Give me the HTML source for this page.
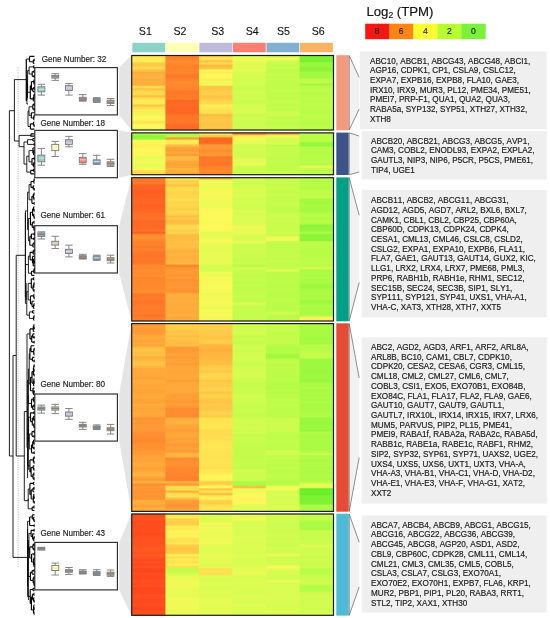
<!DOCTYPE html>
<html lang="en"><head><meta charset="utf-8"><title>Heatmap of gene clusters</title>
<style>html,body{margin:0;padding:0;background:#fff}body{width:550px;height:618px;overflow:hidden}svg{display:block}text{font-family:"Liberation Sans",sans-serif;fill:#1a1a1a;font-kerning:none}.g{font-size:8.15px;fill:#1c1c1c;stroke:#1c1c1c;stroke-width:.18px}.t{font-size:8.15px;fill:#1c1c1c;stroke:#1c1c1c;stroke-width:.15px}.s{font-size:10.6px;fill:#111;stroke:#111;stroke-width:.12px}.d line{stroke:#111;stroke-width:.7}.bx{stroke:#808080;stroke-width:.95}</style></head><body>
<svg width="550" height="618" viewBox="0 0 550 618">
<rect width="550" height="618" fill="#fff"/>
<defs>
<linearGradient id="g00" x1="0" y1="0" x2="0" y2="1"><stop offset="0.0100" stop-color="#ffdf50"/><stop offset="0.0213" stop-color="#ffdf50"/><stop offset="0.0413" stop-color="#ffed56"/><stop offset="0.0525" stop-color="#ffed56"/><stop offset="0.0725" stop-color="#ffef56"/><stop offset="0.0838" stop-color="#ffef56"/><stop offset="0.1037" stop-color="#ffcb48"/><stop offset="0.1150" stop-color="#ffcb48"/><stop offset="0.1350" stop-color="#ffc847"/><stop offset="0.1462" stop-color="#ffc847"/><stop offset="0.1663" stop-color="#ffdb4e"/><stop offset="0.1775" stop-color="#ffdb4e"/><stop offset="0.1975" stop-color="#ffc044"/><stop offset="0.2087" stop-color="#ffc044"/><stop offset="0.2288" stop-color="#ffab3b"/><stop offset="0.2400" stop-color="#ffab3b"/><stop offset="0.2600" stop-color="#ffb33e"/><stop offset="0.2712" stop-color="#ffb33e"/><stop offset="0.2913" stop-color="#ffb43f"/><stop offset="0.3025" stop-color="#ffb43f"/><stop offset="0.3225" stop-color="#ffab3b"/><stop offset="0.3337" stop-color="#ffab3b"/><stop offset="0.3538" stop-color="#ffaf3d"/><stop offset="0.3650" stop-color="#ffaf3d"/><stop offset="0.3850" stop-color="#ffab3b"/><stop offset="0.3962" stop-color="#ffab3b"/><stop offset="0.4163" stop-color="#ffdb4e"/><stop offset="0.4275" stop-color="#ffdb4e"/><stop offset="0.4475" stop-color="#ffc345"/><stop offset="0.4587" stop-color="#ffc345"/><stop offset="0.4788" stop-color="#ffd44c"/><stop offset="0.4900" stop-color="#ffd44c"/><stop offset="0.5100" stop-color="#ffdb4e"/><stop offset="0.5212" stop-color="#ffdb4e"/><stop offset="0.5413" stop-color="#ffbf43"/><stop offset="0.5525" stop-color="#ffbf43"/><stop offset="0.5725" stop-color="#ffe151"/><stop offset="0.5837" stop-color="#ffe151"/><stop offset="0.6038" stop-color="#ffec55"/><stop offset="0.6150" stop-color="#ffec55"/><stop offset="0.6350" stop-color="#ffec55"/><stop offset="0.6462" stop-color="#ffec55"/><stop offset="0.6663" stop-color="#ffc747"/><stop offset="0.6775" stop-color="#ffc747"/><stop offset="0.6975" stop-color="#ffe352"/><stop offset="0.7087" stop-color="#ffe352"/><stop offset="0.7288" stop-color="#ffeb55"/><stop offset="0.7400" stop-color="#ffeb55"/><stop offset="0.7600" stop-color="#ffed55"/><stop offset="0.7712" stop-color="#ffed55"/><stop offset="0.7913" stop-color="#e9fa55"/><stop offset="0.8025" stop-color="#e9fa55"/><stop offset="0.8225" stop-color="#fff85a"/><stop offset="0.8337" stop-color="#fff85a"/><stop offset="0.8538" stop-color="#fff659"/><stop offset="0.8650" stop-color="#fff659"/><stop offset="0.8850" stop-color="#ffe151"/><stop offset="0.8962" stop-color="#ffe151"/><stop offset="0.9163" stop-color="#fff559"/><stop offset="0.9275" stop-color="#fff559"/><stop offset="0.9475" stop-color="#fff85a"/><stop offset="0.9587" stop-color="#fff85a"/><stop offset="0.9788" stop-color="#e8fb55"/><stop offset="0.9900" stop-color="#e8fb55"/></linearGradient>
<linearGradient id="g01" x1="0" y1="0" x2="0" y2="1"><stop offset="0.0100" stop-color="#ff802b"/><stop offset="0.0213" stop-color="#ff802b"/><stop offset="0.0413" stop-color="#ff802b"/><stop offset="0.0525" stop-color="#ff802b"/><stop offset="0.0725" stop-color="#ff8b2e"/><stop offset="0.0838" stop-color="#ff8b2e"/><stop offset="0.1037" stop-color="#ff8b2e"/><stop offset="0.1150" stop-color="#ff8b2e"/><stop offset="0.1350" stop-color="#ff822b"/><stop offset="0.1462" stop-color="#ff822b"/><stop offset="0.1663" stop-color="#ff832b"/><stop offset="0.1775" stop-color="#ff832b"/><stop offset="0.1975" stop-color="#ff842b"/><stop offset="0.2087" stop-color="#ff842b"/><stop offset="0.2288" stop-color="#ff882d"/><stop offset="0.2400" stop-color="#ff882d"/><stop offset="0.2600" stop-color="#ff7929"/><stop offset="0.2712" stop-color="#ff7929"/><stop offset="0.2913" stop-color="#ff7929"/><stop offset="0.3025" stop-color="#ff7929"/><stop offset="0.3225" stop-color="#ff852c"/><stop offset="0.3337" stop-color="#ff852c"/><stop offset="0.3538" stop-color="#ff8a2e"/><stop offset="0.3650" stop-color="#ff8a2e"/><stop offset="0.3850" stop-color="#ff872c"/><stop offset="0.3962" stop-color="#ff872c"/><stop offset="0.4163" stop-color="#ff872d"/><stop offset="0.4275" stop-color="#ff872d"/><stop offset="0.4475" stop-color="#ff832b"/><stop offset="0.4587" stop-color="#ff832b"/><stop offset="0.4788" stop-color="#ff7828"/><stop offset="0.4900" stop-color="#ff7828"/><stop offset="0.5100" stop-color="#ff7829"/><stop offset="0.5212" stop-color="#ff7829"/><stop offset="0.5413" stop-color="#ff7d2a"/><stop offset="0.5525" stop-color="#ff7d2a"/><stop offset="0.5725" stop-color="#ff7e2a"/><stop offset="0.5837" stop-color="#ff7e2a"/><stop offset="0.6038" stop-color="#ff6724"/><stop offset="0.6150" stop-color="#ff6724"/><stop offset="0.6350" stop-color="#ff6a25"/><stop offset="0.6462" stop-color="#ff6a25"/><stop offset="0.6663" stop-color="#ff6a25"/><stop offset="0.6775" stop-color="#ff6a25"/><stop offset="0.6975" stop-color="#ff6524"/><stop offset="0.7087" stop-color="#ff6524"/><stop offset="0.7288" stop-color="#ff6724"/><stop offset="0.7400" stop-color="#ff6724"/><stop offset="0.7600" stop-color="#ff6624"/><stop offset="0.7712" stop-color="#ff6624"/><stop offset="0.7913" stop-color="#ff7327"/><stop offset="0.8025" stop-color="#ff7327"/><stop offset="0.8225" stop-color="#ff7828"/><stop offset="0.8337" stop-color="#ff7828"/><stop offset="0.8538" stop-color="#ff7728"/><stop offset="0.8650" stop-color="#ff7728"/><stop offset="0.8850" stop-color="#ff7b29"/><stop offset="0.8962" stop-color="#ff7b29"/><stop offset="0.9163" stop-color="#ff6d26"/><stop offset="0.9275" stop-color="#ff6d26"/><stop offset="0.9475" stop-color="#ff6925"/><stop offset="0.9587" stop-color="#ff6925"/><stop offset="0.9788" stop-color="#ff6c25"/><stop offset="0.9900" stop-color="#ff6c25"/></linearGradient>
<linearGradient id="g02" x1="0" y1="0" x2="0" y2="1"><stop offset="0.0100" stop-color="#ffcb48"/><stop offset="0.0213" stop-color="#ffcb48"/><stop offset="0.0413" stop-color="#ffeb55"/><stop offset="0.0525" stop-color="#ffeb55"/><stop offset="0.0725" stop-color="#ffc445"/><stop offset="0.0838" stop-color="#ffc445"/><stop offset="0.1037" stop-color="#ffd94d"/><stop offset="0.1150" stop-color="#ffd94d"/><stop offset="0.1350" stop-color="#ffbb41"/><stop offset="0.1462" stop-color="#ffbb41"/><stop offset="0.1663" stop-color="#ffc244"/><stop offset="0.1775" stop-color="#ffc244"/><stop offset="0.1975" stop-color="#fff85a"/><stop offset="0.2087" stop-color="#fff85a"/><stop offset="0.2288" stop-color="#ffee56"/><stop offset="0.2400" stop-color="#ffee56"/><stop offset="0.2600" stop-color="#fff559"/><stop offset="0.2712" stop-color="#fff559"/><stop offset="0.2913" stop-color="#fff659"/><stop offset="0.3025" stop-color="#fff659"/><stop offset="0.3225" stop-color="#ffeb55"/><stop offset="0.3337" stop-color="#ffeb55"/><stop offset="0.3538" stop-color="#edfa56"/><stop offset="0.3650" stop-color="#edfa56"/><stop offset="0.3850" stop-color="#f0fa57"/><stop offset="0.3962" stop-color="#f0fa57"/><stop offset="0.4163" stop-color="#ffc847"/><stop offset="0.4275" stop-color="#ffc847"/><stop offset="0.4475" stop-color="#ffc646"/><stop offset="0.4587" stop-color="#ffc646"/><stop offset="0.4788" stop-color="#ffcd49"/><stop offset="0.4900" stop-color="#ffcd49"/><stop offset="0.5100" stop-color="#ffd24b"/><stop offset="0.5212" stop-color="#ffd24b"/><stop offset="0.5413" stop-color="#ffc345"/><stop offset="0.5525" stop-color="#ffc345"/><stop offset="0.5725" stop-color="#ffc847"/><stop offset="0.5837" stop-color="#ffc847"/><stop offset="0.6038" stop-color="#ffd74d"/><stop offset="0.6150" stop-color="#ffd74d"/><stop offset="0.6350" stop-color="#ffd84d"/><stop offset="0.6462" stop-color="#ffd84d"/><stop offset="0.6663" stop-color="#fff258"/><stop offset="0.6775" stop-color="#fff258"/><stop offset="0.6975" stop-color="#ffe954"/><stop offset="0.7087" stop-color="#ffe954"/><stop offset="0.7288" stop-color="#ffdf50"/><stop offset="0.7400" stop-color="#ffdf50"/><stop offset="0.7600" stop-color="#ffe351"/><stop offset="0.7712" stop-color="#ffe351"/><stop offset="0.7913" stop-color="#ffbc42"/><stop offset="0.8025" stop-color="#ffbc42"/><stop offset="0.8225" stop-color="#ffc345"/><stop offset="0.8337" stop-color="#ffc345"/><stop offset="0.8538" stop-color="#ffc847"/><stop offset="0.8650" stop-color="#ffc847"/><stop offset="0.8850" stop-color="#ffc546"/><stop offset="0.8962" stop-color="#ffc546"/><stop offset="0.9163" stop-color="#ffc345"/><stop offset="0.9275" stop-color="#ffc345"/><stop offset="0.9475" stop-color="#ffc546"/><stop offset="0.9587" stop-color="#ffc546"/><stop offset="0.9788" stop-color="#ffc245"/><stop offset="0.9900" stop-color="#ffc245"/></linearGradient>
<linearGradient id="g03" x1="0" y1="0" x2="0" y2="1"><stop offset="0.0100" stop-color="#dafc51"/><stop offset="0.0213" stop-color="#dafc51"/><stop offset="0.0413" stop-color="#eefa56"/><stop offset="0.0525" stop-color="#eefa56"/><stop offset="0.0725" stop-color="#f0fa57"/><stop offset="0.0838" stop-color="#f0fa57"/><stop offset="0.1037" stop-color="#e0fc53"/><stop offset="0.1150" stop-color="#e0fc53"/><stop offset="0.1350" stop-color="#e0fc53"/><stop offset="0.1462" stop-color="#e0fc53"/><stop offset="0.1663" stop-color="#e2fb53"/><stop offset="0.1775" stop-color="#e2fb53"/><stop offset="0.1975" stop-color="#e6fb54"/><stop offset="0.2087" stop-color="#e6fb54"/><stop offset="0.2288" stop-color="#d7fc51"/><stop offset="0.2400" stop-color="#d7fc51"/><stop offset="0.2600" stop-color="#d7fc51"/><stop offset="0.2712" stop-color="#d7fc51"/><stop offset="0.2913" stop-color="#d3fc4f"/><stop offset="0.3025" stop-color="#d3fc4f"/><stop offset="0.3225" stop-color="#d5fc50"/><stop offset="0.3337" stop-color="#d5fc50"/><stop offset="0.3538" stop-color="#d3fc50"/><stop offset="0.3650" stop-color="#d3fc50"/><stop offset="0.3850" stop-color="#d2fc4f"/><stop offset="0.3962" stop-color="#d2fc4f"/><stop offset="0.4163" stop-color="#cafc4d"/><stop offset="0.4275" stop-color="#cafc4d"/><stop offset="0.4475" stop-color="#cbfc4d"/><stop offset="0.4587" stop-color="#cbfc4d"/><stop offset="0.4788" stop-color="#d1fc4f"/><stop offset="0.4900" stop-color="#d1fc4f"/><stop offset="0.5100" stop-color="#d0fc4f"/><stop offset="0.5212" stop-color="#d0fc4f"/><stop offset="0.5413" stop-color="#d0fc4f"/><stop offset="0.5525" stop-color="#d0fc4f"/><stop offset="0.5725" stop-color="#d0fc4f"/><stop offset="0.5837" stop-color="#d0fc4f"/><stop offset="0.6038" stop-color="#cbfc4d"/><stop offset="0.6150" stop-color="#cbfc4d"/><stop offset="0.6350" stop-color="#ccfc4e"/><stop offset="0.6462" stop-color="#ccfc4e"/><stop offset="0.6663" stop-color="#d6fc50"/><stop offset="0.6775" stop-color="#d6fc50"/><stop offset="0.6975" stop-color="#d7fc51"/><stop offset="0.7087" stop-color="#d7fc51"/><stop offset="0.7288" stop-color="#d8fc51"/><stop offset="0.7400" stop-color="#d8fc51"/><stop offset="0.7600" stop-color="#d8fc51"/><stop offset="0.7712" stop-color="#d8fc51"/><stop offset="0.7913" stop-color="#cafc4d"/><stop offset="0.8025" stop-color="#cafc4d"/><stop offset="0.8225" stop-color="#cefc4e"/><stop offset="0.8337" stop-color="#cefc4e"/><stop offset="0.8538" stop-color="#cffc4e"/><stop offset="0.8650" stop-color="#cffc4e"/><stop offset="0.8850" stop-color="#cefc4e"/><stop offset="0.8962" stop-color="#cefc4e"/><stop offset="0.9163" stop-color="#cbfc4d"/><stop offset="0.9275" stop-color="#cbfc4d"/><stop offset="0.9475" stop-color="#cdfc4e"/><stop offset="0.9587" stop-color="#cdfc4e"/><stop offset="0.9788" stop-color="#cafc4d"/><stop offset="0.9900" stop-color="#cafc4d"/></linearGradient>
<linearGradient id="g04" x1="0" y1="0" x2="0" y2="1"><stop offset="0.0100" stop-color="#c7fc4c"/><stop offset="0.0213" stop-color="#c7fc4c"/><stop offset="0.0413" stop-color="#fdf85a"/><stop offset="0.0525" stop-color="#fdf85a"/><stop offset="0.0725" stop-color="#d7fc51"/><stop offset="0.0838" stop-color="#d7fc51"/><stop offset="0.1037" stop-color="#c6fc4c"/><stop offset="0.1150" stop-color="#c6fc4c"/><stop offset="0.1350" stop-color="#c5fc4c"/><stop offset="0.1462" stop-color="#c5fc4c"/><stop offset="0.1663" stop-color="#c6fc4c"/><stop offset="0.1775" stop-color="#c6fc4c"/><stop offset="0.1975" stop-color="#bffc4a"/><stop offset="0.2087" stop-color="#bffc4a"/><stop offset="0.2288" stop-color="#c3fc4b"/><stop offset="0.2400" stop-color="#c3fc4b"/><stop offset="0.2600" stop-color="#c6fc4c"/><stop offset="0.2712" stop-color="#c6fc4c"/><stop offset="0.2913" stop-color="#c4fc4b"/><stop offset="0.3025" stop-color="#c4fc4b"/><stop offset="0.3225" stop-color="#c6fc4c"/><stop offset="0.3337" stop-color="#c6fc4c"/><stop offset="0.3538" stop-color="#c0fc4a"/><stop offset="0.3650" stop-color="#c0fc4a"/><stop offset="0.3850" stop-color="#c3fc4b"/><stop offset="0.3962" stop-color="#c3fc4b"/><stop offset="0.4163" stop-color="#c1fc4a"/><stop offset="0.4275" stop-color="#c1fc4a"/><stop offset="0.4475" stop-color="#c3fc4b"/><stop offset="0.4587" stop-color="#c3fc4b"/><stop offset="0.4788" stop-color="#c3fc4b"/><stop offset="0.4900" stop-color="#c3fc4b"/><stop offset="0.5100" stop-color="#bffc4a"/><stop offset="0.5212" stop-color="#bffc4a"/><stop offset="0.5413" stop-color="#c1fc4a"/><stop offset="0.5525" stop-color="#c1fc4a"/><stop offset="0.5725" stop-color="#c1fc4b"/><stop offset="0.5837" stop-color="#c1fc4b"/><stop offset="0.6038" stop-color="#c6fc4c"/><stop offset="0.6150" stop-color="#c6fc4c"/><stop offset="0.6350" stop-color="#c5fc4c"/><stop offset="0.6462" stop-color="#c5fc4c"/><stop offset="0.6663" stop-color="#c0fc4a"/><stop offset="0.6775" stop-color="#c0fc4a"/><stop offset="0.6975" stop-color="#c5fc4c"/><stop offset="0.7087" stop-color="#c5fc4c"/><stop offset="0.7288" stop-color="#c0fc4a"/><stop offset="0.7400" stop-color="#c0fc4a"/><stop offset="0.7600" stop-color="#d2fc4f"/><stop offset="0.7712" stop-color="#d2fc4f"/><stop offset="0.7913" stop-color="#cefc4e"/><stop offset="0.8025" stop-color="#cefc4e"/><stop offset="0.8225" stop-color="#bffc4a"/><stop offset="0.8337" stop-color="#bffc4a"/><stop offset="0.8538" stop-color="#c6fc4c"/><stop offset="0.8650" stop-color="#c6fc4c"/><stop offset="0.8850" stop-color="#c0fc4a"/><stop offset="0.8962" stop-color="#c0fc4a"/><stop offset="0.9163" stop-color="#c1fc4a"/><stop offset="0.9275" stop-color="#c1fc4a"/><stop offset="0.9475" stop-color="#c7fc4c"/><stop offset="0.9587" stop-color="#c7fc4c"/><stop offset="0.9788" stop-color="#c6fc4c"/><stop offset="0.9900" stop-color="#c6fc4c"/></linearGradient>
<linearGradient id="g05" x1="0" y1="0" x2="0" y2="1"><stop offset="0.0100" stop-color="#7af231"/><stop offset="0.0213" stop-color="#7af231"/><stop offset="0.0413" stop-color="#7af232"/><stop offset="0.0525" stop-color="#7af232"/><stop offset="0.0725" stop-color="#77f130"/><stop offset="0.0838" stop-color="#77f130"/><stop offset="0.1037" stop-color="#9af73d"/><stop offset="0.1150" stop-color="#9af73d"/><stop offset="0.1350" stop-color="#98f73d"/><stop offset="0.1462" stop-color="#98f73d"/><stop offset="0.1663" stop-color="#8df539"/><stop offset="0.1775" stop-color="#8df539"/><stop offset="0.1975" stop-color="#8cf538"/><stop offset="0.2087" stop-color="#8cf538"/><stop offset="0.2288" stop-color="#a6f942"/><stop offset="0.2400" stop-color="#a6f942"/><stop offset="0.2600" stop-color="#a3f941"/><stop offset="0.2712" stop-color="#a3f941"/><stop offset="0.2913" stop-color="#a6f942"/><stop offset="0.3025" stop-color="#a6f942"/><stop offset="0.3225" stop-color="#bdfc49"/><stop offset="0.3337" stop-color="#bdfc49"/><stop offset="0.3538" stop-color="#c2fc4b"/><stop offset="0.3650" stop-color="#c2fc4b"/><stop offset="0.3850" stop-color="#a2f940"/><stop offset="0.3962" stop-color="#a2f940"/><stop offset="0.4163" stop-color="#bbfc49"/><stop offset="0.4275" stop-color="#bbfc49"/><stop offset="0.4475" stop-color="#bcfc49"/><stop offset="0.4587" stop-color="#bcfc49"/><stop offset="0.4788" stop-color="#bdfc49"/><stop offset="0.4900" stop-color="#bdfc49"/><stop offset="0.5100" stop-color="#b9fc48"/><stop offset="0.5212" stop-color="#b9fc48"/><stop offset="0.5413" stop-color="#bcfc49"/><stop offset="0.5525" stop-color="#bcfc49"/><stop offset="0.5725" stop-color="#befc4a"/><stop offset="0.5837" stop-color="#befc4a"/><stop offset="0.6038" stop-color="#bafc48"/><stop offset="0.6150" stop-color="#bafc48"/><stop offset="0.6350" stop-color="#befc4a"/><stop offset="0.6462" stop-color="#befc4a"/><stop offset="0.6663" stop-color="#bdfc49"/><stop offset="0.6775" stop-color="#bdfc49"/><stop offset="0.6975" stop-color="#befc4a"/><stop offset="0.7087" stop-color="#befc4a"/><stop offset="0.7288" stop-color="#bafc49"/><stop offset="0.7400" stop-color="#bafc49"/><stop offset="0.7600" stop-color="#b8fc48"/><stop offset="0.7712" stop-color="#b8fc48"/><stop offset="0.7913" stop-color="#befc4a"/><stop offset="0.8025" stop-color="#befc4a"/><stop offset="0.8225" stop-color="#befc4a"/><stop offset="0.8337" stop-color="#befc4a"/><stop offset="0.8538" stop-color="#bbfc49"/><stop offset="0.8650" stop-color="#bbfc49"/><stop offset="0.8850" stop-color="#b8fc48"/><stop offset="0.8962" stop-color="#b8fc48"/><stop offset="0.9163" stop-color="#b9fc48"/><stop offset="0.9275" stop-color="#b9fc48"/><stop offset="0.9475" stop-color="#bdfc49"/><stop offset="0.9587" stop-color="#bdfc49"/><stop offset="0.9788" stop-color="#bafc49"/><stop offset="0.9900" stop-color="#bafc49"/></linearGradient>
<linearGradient id="g10" x1="0" y1="0" x2="0" y2="1"><stop offset="0.0178" stop-color="#b8fc48"/><stop offset="0.0378" stop-color="#b8fc48"/><stop offset="0.0733" stop-color="#8cf539"/><stop offset="0.0933" stop-color="#8cf539"/><stop offset="0.1289" stop-color="#90f63a"/><stop offset="0.1489" stop-color="#90f63a"/><stop offset="0.1844" stop-color="#fbf859"/><stop offset="0.2044" stop-color="#fbf859"/><stop offset="0.2400" stop-color="#fcf859"/><stop offset="0.2600" stop-color="#fcf859"/><stop offset="0.2956" stop-color="#ffee56"/><stop offset="0.3156" stop-color="#ffee56"/><stop offset="0.3511" stop-color="#fff358"/><stop offset="0.3711" stop-color="#fff358"/><stop offset="0.4067" stop-color="#fff85a"/><stop offset="0.4267" stop-color="#fff85a"/><stop offset="0.4622" stop-color="#fff659"/><stop offset="0.4822" stop-color="#fff659"/><stop offset="0.5178" stop-color="#fff458"/><stop offset="0.5378" stop-color="#fff458"/><stop offset="0.5733" stop-color="#e7fb54"/><stop offset="0.5933" stop-color="#e7fb54"/><stop offset="0.6289" stop-color="#e8fb55"/><stop offset="0.6489" stop-color="#e8fb55"/><stop offset="0.6844" stop-color="#f5f958"/><stop offset="0.7044" stop-color="#f5f958"/><stop offset="0.7400" stop-color="#e9fb55"/><stop offset="0.7600" stop-color="#e9fb55"/><stop offset="0.7956" stop-color="#e8fb55"/><stop offset="0.8156" stop-color="#e8fb55"/><stop offset="0.8511" stop-color="#f8f958"/><stop offset="0.8711" stop-color="#f8f958"/><stop offset="0.9067" stop-color="#ffda4e"/><stop offset="0.9267" stop-color="#ffda4e"/><stop offset="0.9622" stop-color="#ffda4e"/><stop offset="0.9822" stop-color="#ffda4e"/></linearGradient>
<linearGradient id="g11" x1="0" y1="0" x2="0" y2="1"><stop offset="0.0178" stop-color="#b0fb45"/><stop offset="0.0378" stop-color="#b0fb45"/><stop offset="0.0733" stop-color="#b1fb46"/><stop offset="0.0933" stop-color="#b1fb46"/><stop offset="0.1289" stop-color="#ff9a34"/><stop offset="0.1489" stop-color="#ff9a34"/><stop offset="0.1844" stop-color="#ffeb55"/><stop offset="0.2044" stop-color="#ffeb55"/><stop offset="0.2400" stop-color="#ffec55"/><stop offset="0.2600" stop-color="#ffec55"/><stop offset="0.2956" stop-color="#ffbe43"/><stop offset="0.3156" stop-color="#ffbe43"/><stop offset="0.3511" stop-color="#ffa438"/><stop offset="0.3711" stop-color="#ffa438"/><stop offset="0.4067" stop-color="#ff9d35"/><stop offset="0.4267" stop-color="#ff9d35"/><stop offset="0.4622" stop-color="#ffaa3a"/><stop offset="0.4822" stop-color="#ffaa3a"/><stop offset="0.5178" stop-color="#ff9d35"/><stop offset="0.5378" stop-color="#ff9d35"/><stop offset="0.5733" stop-color="#ffbb42"/><stop offset="0.5933" stop-color="#ffbb42"/><stop offset="0.6289" stop-color="#ffba41"/><stop offset="0.6489" stop-color="#ffba41"/><stop offset="0.6844" stop-color="#ffa539"/><stop offset="0.7044" stop-color="#ffa539"/><stop offset="0.7400" stop-color="#ffa237"/><stop offset="0.7600" stop-color="#ffa237"/><stop offset="0.7956" stop-color="#ffa539"/><stop offset="0.8156" stop-color="#ffa539"/><stop offset="0.8511" stop-color="#ffb740"/><stop offset="0.8711" stop-color="#ffb740"/><stop offset="0.9067" stop-color="#ffac3b"/><stop offset="0.9267" stop-color="#ffac3b"/><stop offset="0.9622" stop-color="#ffa338"/><stop offset="0.9822" stop-color="#ffa338"/></linearGradient>
<linearGradient id="g12" x1="0" y1="0" x2="0" y2="1"><stop offset="0.0178" stop-color="#ffe954"/><stop offset="0.0378" stop-color="#ffe954"/><stop offset="0.0733" stop-color="#ffc646"/><stop offset="0.0933" stop-color="#ffc646"/><stop offset="0.1289" stop-color="#ff6824"/><stop offset="0.1489" stop-color="#ff6824"/><stop offset="0.1844" stop-color="#ff6624"/><stop offset="0.2044" stop-color="#ff6624"/><stop offset="0.2400" stop-color="#ff6e26"/><stop offset="0.2600" stop-color="#ff6e26"/><stop offset="0.2956" stop-color="#ff9934"/><stop offset="0.3156" stop-color="#ff9934"/><stop offset="0.3511" stop-color="#ff9a34"/><stop offset="0.3711" stop-color="#ff9a34"/><stop offset="0.4067" stop-color="#ff8f30"/><stop offset="0.4267" stop-color="#ff8f30"/><stop offset="0.4622" stop-color="#ff9331"/><stop offset="0.4822" stop-color="#ff9331"/><stop offset="0.5178" stop-color="#ff9b34"/><stop offset="0.5378" stop-color="#ff9b34"/><stop offset="0.5733" stop-color="#ff7528"/><stop offset="0.5933" stop-color="#ff7528"/><stop offset="0.6289" stop-color="#ff7929"/><stop offset="0.6489" stop-color="#ff7929"/><stop offset="0.6844" stop-color="#ff7828"/><stop offset="0.7044" stop-color="#ff7828"/><stop offset="0.7400" stop-color="#ff7628"/><stop offset="0.7600" stop-color="#ff7628"/><stop offset="0.7956" stop-color="#ff822b"/><stop offset="0.8156" stop-color="#ff822b"/><stop offset="0.8511" stop-color="#ff852c"/><stop offset="0.8711" stop-color="#ff852c"/><stop offset="0.9067" stop-color="#ff8c2e"/><stop offset="0.9267" stop-color="#ff8c2e"/><stop offset="0.9622" stop-color="#ff892d"/><stop offset="0.9822" stop-color="#ff892d"/></linearGradient>
<linearGradient id="g13" x1="0" y1="0" x2="0" y2="1"><stop offset="0.0178" stop-color="#ff8b2e"/><stop offset="0.0378" stop-color="#ff8b2e"/><stop offset="0.0733" stop-color="#ffe954"/><stop offset="0.0933" stop-color="#ffe954"/><stop offset="0.1289" stop-color="#ebfa55"/><stop offset="0.1489" stop-color="#ebfa55"/><stop offset="0.1844" stop-color="#edfa56"/><stop offset="0.2044" stop-color="#edfa56"/><stop offset="0.2400" stop-color="#e8fb55"/><stop offset="0.2600" stop-color="#e8fb55"/><stop offset="0.2956" stop-color="#cffc4e"/><stop offset="0.3156" stop-color="#cffc4e"/><stop offset="0.3511" stop-color="#d3fc50"/><stop offset="0.3711" stop-color="#d3fc50"/><stop offset="0.4067" stop-color="#d2fc4f"/><stop offset="0.4267" stop-color="#d2fc4f"/><stop offset="0.4622" stop-color="#d0fc4f"/><stop offset="0.4822" stop-color="#d0fc4f"/><stop offset="0.5178" stop-color="#d3fc4f"/><stop offset="0.5378" stop-color="#d3fc4f"/><stop offset="0.5733" stop-color="#d0fc4f"/><stop offset="0.5933" stop-color="#d0fc4f"/><stop offset="0.6289" stop-color="#e5fb54"/><stop offset="0.6489" stop-color="#e5fb54"/><stop offset="0.6844" stop-color="#e0fc53"/><stop offset="0.7044" stop-color="#e0fc53"/><stop offset="0.7400" stop-color="#effa56"/><stop offset="0.7600" stop-color="#effa56"/><stop offset="0.7956" stop-color="#cdfc4e"/><stop offset="0.8156" stop-color="#cdfc4e"/><stop offset="0.8511" stop-color="#c9fc4d"/><stop offset="0.8711" stop-color="#c9fc4d"/><stop offset="0.9067" stop-color="#c8fc4c"/><stop offset="0.9267" stop-color="#c8fc4c"/><stop offset="0.9622" stop-color="#ccfc4e"/><stop offset="0.9822" stop-color="#ccfc4e"/></linearGradient>
<linearGradient id="g14" x1="0" y1="0" x2="0" y2="1"><stop offset="0.0178" stop-color="#ffa639"/><stop offset="0.0378" stop-color="#ffa639"/><stop offset="0.0733" stop-color="#edfa56"/><stop offset="0.0933" stop-color="#edfa56"/><stop offset="0.1289" stop-color="#d7fc51"/><stop offset="0.1489" stop-color="#d7fc51"/><stop offset="0.1844" stop-color="#d2fc4f"/><stop offset="0.2044" stop-color="#d2fc4f"/><stop offset="0.2400" stop-color="#d9fc51"/><stop offset="0.2600" stop-color="#d9fc51"/><stop offset="0.2956" stop-color="#bffc4a"/><stop offset="0.3156" stop-color="#bffc4a"/><stop offset="0.3511" stop-color="#c6fc4c"/><stop offset="0.3711" stop-color="#c6fc4c"/><stop offset="0.4067" stop-color="#c4fc4b"/><stop offset="0.4267" stop-color="#c4fc4b"/><stop offset="0.4622" stop-color="#c6fc4c"/><stop offset="0.4822" stop-color="#c6fc4c"/><stop offset="0.5178" stop-color="#c7fc4c"/><stop offset="0.5378" stop-color="#c7fc4c"/><stop offset="0.5733" stop-color="#c1fc4a"/><stop offset="0.5933" stop-color="#c1fc4a"/><stop offset="0.6289" stop-color="#c2fc4b"/><stop offset="0.6489" stop-color="#c2fc4b"/><stop offset="0.6844" stop-color="#c4fc4b"/><stop offset="0.7044" stop-color="#c4fc4b"/><stop offset="0.7400" stop-color="#c1fc4b"/><stop offset="0.7600" stop-color="#c1fc4b"/><stop offset="0.7956" stop-color="#c1fc4a"/><stop offset="0.8156" stop-color="#c1fc4a"/><stop offset="0.8511" stop-color="#c1fc4a"/><stop offset="0.8711" stop-color="#c1fc4a"/><stop offset="0.9067" stop-color="#c6fc4c"/><stop offset="0.9267" stop-color="#c6fc4c"/><stop offset="0.9622" stop-color="#c6fc4c"/><stop offset="0.9822" stop-color="#c6fc4c"/></linearGradient>
<linearGradient id="g15" x1="0" y1="0" x2="0" y2="1"><stop offset="0.0178" stop-color="#bbfc49"/><stop offset="0.0378" stop-color="#bbfc49"/><stop offset="0.0733" stop-color="#bbfc49"/><stop offset="0.0933" stop-color="#bbfc49"/><stop offset="0.1289" stop-color="#bbfc49"/><stop offset="0.1489" stop-color="#bbfc49"/><stop offset="0.1844" stop-color="#bbfc49"/><stop offset="0.2044" stop-color="#bbfc49"/><stop offset="0.2400" stop-color="#97f73d"/><stop offset="0.2600" stop-color="#97f73d"/><stop offset="0.2956" stop-color="#99f73d"/><stop offset="0.3156" stop-color="#99f73d"/><stop offset="0.3511" stop-color="#b6fc47"/><stop offset="0.3711" stop-color="#b6fc47"/><stop offset="0.4067" stop-color="#b9fc48"/><stop offset="0.4267" stop-color="#b9fc48"/><stop offset="0.4622" stop-color="#b4fb46"/><stop offset="0.4822" stop-color="#b4fb46"/><stop offset="0.5178" stop-color="#b6fc47"/><stop offset="0.5378" stop-color="#b6fc47"/><stop offset="0.5733" stop-color="#b7fc47"/><stop offset="0.5933" stop-color="#b7fc47"/><stop offset="0.6289" stop-color="#b5fc47"/><stop offset="0.6489" stop-color="#b5fc47"/><stop offset="0.6844" stop-color="#bafc49"/><stop offset="0.7044" stop-color="#bafc49"/><stop offset="0.7400" stop-color="#b6fc47"/><stop offset="0.7600" stop-color="#b6fc47"/><stop offset="0.7956" stop-color="#e9fb55"/><stop offset="0.8156" stop-color="#e9fb55"/><stop offset="0.8511" stop-color="#c3fc4b"/><stop offset="0.8711" stop-color="#c3fc4b"/><stop offset="0.9067" stop-color="#bdfc49"/><stop offset="0.9267" stop-color="#bdfc49"/><stop offset="0.9622" stop-color="#c2fc4b"/><stop offset="0.9822" stop-color="#c2fc4b"/></linearGradient>
<linearGradient id="g20" x1="0" y1="0" x2="0" y2="1"><stop offset="0.0052" stop-color="#ff7f2a"/><stop offset="0.0111" stop-color="#ff7f2a"/><stop offset="0.0216" stop-color="#ff7829"/><stop offset="0.0275" stop-color="#ff7829"/><stop offset="0.0380" stop-color="#ff7929"/><stop offset="0.0439" stop-color="#ff7929"/><stop offset="0.0544" stop-color="#ff6223"/><stop offset="0.0603" stop-color="#ff6223"/><stop offset="0.0708" stop-color="#ff6524"/><stop offset="0.0767" stop-color="#ff6524"/><stop offset="0.0872" stop-color="#ff5e22"/><stop offset="0.0931" stop-color="#ff5e22"/><stop offset="0.1036" stop-color="#ff5e22"/><stop offset="0.1095" stop-color="#ff5e22"/><stop offset="0.1200" stop-color="#ff6123"/><stop offset="0.1259" stop-color="#ff6123"/><stop offset="0.1364" stop-color="#ff6223"/><stop offset="0.1423" stop-color="#ff6223"/><stop offset="0.1528" stop-color="#ff6524"/><stop offset="0.1587" stop-color="#ff6524"/><stop offset="0.1692" stop-color="#ff6824"/><stop offset="0.1751" stop-color="#ff6824"/><stop offset="0.1856" stop-color="#ff6323"/><stop offset="0.1915" stop-color="#ff6323"/><stop offset="0.2020" stop-color="#ff6123"/><stop offset="0.2079" stop-color="#ff6123"/><stop offset="0.2184" stop-color="#ff6724"/><stop offset="0.2243" stop-color="#ff6724"/><stop offset="0.2348" stop-color="#ff6925"/><stop offset="0.2407" stop-color="#ff6925"/><stop offset="0.2511" stop-color="#ff7027"/><stop offset="0.2570" stop-color="#ff7027"/><stop offset="0.2675" stop-color="#ff7027"/><stop offset="0.2734" stop-color="#ff7027"/><stop offset="0.2839" stop-color="#ff7227"/><stop offset="0.2898" stop-color="#ff7227"/><stop offset="0.3003" stop-color="#ff6724"/><stop offset="0.3062" stop-color="#ff6724"/><stop offset="0.3167" stop-color="#ff6a25"/><stop offset="0.3226" stop-color="#ff6a25"/><stop offset="0.3331" stop-color="#ff6825"/><stop offset="0.3390" stop-color="#ff6825"/><stop offset="0.3495" stop-color="#ff6b25"/><stop offset="0.3554" stop-color="#ff6b25"/><stop offset="0.3659" stop-color="#ff7327"/><stop offset="0.3718" stop-color="#ff7327"/><stop offset="0.3823" stop-color="#ff6123"/><stop offset="0.3882" stop-color="#ff6123"/><stop offset="0.3987" stop-color="#ff8e2f"/><stop offset="0.4046" stop-color="#ff8e2f"/><stop offset="0.4151" stop-color="#ff9331"/><stop offset="0.4210" stop-color="#ff9331"/><stop offset="0.4315" stop-color="#ff892d"/><stop offset="0.4374" stop-color="#ff892d"/><stop offset="0.4479" stop-color="#ff822b"/><stop offset="0.4538" stop-color="#ff822b"/><stop offset="0.4643" stop-color="#ff852c"/><stop offset="0.4702" stop-color="#ff852c"/><stop offset="0.4807" stop-color="#ff7c2a"/><stop offset="0.4866" stop-color="#ff7c2a"/><stop offset="0.4970" stop-color="#ff852c"/><stop offset="0.5030" stop-color="#ff852c"/><stop offset="0.5134" stop-color="#ff7b29"/><stop offset="0.5193" stop-color="#ff7b29"/><stop offset="0.5298" stop-color="#ff7628"/><stop offset="0.5357" stop-color="#ff7628"/><stop offset="0.5462" stop-color="#ff7528"/><stop offset="0.5521" stop-color="#ff7528"/><stop offset="0.5626" stop-color="#ff7728"/><stop offset="0.5685" stop-color="#ff7728"/><stop offset="0.5790" stop-color="#ff7528"/><stop offset="0.5849" stop-color="#ff7528"/><stop offset="0.5954" stop-color="#ff7929"/><stop offset="0.6013" stop-color="#ff7929"/><stop offset="0.6118" stop-color="#ff8e2f"/><stop offset="0.6177" stop-color="#ff8e2f"/><stop offset="0.6282" stop-color="#ff872c"/><stop offset="0.6341" stop-color="#ff872c"/><stop offset="0.6446" stop-color="#ff8f2f"/><stop offset="0.6505" stop-color="#ff8f2f"/><stop offset="0.6610" stop-color="#ff882d"/><stop offset="0.6669" stop-color="#ff882d"/><stop offset="0.6774" stop-color="#ff8f30"/><stop offset="0.6833" stop-color="#ff8f30"/><stop offset="0.6938" stop-color="#ff862c"/><stop offset="0.6997" stop-color="#ff862c"/><stop offset="0.7102" stop-color="#ff872c"/><stop offset="0.7161" stop-color="#ff872c"/><stop offset="0.7266" stop-color="#ff882d"/><stop offset="0.7325" stop-color="#ff882d"/><stop offset="0.7430" stop-color="#ff882d"/><stop offset="0.7489" stop-color="#ff882d"/><stop offset="0.7593" stop-color="#ff8a2e"/><stop offset="0.7652" stop-color="#ff8a2e"/><stop offset="0.7757" stop-color="#ff892d"/><stop offset="0.7816" stop-color="#ff892d"/><stop offset="0.7921" stop-color="#ff9030"/><stop offset="0.7980" stop-color="#ff9030"/><stop offset="0.8085" stop-color="#ff7b29"/><stop offset="0.8144" stop-color="#ff7b29"/><stop offset="0.8249" stop-color="#ff7728"/><stop offset="0.8308" stop-color="#ff7728"/><stop offset="0.8413" stop-color="#ff7e2a"/><stop offset="0.8472" stop-color="#ff7e2a"/><stop offset="0.8577" stop-color="#ff7628"/><stop offset="0.8636" stop-color="#ff7628"/><stop offset="0.8741" stop-color="#ff7628"/><stop offset="0.8800" stop-color="#ff7628"/><stop offset="0.8905" stop-color="#ff7c29"/><stop offset="0.8964" stop-color="#ff7c29"/><stop offset="0.9069" stop-color="#ff7c2a"/><stop offset="0.9128" stop-color="#ff7c2a"/><stop offset="0.9233" stop-color="#ff7b29"/><stop offset="0.9292" stop-color="#ff7b29"/><stop offset="0.9397" stop-color="#ff7c2a"/><stop offset="0.9456" stop-color="#ff7c2a"/><stop offset="0.9561" stop-color="#ff7528"/><stop offset="0.9620" stop-color="#ff7528"/><stop offset="0.9725" stop-color="#ff7c2a"/><stop offset="0.9784" stop-color="#ff7c2a"/><stop offset="0.9889" stop-color="#ff812b"/><stop offset="0.9948" stop-color="#ff812b"/></linearGradient>
<linearGradient id="g21" x1="0" y1="0" x2="0" y2="1"><stop offset="0.0052" stop-color="#ffec55"/><stop offset="0.0111" stop-color="#ffec55"/><stop offset="0.0216" stop-color="#ffd04a"/><stop offset="0.0275" stop-color="#ffd04a"/><stop offset="0.0380" stop-color="#ffd14b"/><stop offset="0.0439" stop-color="#ffd14b"/><stop offset="0.0544" stop-color="#ffc445"/><stop offset="0.0603" stop-color="#ffc445"/><stop offset="0.0708" stop-color="#ffd84d"/><stop offset="0.0767" stop-color="#ffd84d"/><stop offset="0.0872" stop-color="#ffd94e"/><stop offset="0.0931" stop-color="#ffd94e"/><stop offset="0.1036" stop-color="#ffd24b"/><stop offset="0.1095" stop-color="#ffd24b"/><stop offset="0.1200" stop-color="#ffd64c"/><stop offset="0.1259" stop-color="#ffd64c"/><stop offset="0.1364" stop-color="#ffd54c"/><stop offset="0.1423" stop-color="#ffd54c"/><stop offset="0.1528" stop-color="#ffde4f"/><stop offset="0.1587" stop-color="#ffde4f"/><stop offset="0.1692" stop-color="#ffd44c"/><stop offset="0.1751" stop-color="#ffd44c"/><stop offset="0.1856" stop-color="#ffd64d"/><stop offset="0.1915" stop-color="#ffd64d"/><stop offset="0.2020" stop-color="#ffd34b"/><stop offset="0.2079" stop-color="#ffd34b"/><stop offset="0.2184" stop-color="#ffce49"/><stop offset="0.2243" stop-color="#ffce49"/><stop offset="0.2348" stop-color="#ffd84d"/><stop offset="0.2407" stop-color="#ffd84d"/><stop offset="0.2511" stop-color="#ffd44c"/><stop offset="0.2570" stop-color="#ffd44c"/><stop offset="0.2675" stop-color="#ffbf43"/><stop offset="0.2734" stop-color="#ffbf43"/><stop offset="0.2839" stop-color="#ffc847"/><stop offset="0.2898" stop-color="#ffc847"/><stop offset="0.3003" stop-color="#ffbd42"/><stop offset="0.3062" stop-color="#ffbd42"/><stop offset="0.3167" stop-color="#ffc144"/><stop offset="0.3226" stop-color="#ffc144"/><stop offset="0.3331" stop-color="#ffd64d"/><stop offset="0.3390" stop-color="#ffd64d"/><stop offset="0.3495" stop-color="#ffd84d"/><stop offset="0.3554" stop-color="#ffd84d"/><stop offset="0.3659" stop-color="#ffcf4a"/><stop offset="0.3718" stop-color="#ffcf4a"/><stop offset="0.3823" stop-color="#ffd34b"/><stop offset="0.3882" stop-color="#ffd34b"/><stop offset="0.3987" stop-color="#ffbc42"/><stop offset="0.4046" stop-color="#ffbc42"/><stop offset="0.4151" stop-color="#ffbe43"/><stop offset="0.4210" stop-color="#ffbe43"/><stop offset="0.4315" stop-color="#ffbc42"/><stop offset="0.4374" stop-color="#ffbc42"/><stop offset="0.4479" stop-color="#ffc144"/><stop offset="0.4538" stop-color="#ffc144"/><stop offset="0.4643" stop-color="#ffbf43"/><stop offset="0.4702" stop-color="#ffbf43"/><stop offset="0.4807" stop-color="#ffc144"/><stop offset="0.4866" stop-color="#ffc144"/><stop offset="0.4970" stop-color="#ffb740"/><stop offset="0.5030" stop-color="#ffb740"/><stop offset="0.5134" stop-color="#ffae3c"/><stop offset="0.5193" stop-color="#ffae3c"/><stop offset="0.5298" stop-color="#ffb640"/><stop offset="0.5357" stop-color="#ffb640"/><stop offset="0.5462" stop-color="#ffb13d"/><stop offset="0.5521" stop-color="#ffb13d"/><stop offset="0.5626" stop-color="#ffae3c"/><stop offset="0.5685" stop-color="#ffae3c"/><stop offset="0.5790" stop-color="#ffb23e"/><stop offset="0.5849" stop-color="#ffb23e"/><stop offset="0.5954" stop-color="#ffb840"/><stop offset="0.6013" stop-color="#ffb840"/><stop offset="0.6118" stop-color="#ff852c"/><stop offset="0.6177" stop-color="#ff852c"/><stop offset="0.6282" stop-color="#ff9432"/><stop offset="0.6341" stop-color="#ff9432"/><stop offset="0.6446" stop-color="#ff9a34"/><stop offset="0.6505" stop-color="#ff9a34"/><stop offset="0.6610" stop-color="#ff9c35"/><stop offset="0.6669" stop-color="#ff9c35"/><stop offset="0.6774" stop-color="#ff9632"/><stop offset="0.6833" stop-color="#ff9632"/><stop offset="0.6938" stop-color="#ff9c35"/><stop offset="0.6997" stop-color="#ff9c35"/><stop offset="0.7102" stop-color="#ff9131"/><stop offset="0.7161" stop-color="#ff9131"/><stop offset="0.7266" stop-color="#ff9633"/><stop offset="0.7325" stop-color="#ff9633"/><stop offset="0.7430" stop-color="#ff9633"/><stop offset="0.7489" stop-color="#ff9633"/><stop offset="0.7593" stop-color="#ff9733"/><stop offset="0.7652" stop-color="#ff9733"/><stop offset="0.7757" stop-color="#ff9432"/><stop offset="0.7816" stop-color="#ff9432"/><stop offset="0.7921" stop-color="#ff9131"/><stop offset="0.7980" stop-color="#ff9131"/><stop offset="0.8085" stop-color="#ffae3c"/><stop offset="0.8144" stop-color="#ffae3c"/><stop offset="0.8249" stop-color="#ffad3c"/><stop offset="0.8308" stop-color="#ffad3c"/><stop offset="0.8413" stop-color="#ffab3b"/><stop offset="0.8472" stop-color="#ffab3b"/><stop offset="0.8577" stop-color="#ffae3c"/><stop offset="0.8636" stop-color="#ffae3c"/><stop offset="0.8741" stop-color="#ffab3b"/><stop offset="0.8800" stop-color="#ffab3b"/><stop offset="0.8905" stop-color="#ffab3b"/><stop offset="0.8964" stop-color="#ffab3b"/><stop offset="0.9069" stop-color="#ffad3c"/><stop offset="0.9128" stop-color="#ffad3c"/><stop offset="0.9233" stop-color="#ffaa3b"/><stop offset="0.9292" stop-color="#ffaa3b"/><stop offset="0.9397" stop-color="#ffab3b"/><stop offset="0.9456" stop-color="#ffab3b"/><stop offset="0.9561" stop-color="#ffb13d"/><stop offset="0.9620" stop-color="#ffb13d"/><stop offset="0.9725" stop-color="#ffa639"/><stop offset="0.9784" stop-color="#ffa639"/><stop offset="0.9889" stop-color="#ffae3c"/><stop offset="0.9948" stop-color="#ffae3c"/></linearGradient>
<linearGradient id="g22" x1="0" y1="0" x2="0" y2="1"><stop offset="0.0052" stop-color="#ffbc42"/><stop offset="0.0111" stop-color="#ffbc42"/><stop offset="0.0216" stop-color="#effa56"/><stop offset="0.0275" stop-color="#effa56"/><stop offset="0.0380" stop-color="#effa56"/><stop offset="0.0439" stop-color="#effa56"/><stop offset="0.0544" stop-color="#e9fb55"/><stop offset="0.0603" stop-color="#e9fb55"/><stop offset="0.0708" stop-color="#ecfa56"/><stop offset="0.0767" stop-color="#ecfa56"/><stop offset="0.0872" stop-color="#f7f958"/><stop offset="0.0931" stop-color="#f7f958"/><stop offset="0.1036" stop-color="#f8f958"/><stop offset="0.1095" stop-color="#f8f958"/><stop offset="0.1200" stop-color="#f5f958"/><stop offset="0.1259" stop-color="#f5f958"/><stop offset="0.1364" stop-color="#effa56"/><stop offset="0.1423" stop-color="#effa56"/><stop offset="0.1528" stop-color="#f1fa57"/><stop offset="0.1587" stop-color="#f1fa57"/><stop offset="0.1692" stop-color="#effa56"/><stop offset="0.1751" stop-color="#effa56"/><stop offset="0.1856" stop-color="#f1fa57"/><stop offset="0.1915" stop-color="#f1fa57"/><stop offset="0.2020" stop-color="#edfa56"/><stop offset="0.2079" stop-color="#edfa56"/><stop offset="0.2184" stop-color="#f8f958"/><stop offset="0.2243" stop-color="#f8f958"/><stop offset="0.2348" stop-color="#fdf85a"/><stop offset="0.2407" stop-color="#fdf85a"/><stop offset="0.2511" stop-color="#fbf859"/><stop offset="0.2570" stop-color="#fbf859"/><stop offset="0.2675" stop-color="#fcf859"/><stop offset="0.2734" stop-color="#fcf859"/><stop offset="0.2839" stop-color="#fdf85a"/><stop offset="0.2898" stop-color="#fdf85a"/><stop offset="0.3003" stop-color="#faf959"/><stop offset="0.3062" stop-color="#faf959"/><stop offset="0.3167" stop-color="#f8f958"/><stop offset="0.3226" stop-color="#f8f958"/><stop offset="0.3331" stop-color="#fef85a"/><stop offset="0.3390" stop-color="#fef85a"/><stop offset="0.3495" stop-color="#fcf859"/><stop offset="0.3554" stop-color="#fcf859"/><stop offset="0.3659" stop-color="#fdf859"/><stop offset="0.3718" stop-color="#fdf859"/><stop offset="0.3823" stop-color="#e7fb55"/><stop offset="0.3882" stop-color="#e7fb55"/><stop offset="0.3987" stop-color="#eafa55"/><stop offset="0.4046" stop-color="#eafa55"/><stop offset="0.4151" stop-color="#e5fb54"/><stop offset="0.4210" stop-color="#e5fb54"/><stop offset="0.4315" stop-color="#f7f958"/><stop offset="0.4374" stop-color="#f7f958"/><stop offset="0.4479" stop-color="#f3f957"/><stop offset="0.4538" stop-color="#f3f957"/><stop offset="0.4643" stop-color="#e7fb55"/><stop offset="0.4702" stop-color="#e7fb55"/><stop offset="0.4807" stop-color="#e8fb55"/><stop offset="0.4866" stop-color="#e8fb55"/><stop offset="0.4970" stop-color="#e5fb54"/><stop offset="0.5030" stop-color="#e5fb54"/><stop offset="0.5134" stop-color="#e3fb54"/><stop offset="0.5193" stop-color="#e3fb54"/><stop offset="0.5298" stop-color="#e6fb54"/><stop offset="0.5357" stop-color="#e6fb54"/><stop offset="0.5462" stop-color="#e8fb55"/><stop offset="0.5521" stop-color="#e8fb55"/><stop offset="0.5626" stop-color="#e7fb55"/><stop offset="0.5685" stop-color="#e7fb55"/><stop offset="0.5790" stop-color="#e6fb54"/><stop offset="0.5849" stop-color="#e6fb54"/><stop offset="0.5954" stop-color="#e8fb55"/><stop offset="0.6013" stop-color="#e8fb55"/><stop offset="0.6118" stop-color="#d6fc50"/><stop offset="0.6177" stop-color="#d6fc50"/><stop offset="0.6282" stop-color="#d6fc50"/><stop offset="0.6341" stop-color="#d6fc50"/><stop offset="0.6446" stop-color="#d7fc51"/><stop offset="0.6505" stop-color="#d7fc51"/><stop offset="0.6610" stop-color="#f0fa57"/><stop offset="0.6669" stop-color="#f0fa57"/><stop offset="0.6774" stop-color="#ebfa55"/><stop offset="0.6833" stop-color="#ebfa55"/><stop offset="0.6938" stop-color="#f7f958"/><stop offset="0.6997" stop-color="#f7f958"/><stop offset="0.7102" stop-color="#f7f958"/><stop offset="0.7161" stop-color="#f7f958"/><stop offset="0.7266" stop-color="#f6f958"/><stop offset="0.7325" stop-color="#f6f958"/><stop offset="0.7430" stop-color="#f8f958"/><stop offset="0.7489" stop-color="#f8f958"/><stop offset="0.7593" stop-color="#faf959"/><stop offset="0.7652" stop-color="#faf959"/><stop offset="0.7757" stop-color="#fcf859"/><stop offset="0.7816" stop-color="#fcf859"/><stop offset="0.7921" stop-color="#f8f959"/><stop offset="0.7980" stop-color="#f8f959"/><stop offset="0.8085" stop-color="#ebfa55"/><stop offset="0.8144" stop-color="#ebfa55"/><stop offset="0.8249" stop-color="#f3f957"/><stop offset="0.8308" stop-color="#f3f957"/><stop offset="0.8413" stop-color="#f3f957"/><stop offset="0.8472" stop-color="#f3f957"/><stop offset="0.8577" stop-color="#f7f958"/><stop offset="0.8636" stop-color="#f7f958"/><stop offset="0.8741" stop-color="#f5f958"/><stop offset="0.8800" stop-color="#f5f958"/><stop offset="0.8905" stop-color="#f3f957"/><stop offset="0.8964" stop-color="#f3f957"/><stop offset="0.9069" stop-color="#e7fb55"/><stop offset="0.9128" stop-color="#e7fb55"/><stop offset="0.9233" stop-color="#f7f958"/><stop offset="0.9292" stop-color="#f7f958"/><stop offset="0.9397" stop-color="#f6f958"/><stop offset="0.9456" stop-color="#f6f958"/><stop offset="0.9561" stop-color="#f7f958"/><stop offset="0.9620" stop-color="#f7f958"/><stop offset="0.9725" stop-color="#f2f957"/><stop offset="0.9784" stop-color="#f2f957"/><stop offset="0.9889" stop-color="#f5f958"/><stop offset="0.9948" stop-color="#f5f958"/></linearGradient>
<linearGradient id="g23" x1="0" y1="0" x2="0" y2="1"><stop offset="0.0052" stop-color="#cffc4e"/><stop offset="0.0111" stop-color="#cffc4e"/><stop offset="0.0216" stop-color="#d0fc4f"/><stop offset="0.0275" stop-color="#d0fc4f"/><stop offset="0.0380" stop-color="#cbfc4d"/><stop offset="0.0439" stop-color="#cbfc4d"/><stop offset="0.0544" stop-color="#d2fc4f"/><stop offset="0.0603" stop-color="#d2fc4f"/><stop offset="0.0708" stop-color="#d6fc50"/><stop offset="0.0767" stop-color="#d6fc50"/><stop offset="0.0872" stop-color="#dafc51"/><stop offset="0.0931" stop-color="#dafc51"/><stop offset="0.1036" stop-color="#d5fc50"/><stop offset="0.1095" stop-color="#d5fc50"/><stop offset="0.1200" stop-color="#dafc52"/><stop offset="0.1259" stop-color="#dafc52"/><stop offset="0.1364" stop-color="#d6fc50"/><stop offset="0.1423" stop-color="#d6fc50"/><stop offset="0.1528" stop-color="#d3fc4f"/><stop offset="0.1587" stop-color="#d3fc4f"/><stop offset="0.1692" stop-color="#d3fc4f"/><stop offset="0.1751" stop-color="#d3fc4f"/><stop offset="0.1856" stop-color="#d3fc50"/><stop offset="0.1915" stop-color="#d3fc50"/><stop offset="0.2020" stop-color="#d1fc4f"/><stop offset="0.2079" stop-color="#d1fc4f"/><stop offset="0.2184" stop-color="#d4fc50"/><stop offset="0.2243" stop-color="#d4fc50"/><stop offset="0.2348" stop-color="#dcfc52"/><stop offset="0.2407" stop-color="#dcfc52"/><stop offset="0.2511" stop-color="#d5fc50"/><stop offset="0.2570" stop-color="#d5fc50"/><stop offset="0.2675" stop-color="#d9fc51"/><stop offset="0.2734" stop-color="#d9fc51"/><stop offset="0.2839" stop-color="#dcfc52"/><stop offset="0.2898" stop-color="#dcfc52"/><stop offset="0.3003" stop-color="#dafc52"/><stop offset="0.3062" stop-color="#dafc52"/><stop offset="0.3167" stop-color="#d8fc51"/><stop offset="0.3226" stop-color="#d8fc51"/><stop offset="0.3331" stop-color="#e8fb55"/><stop offset="0.3390" stop-color="#e8fb55"/><stop offset="0.3495" stop-color="#edfa56"/><stop offset="0.3554" stop-color="#edfa56"/><stop offset="0.3659" stop-color="#e7fb54"/><stop offset="0.3718" stop-color="#e7fb54"/><stop offset="0.3823" stop-color="#ecfa56"/><stop offset="0.3882" stop-color="#ecfa56"/><stop offset="0.3987" stop-color="#dbfc52"/><stop offset="0.4046" stop-color="#dbfc52"/><stop offset="0.4151" stop-color="#d6fc50"/><stop offset="0.4210" stop-color="#d6fc50"/><stop offset="0.4315" stop-color="#d7fc51"/><stop offset="0.4374" stop-color="#d7fc51"/><stop offset="0.4479" stop-color="#e9fb55"/><stop offset="0.4538" stop-color="#e9fb55"/><stop offset="0.4643" stop-color="#cafc4d"/><stop offset="0.4702" stop-color="#cafc4d"/><stop offset="0.4807" stop-color="#c9fc4d"/><stop offset="0.4866" stop-color="#c9fc4d"/><stop offset="0.4970" stop-color="#cdfc4e"/><stop offset="0.5030" stop-color="#cdfc4e"/><stop offset="0.5134" stop-color="#cdfc4e"/><stop offset="0.5193" stop-color="#cdfc4e"/><stop offset="0.5298" stop-color="#c9fc4d"/><stop offset="0.5357" stop-color="#c9fc4d"/><stop offset="0.5462" stop-color="#cdfc4e"/><stop offset="0.5521" stop-color="#cdfc4e"/><stop offset="0.5626" stop-color="#c7fc4c"/><stop offset="0.5685" stop-color="#c7fc4c"/><stop offset="0.5790" stop-color="#c7fc4c"/><stop offset="0.5849" stop-color="#c7fc4c"/><stop offset="0.5954" stop-color="#cbfc4d"/><stop offset="0.6013" stop-color="#cbfc4d"/><stop offset="0.6118" stop-color="#b7fc48"/><stop offset="0.6177" stop-color="#b7fc48"/><stop offset="0.6282" stop-color="#d7fc51"/><stop offset="0.6341" stop-color="#d7fc51"/><stop offset="0.6446" stop-color="#c7fc4c"/><stop offset="0.6505" stop-color="#c7fc4c"/><stop offset="0.6610" stop-color="#c6fc4c"/><stop offset="0.6669" stop-color="#c6fc4c"/><stop offset="0.6774" stop-color="#c1fc4a"/><stop offset="0.6833" stop-color="#c1fc4a"/><stop offset="0.6938" stop-color="#c5fc4c"/><stop offset="0.6997" stop-color="#c5fc4c"/><stop offset="0.7102" stop-color="#c6fc4c"/><stop offset="0.7161" stop-color="#c6fc4c"/><stop offset="0.7266" stop-color="#c0fc4a"/><stop offset="0.7325" stop-color="#c0fc4a"/><stop offset="0.7430" stop-color="#c3fc4b"/><stop offset="0.7489" stop-color="#c3fc4b"/><stop offset="0.7593" stop-color="#c0fc4a"/><stop offset="0.7652" stop-color="#c0fc4a"/><stop offset="0.7757" stop-color="#c0fc4a"/><stop offset="0.7816" stop-color="#c0fc4a"/><stop offset="0.7921" stop-color="#c3fc4b"/><stop offset="0.7980" stop-color="#c3fc4b"/><stop offset="0.8085" stop-color="#c4fc4b"/><stop offset="0.8144" stop-color="#c4fc4b"/><stop offset="0.8249" stop-color="#c7fc4c"/><stop offset="0.8308" stop-color="#c7fc4c"/><stop offset="0.8413" stop-color="#c0fc4a"/><stop offset="0.8472" stop-color="#c0fc4a"/><stop offset="0.8577" stop-color="#c3fc4b"/><stop offset="0.8636" stop-color="#c3fc4b"/><stop offset="0.8741" stop-color="#d9fc51"/><stop offset="0.8800" stop-color="#d9fc51"/><stop offset="0.8905" stop-color="#c8fc4d"/><stop offset="0.8964" stop-color="#c8fc4d"/><stop offset="0.9069" stop-color="#c7fc4c"/><stop offset="0.9128" stop-color="#c7fc4c"/><stop offset="0.9233" stop-color="#c4fc4b"/><stop offset="0.9292" stop-color="#c4fc4b"/><stop offset="0.9397" stop-color="#c7fc4c"/><stop offset="0.9456" stop-color="#c7fc4c"/><stop offset="0.9561" stop-color="#c5fc4b"/><stop offset="0.9620" stop-color="#c5fc4b"/><stop offset="0.9725" stop-color="#c8fc4c"/><stop offset="0.9784" stop-color="#c8fc4c"/><stop offset="0.9889" stop-color="#c8fc4c"/><stop offset="0.9948" stop-color="#c8fc4c"/></linearGradient>
<linearGradient id="g24" x1="0" y1="0" x2="0" y2="1"><stop offset="0.0052" stop-color="#c5fc4c"/><stop offset="0.0111" stop-color="#c5fc4c"/><stop offset="0.0216" stop-color="#cafc4d"/><stop offset="0.0275" stop-color="#cafc4d"/><stop offset="0.0380" stop-color="#c9fc4d"/><stop offset="0.0439" stop-color="#c9fc4d"/><stop offset="0.0544" stop-color="#c4fc4b"/><stop offset="0.0603" stop-color="#c4fc4b"/><stop offset="0.0708" stop-color="#c9fc4d"/><stop offset="0.0767" stop-color="#c9fc4d"/><stop offset="0.0872" stop-color="#c7fc4c"/><stop offset="0.0931" stop-color="#c7fc4c"/><stop offset="0.1036" stop-color="#c3fc4b"/><stop offset="0.1095" stop-color="#c3fc4b"/><stop offset="0.1200" stop-color="#cafc4d"/><stop offset="0.1259" stop-color="#cafc4d"/><stop offset="0.1364" stop-color="#c4fc4b"/><stop offset="0.1423" stop-color="#c4fc4b"/><stop offset="0.1528" stop-color="#c5fc4c"/><stop offset="0.1587" stop-color="#c5fc4c"/><stop offset="0.1692" stop-color="#c6fc4c"/><stop offset="0.1751" stop-color="#c6fc4c"/><stop offset="0.1856" stop-color="#c7fc4c"/><stop offset="0.1915" stop-color="#c7fc4c"/><stop offset="0.2020" stop-color="#c3fc4b"/><stop offset="0.2079" stop-color="#c3fc4b"/><stop offset="0.2184" stop-color="#c1fc4a"/><stop offset="0.2243" stop-color="#c1fc4a"/><stop offset="0.2348" stop-color="#c2fc4b"/><stop offset="0.2407" stop-color="#c2fc4b"/><stop offset="0.2511" stop-color="#cafc4d"/><stop offset="0.2570" stop-color="#cafc4d"/><stop offset="0.2675" stop-color="#ccfc4e"/><stop offset="0.2734" stop-color="#ccfc4e"/><stop offset="0.2839" stop-color="#cbfc4d"/><stop offset="0.2898" stop-color="#cbfc4d"/><stop offset="0.3003" stop-color="#cdfc4e"/><stop offset="0.3062" stop-color="#cdfc4e"/><stop offset="0.3167" stop-color="#c7fc4c"/><stop offset="0.3226" stop-color="#c7fc4c"/><stop offset="0.3331" stop-color="#c9fc4d"/><stop offset="0.3390" stop-color="#c9fc4d"/><stop offset="0.3495" stop-color="#cafc4d"/><stop offset="0.3554" stop-color="#cafc4d"/><stop offset="0.3659" stop-color="#c7fc4c"/><stop offset="0.3718" stop-color="#c7fc4c"/><stop offset="0.3823" stop-color="#cefc4e"/><stop offset="0.3882" stop-color="#cefc4e"/><stop offset="0.3987" stop-color="#cbfc4d"/><stop offset="0.4046" stop-color="#cbfc4d"/><stop offset="0.4151" stop-color="#eefa56"/><stop offset="0.4210" stop-color="#eefa56"/><stop offset="0.4315" stop-color="#f2fa57"/><stop offset="0.4374" stop-color="#f2fa57"/><stop offset="0.4479" stop-color="#c4fc4b"/><stop offset="0.4538" stop-color="#c4fc4b"/><stop offset="0.4643" stop-color="#c2fc4b"/><stop offset="0.4702" stop-color="#c2fc4b"/><stop offset="0.4807" stop-color="#c2fc4b"/><stop offset="0.4866" stop-color="#c2fc4b"/><stop offset="0.4970" stop-color="#c4fc4b"/><stop offset="0.5030" stop-color="#c4fc4b"/><stop offset="0.5134" stop-color="#c1fc4b"/><stop offset="0.5193" stop-color="#c1fc4b"/><stop offset="0.5298" stop-color="#c5fc4c"/><stop offset="0.5357" stop-color="#c5fc4c"/><stop offset="0.5462" stop-color="#c5fc4c"/><stop offset="0.5521" stop-color="#c5fc4c"/><stop offset="0.5626" stop-color="#c2fc4b"/><stop offset="0.5685" stop-color="#c2fc4b"/><stop offset="0.5790" stop-color="#c8fc4c"/><stop offset="0.5849" stop-color="#c8fc4c"/><stop offset="0.5954" stop-color="#c1fc4a"/><stop offset="0.6013" stop-color="#c1fc4a"/><stop offset="0.6118" stop-color="#c2fc4b"/><stop offset="0.6177" stop-color="#c2fc4b"/><stop offset="0.6282" stop-color="#c7fc4c"/><stop offset="0.6341" stop-color="#c7fc4c"/><stop offset="0.6446" stop-color="#e1fb53"/><stop offset="0.6505" stop-color="#e1fb53"/><stop offset="0.6610" stop-color="#bbfc49"/><stop offset="0.6669" stop-color="#bbfc49"/><stop offset="0.6774" stop-color="#bcfc49"/><stop offset="0.6833" stop-color="#bcfc49"/><stop offset="0.6938" stop-color="#bbfc49"/><stop offset="0.6997" stop-color="#bbfc49"/><stop offset="0.7102" stop-color="#bcfc49"/><stop offset="0.7161" stop-color="#bcfc49"/><stop offset="0.7266" stop-color="#bcfc49"/><stop offset="0.7325" stop-color="#bcfc49"/><stop offset="0.7430" stop-color="#bbfc49"/><stop offset="0.7489" stop-color="#bbfc49"/><stop offset="0.7593" stop-color="#b8fc48"/><stop offset="0.7652" stop-color="#b8fc48"/><stop offset="0.7757" stop-color="#befc4a"/><stop offset="0.7816" stop-color="#befc4a"/><stop offset="0.7921" stop-color="#bafc49"/><stop offset="0.7980" stop-color="#bafc49"/><stop offset="0.8085" stop-color="#b8fc48"/><stop offset="0.8144" stop-color="#b8fc48"/><stop offset="0.8249" stop-color="#bbfc49"/><stop offset="0.8308" stop-color="#bbfc49"/><stop offset="0.8413" stop-color="#befc4a"/><stop offset="0.8472" stop-color="#befc4a"/><stop offset="0.8577" stop-color="#bdfc49"/><stop offset="0.8636" stop-color="#bdfc49"/><stop offset="0.8741" stop-color="#bbfc49"/><stop offset="0.8800" stop-color="#bbfc49"/><stop offset="0.8905" stop-color="#bbfc49"/><stop offset="0.8964" stop-color="#bbfc49"/><stop offset="0.9069" stop-color="#b9fc48"/><stop offset="0.9128" stop-color="#b9fc48"/><stop offset="0.9233" stop-color="#bdfc49"/><stop offset="0.9292" stop-color="#bdfc49"/><stop offset="0.9397" stop-color="#d0fc4f"/><stop offset="0.9456" stop-color="#d0fc4f"/><stop offset="0.9561" stop-color="#bcfc49"/><stop offset="0.9620" stop-color="#bcfc49"/><stop offset="0.9725" stop-color="#bcfc49"/><stop offset="0.9784" stop-color="#bcfc49"/><stop offset="0.9889" stop-color="#bcfc49"/><stop offset="0.9948" stop-color="#bcfc49"/></linearGradient>
<linearGradient id="g25" x1="0" y1="0" x2="0" y2="1"><stop offset="0.0052" stop-color="#bafc49"/><stop offset="0.0111" stop-color="#bafc49"/><stop offset="0.0216" stop-color="#b5fc47"/><stop offset="0.0275" stop-color="#b5fc47"/><stop offset="0.0380" stop-color="#b5fc47"/><stop offset="0.0439" stop-color="#b5fc47"/><stop offset="0.0544" stop-color="#b9fc48"/><stop offset="0.0603" stop-color="#b9fc48"/><stop offset="0.0708" stop-color="#b4fb47"/><stop offset="0.0767" stop-color="#b4fb47"/><stop offset="0.0872" stop-color="#bafc49"/><stop offset="0.0931" stop-color="#bafc49"/><stop offset="0.1036" stop-color="#c5fc4c"/><stop offset="0.1095" stop-color="#c5fc4c"/><stop offset="0.1200" stop-color="#bffc4a"/><stop offset="0.1259" stop-color="#bffc4a"/><stop offset="0.1364" stop-color="#c4fc4b"/><stop offset="0.1423" stop-color="#c4fc4b"/><stop offset="0.1528" stop-color="#a4f941"/><stop offset="0.1587" stop-color="#a4f941"/><stop offset="0.1692" stop-color="#a5f941"/><stop offset="0.1751" stop-color="#a5f941"/><stop offset="0.1856" stop-color="#a8fa42"/><stop offset="0.1915" stop-color="#a8fa42"/><stop offset="0.2020" stop-color="#a8fa42"/><stop offset="0.2079" stop-color="#a8fa42"/><stop offset="0.2184" stop-color="#a3f941"/><stop offset="0.2243" stop-color="#a3f941"/><stop offset="0.2348" stop-color="#a7f942"/><stop offset="0.2407" stop-color="#a7f942"/><stop offset="0.2511" stop-color="#b7fc47"/><stop offset="0.2570" stop-color="#b7fc47"/><stop offset="0.2675" stop-color="#b8fc48"/><stop offset="0.2734" stop-color="#b8fc48"/><stop offset="0.2839" stop-color="#b0fb45"/><stop offset="0.2898" stop-color="#b0fb45"/><stop offset="0.3003" stop-color="#b8fc48"/><stop offset="0.3062" stop-color="#b8fc48"/><stop offset="0.3167" stop-color="#b2fb46"/><stop offset="0.3226" stop-color="#b2fb46"/><stop offset="0.3331" stop-color="#8df539"/><stop offset="0.3390" stop-color="#8df539"/><stop offset="0.3495" stop-color="#91f63a"/><stop offset="0.3554" stop-color="#91f63a"/><stop offset="0.3659" stop-color="#93f63b"/><stop offset="0.3718" stop-color="#93f63b"/><stop offset="0.3823" stop-color="#acfa44"/><stop offset="0.3882" stop-color="#acfa44"/><stop offset="0.3987" stop-color="#8bf538"/><stop offset="0.4046" stop-color="#8bf538"/><stop offset="0.4151" stop-color="#8ff63a"/><stop offset="0.4210" stop-color="#8ff63a"/><stop offset="0.4315" stop-color="#87f437"/><stop offset="0.4374" stop-color="#87f437"/><stop offset="0.4479" stop-color="#bffc4a"/><stop offset="0.4538" stop-color="#bffc4a"/><stop offset="0.4643" stop-color="#bafc49"/><stop offset="0.4702" stop-color="#bafc49"/><stop offset="0.4807" stop-color="#bcfc49"/><stop offset="0.4866" stop-color="#bcfc49"/><stop offset="0.4970" stop-color="#b9fc48"/><stop offset="0.5030" stop-color="#b9fc48"/><stop offset="0.5134" stop-color="#b8fc48"/><stop offset="0.5193" stop-color="#b8fc48"/><stop offset="0.5298" stop-color="#b8fc48"/><stop offset="0.5357" stop-color="#b8fc48"/><stop offset="0.5462" stop-color="#bcfc49"/><stop offset="0.5521" stop-color="#bcfc49"/><stop offset="0.5626" stop-color="#bcfc49"/><stop offset="0.5685" stop-color="#bcfc49"/><stop offset="0.5790" stop-color="#befc4a"/><stop offset="0.5849" stop-color="#befc4a"/><stop offset="0.5954" stop-color="#befc4a"/><stop offset="0.6013" stop-color="#befc4a"/><stop offset="0.6118" stop-color="#bbfc49"/><stop offset="0.6177" stop-color="#bbfc49"/><stop offset="0.6282" stop-color="#d4fc50"/><stop offset="0.6341" stop-color="#d4fc50"/><stop offset="0.6446" stop-color="#a9fa43"/><stop offset="0.6505" stop-color="#a9fa43"/><stop offset="0.6610" stop-color="#affb45"/><stop offset="0.6669" stop-color="#affb45"/><stop offset="0.6774" stop-color="#aafa43"/><stop offset="0.6833" stop-color="#aafa43"/><stop offset="0.6938" stop-color="#b0fb45"/><stop offset="0.6997" stop-color="#b0fb45"/><stop offset="0.7102" stop-color="#abfa43"/><stop offset="0.7161" stop-color="#abfa43"/><stop offset="0.7266" stop-color="#abfa44"/><stop offset="0.7325" stop-color="#abfa44"/><stop offset="0.7430" stop-color="#a0f840"/><stop offset="0.7489" stop-color="#a0f840"/><stop offset="0.7593" stop-color="#9cf83e"/><stop offset="0.7652" stop-color="#9cf83e"/><stop offset="0.7757" stop-color="#a8fa42"/><stop offset="0.7816" stop-color="#a8fa42"/><stop offset="0.7921" stop-color="#acfa44"/><stop offset="0.7980" stop-color="#acfa44"/><stop offset="0.8085" stop-color="#aefa44"/><stop offset="0.8144" stop-color="#aefa44"/><stop offset="0.8249" stop-color="#a8fa42"/><stop offset="0.8308" stop-color="#a8fa42"/><stop offset="0.8413" stop-color="#abfa44"/><stop offset="0.8472" stop-color="#abfa44"/><stop offset="0.8577" stop-color="#9ff83f"/><stop offset="0.8636" stop-color="#9ff83f"/><stop offset="0.8741" stop-color="#a2f940"/><stop offset="0.8800" stop-color="#a2f940"/><stop offset="0.8905" stop-color="#b0fb45"/><stop offset="0.8964" stop-color="#b0fb45"/><stop offset="0.9069" stop-color="#a8fa43"/><stop offset="0.9128" stop-color="#a8fa43"/><stop offset="0.9233" stop-color="#acfa44"/><stop offset="0.9292" stop-color="#acfa44"/><stop offset="0.9397" stop-color="#a9fa43"/><stop offset="0.9456" stop-color="#a9fa43"/><stop offset="0.9561" stop-color="#aefb45"/><stop offset="0.9620" stop-color="#aefb45"/><stop offset="0.9725" stop-color="#fff258"/><stop offset="0.9784" stop-color="#fff258"/><stop offset="0.9889" stop-color="#fff559"/><stop offset="0.9948" stop-color="#fff559"/></linearGradient>
<linearGradient id="g30" x1="0" y1="0" x2="0" y2="1"><stop offset="0.0040" stop-color="#ff9f36"/><stop offset="0.0085" stop-color="#ff9f36"/><stop offset="0.0165" stop-color="#ff9e36"/><stop offset="0.0210" stop-color="#ff9e36"/><stop offset="0.0290" stop-color="#ff9a34"/><stop offset="0.0335" stop-color="#ff9a34"/><stop offset="0.0415" stop-color="#ff9733"/><stop offset="0.0460" stop-color="#ff9733"/><stop offset="0.0540" stop-color="#ff9d35"/><stop offset="0.0585" stop-color="#ff9d35"/><stop offset="0.0665" stop-color="#ffab3b"/><stop offset="0.0710" stop-color="#ffab3b"/><stop offset="0.0790" stop-color="#ffaa3a"/><stop offset="0.0835" stop-color="#ffaa3a"/><stop offset="0.0915" stop-color="#ffa338"/><stop offset="0.0960" stop-color="#ffa338"/><stop offset="0.1040" stop-color="#ffab3b"/><stop offset="0.1085" stop-color="#ffab3b"/><stop offset="0.1165" stop-color="#ffa438"/><stop offset="0.1210" stop-color="#ffa438"/><stop offset="0.1290" stop-color="#ffbd42"/><stop offset="0.1335" stop-color="#ffbd42"/><stop offset="0.1415" stop-color="#ffc445"/><stop offset="0.1460" stop-color="#ffc445"/><stop offset="0.1540" stop-color="#ffbf43"/><stop offset="0.1585" stop-color="#ffbf43"/><stop offset="0.1665" stop-color="#ffc043"/><stop offset="0.1710" stop-color="#ffc043"/><stop offset="0.1790" stop-color="#ffb03d"/><stop offset="0.1835" stop-color="#ffb03d"/><stop offset="0.1915" stop-color="#ffb640"/><stop offset="0.1960" stop-color="#ffb640"/><stop offset="0.2040" stop-color="#ffc144"/><stop offset="0.2085" stop-color="#ffc144"/><stop offset="0.2165" stop-color="#ffc245"/><stop offset="0.2210" stop-color="#ffc245"/><stop offset="0.2290" stop-color="#ffb740"/><stop offset="0.2335" stop-color="#ffb740"/><stop offset="0.2415" stop-color="#ffa93a"/><stop offset="0.2460" stop-color="#ffa93a"/><stop offset="0.2540" stop-color="#ffab3b"/><stop offset="0.2585" stop-color="#ffab3b"/><stop offset="0.2665" stop-color="#ffa93a"/><stop offset="0.2710" stop-color="#ffa93a"/><stop offset="0.2790" stop-color="#ffa93a"/><stop offset="0.2835" stop-color="#ffa93a"/><stop offset="0.2915" stop-color="#ffa237"/><stop offset="0.2960" stop-color="#ffa237"/><stop offset="0.3040" stop-color="#ffab3b"/><stop offset="0.3085" stop-color="#ffab3b"/><stop offset="0.3165" stop-color="#ffab3b"/><stop offset="0.3210" stop-color="#ffab3b"/><stop offset="0.3290" stop-color="#ffa639"/><stop offset="0.3335" stop-color="#ffa639"/><stop offset="0.3415" stop-color="#ffa739"/><stop offset="0.3460" stop-color="#ffa739"/><stop offset="0.3540" stop-color="#ffa237"/><stop offset="0.3585" stop-color="#ffa237"/><stop offset="0.3665" stop-color="#ffa338"/><stop offset="0.3710" stop-color="#ffa338"/><stop offset="0.3790" stop-color="#ffa93a"/><stop offset="0.3835" stop-color="#ffa93a"/><stop offset="0.3915" stop-color="#ffab3b"/><stop offset="0.3960" stop-color="#ffab3b"/><stop offset="0.4040" stop-color="#ffa338"/><stop offset="0.4085" stop-color="#ffa338"/><stop offset="0.4165" stop-color="#ffa237"/><stop offset="0.4210" stop-color="#ffa237"/><stop offset="0.4290" stop-color="#ffad3c"/><stop offset="0.4335" stop-color="#ffad3c"/><stop offset="0.4415" stop-color="#ffa539"/><stop offset="0.4460" stop-color="#ffa539"/><stop offset="0.4540" stop-color="#ffa338"/><stop offset="0.4585" stop-color="#ffa338"/><stop offset="0.4665" stop-color="#ffa639"/><stop offset="0.4710" stop-color="#ffa639"/><stop offset="0.4790" stop-color="#ffab3b"/><stop offset="0.4835" stop-color="#ffab3b"/><stop offset="0.4915" stop-color="#ffa438"/><stop offset="0.4960" stop-color="#ffa438"/><stop offset="0.5040" stop-color="#ff9331"/><stop offset="0.5085" stop-color="#ff9331"/><stop offset="0.5165" stop-color="#ff9a34"/><stop offset="0.5210" stop-color="#ff9a34"/><stop offset="0.5290" stop-color="#ff9532"/><stop offset="0.5335" stop-color="#ff9532"/><stop offset="0.5415" stop-color="#ff9a34"/><stop offset="0.5460" stop-color="#ff9a34"/><stop offset="0.5540" stop-color="#ff9c35"/><stop offset="0.5585" stop-color="#ff9c35"/><stop offset="0.5665" stop-color="#ff9833"/><stop offset="0.5710" stop-color="#ff9833"/><stop offset="0.5790" stop-color="#ff9030"/><stop offset="0.5835" stop-color="#ff9030"/><stop offset="0.5915" stop-color="#ff8f30"/><stop offset="0.5960" stop-color="#ff8f30"/><stop offset="0.6040" stop-color="#ff8c2f"/><stop offset="0.6085" stop-color="#ff8c2f"/><stop offset="0.6165" stop-color="#ff8a2e"/><stop offset="0.6210" stop-color="#ff8a2e"/><stop offset="0.6290" stop-color="#ff892d"/><stop offset="0.6335" stop-color="#ff892d"/><stop offset="0.6415" stop-color="#ff9130"/><stop offset="0.6460" stop-color="#ff9130"/><stop offset="0.6540" stop-color="#ff9030"/><stop offset="0.6585" stop-color="#ff9030"/><stop offset="0.6665" stop-color="#ff9331"/><stop offset="0.6710" stop-color="#ff9331"/><stop offset="0.6790" stop-color="#ff9934"/><stop offset="0.6835" stop-color="#ff9934"/><stop offset="0.6915" stop-color="#ff9a34"/><stop offset="0.6960" stop-color="#ff9a34"/><stop offset="0.7040" stop-color="#ffa438"/><stop offset="0.7085" stop-color="#ffa438"/><stop offset="0.7165" stop-color="#ffa539"/><stop offset="0.7210" stop-color="#ffa539"/><stop offset="0.7290" stop-color="#ffa338"/><stop offset="0.7335" stop-color="#ffa338"/><stop offset="0.7415" stop-color="#ffaa3b"/><stop offset="0.7460" stop-color="#ffaa3b"/><stop offset="0.7540" stop-color="#ffa93a"/><stop offset="0.7585" stop-color="#ffa93a"/><stop offset="0.7665" stop-color="#ffa037"/><stop offset="0.7710" stop-color="#ffa037"/><stop offset="0.7790" stop-color="#ffa438"/><stop offset="0.7835" stop-color="#ffa438"/><stop offset="0.7915" stop-color="#ffaf3d"/><stop offset="0.7960" stop-color="#ffaf3d"/><stop offset="0.8040" stop-color="#ffb640"/><stop offset="0.8085" stop-color="#ffb640"/><stop offset="0.8165" stop-color="#ffa237"/><stop offset="0.8210" stop-color="#ffa237"/><stop offset="0.8290" stop-color="#ff9c35"/><stop offset="0.8335" stop-color="#ff9c35"/><stop offset="0.8415" stop-color="#ffb23e"/><stop offset="0.8460" stop-color="#ffb23e"/><stop offset="0.8540" stop-color="#ff9030"/><stop offset="0.8585" stop-color="#ff9030"/><stop offset="0.8665" stop-color="#ff9a34"/><stop offset="0.8710" stop-color="#ff9a34"/><stop offset="0.8790" stop-color="#ff9733"/><stop offset="0.8835" stop-color="#ff9733"/><stop offset="0.8915" stop-color="#ff9331"/><stop offset="0.8960" stop-color="#ff9331"/><stop offset="0.9040" stop-color="#ff9733"/><stop offset="0.9085" stop-color="#ff9733"/><stop offset="0.9165" stop-color="#ff9331"/><stop offset="0.9210" stop-color="#ff9331"/><stop offset="0.9290" stop-color="#ff9532"/><stop offset="0.9335" stop-color="#ff9532"/><stop offset="0.9415" stop-color="#ffae3c"/><stop offset="0.9460" stop-color="#ffae3c"/><stop offset="0.9540" stop-color="#ffae3c"/><stop offset="0.9585" stop-color="#ffae3c"/><stop offset="0.9665" stop-color="#ffa338"/><stop offset="0.9710" stop-color="#ffa338"/><stop offset="0.9790" stop-color="#ffae3c"/><stop offset="0.9835" stop-color="#ffae3c"/><stop offset="0.9915" stop-color="#ffad3c"/><stop offset="0.9960" stop-color="#ffad3c"/></linearGradient>
<linearGradient id="g31" x1="0" y1="0" x2="0" y2="1"><stop offset="0.0040" stop-color="#ffce49"/><stop offset="0.0085" stop-color="#ffce49"/><stop offset="0.0165" stop-color="#ffcc48"/><stop offset="0.0210" stop-color="#ffcc48"/><stop offset="0.0290" stop-color="#ffcb48"/><stop offset="0.0335" stop-color="#ffcb48"/><stop offset="0.0415" stop-color="#ffc345"/><stop offset="0.0460" stop-color="#ffc345"/><stop offset="0.0540" stop-color="#ffc847"/><stop offset="0.0585" stop-color="#ffc847"/><stop offset="0.0665" stop-color="#ffbc42"/><stop offset="0.0710" stop-color="#ffbc42"/><stop offset="0.0790" stop-color="#ffc445"/><stop offset="0.0835" stop-color="#ffc445"/><stop offset="0.0915" stop-color="#ffbf43"/><stop offset="0.0960" stop-color="#ffbf43"/><stop offset="0.1040" stop-color="#ffbb41"/><stop offset="0.1085" stop-color="#ffbb41"/><stop offset="0.1165" stop-color="#ffbf43"/><stop offset="0.1210" stop-color="#ffbf43"/><stop offset="0.1290" stop-color="#ff9934"/><stop offset="0.1335" stop-color="#ff9934"/><stop offset="0.1415" stop-color="#ff9a34"/><stop offset="0.1460" stop-color="#ff9a34"/><stop offset="0.1540" stop-color="#ffa037"/><stop offset="0.1585" stop-color="#ffa037"/><stop offset="0.1665" stop-color="#ffa438"/><stop offset="0.1710" stop-color="#ffa438"/><stop offset="0.1790" stop-color="#ff9b35"/><stop offset="0.1835" stop-color="#ff9b35"/><stop offset="0.1915" stop-color="#ffa338"/><stop offset="0.1960" stop-color="#ffa338"/><stop offset="0.2040" stop-color="#ffa438"/><stop offset="0.2085" stop-color="#ffa438"/><stop offset="0.2165" stop-color="#ff9c35"/><stop offset="0.2210" stop-color="#ff9c35"/><stop offset="0.2290" stop-color="#ffa83a"/><stop offset="0.2335" stop-color="#ffa83a"/><stop offset="0.2415" stop-color="#ffa83a"/><stop offset="0.2460" stop-color="#ffa83a"/><stop offset="0.2540" stop-color="#ffa639"/><stop offset="0.2585" stop-color="#ffa639"/><stop offset="0.2665" stop-color="#ffa73a"/><stop offset="0.2710" stop-color="#ffa73a"/><stop offset="0.2790" stop-color="#ffa93a"/><stop offset="0.2835" stop-color="#ffa93a"/><stop offset="0.2915" stop-color="#ffa83a"/><stop offset="0.2960" stop-color="#ffa83a"/><stop offset="0.3040" stop-color="#ff9e36"/><stop offset="0.3085" stop-color="#ff9e36"/><stop offset="0.3165" stop-color="#ffa83a"/><stop offset="0.3210" stop-color="#ffa83a"/><stop offset="0.3290" stop-color="#ffa83a"/><stop offset="0.3335" stop-color="#ffa83a"/><stop offset="0.3415" stop-color="#ffa93a"/><stop offset="0.3460" stop-color="#ffa93a"/><stop offset="0.3540" stop-color="#ffa93a"/><stop offset="0.3585" stop-color="#ffa93a"/><stop offset="0.3665" stop-color="#ffa93a"/><stop offset="0.3710" stop-color="#ffa93a"/><stop offset="0.3790" stop-color="#ff9d36"/><stop offset="0.3835" stop-color="#ff9d36"/><stop offset="0.3915" stop-color="#ffa036"/><stop offset="0.3960" stop-color="#ffa036"/><stop offset="0.4040" stop-color="#ff9e36"/><stop offset="0.4085" stop-color="#ff9e36"/><stop offset="0.4165" stop-color="#ff9733"/><stop offset="0.4210" stop-color="#ff9733"/><stop offset="0.4290" stop-color="#ffa036"/><stop offset="0.4335" stop-color="#ffa036"/><stop offset="0.4415" stop-color="#ff9833"/><stop offset="0.4460" stop-color="#ff9833"/><stop offset="0.4540" stop-color="#ff8b2e"/><stop offset="0.4585" stop-color="#ff8b2e"/><stop offset="0.4665" stop-color="#ff8d2f"/><stop offset="0.4710" stop-color="#ff8d2f"/><stop offset="0.4790" stop-color="#ff8d2f"/><stop offset="0.4835" stop-color="#ff8d2f"/><stop offset="0.4915" stop-color="#ff8b2e"/><stop offset="0.4960" stop-color="#ff8b2e"/><stop offset="0.5040" stop-color="#ffad3c"/><stop offset="0.5085" stop-color="#ffad3c"/><stop offset="0.5165" stop-color="#ffb23e"/><stop offset="0.5210" stop-color="#ffb23e"/><stop offset="0.5290" stop-color="#ffb13d"/><stop offset="0.5335" stop-color="#ffb13d"/><stop offset="0.5415" stop-color="#ffa739"/><stop offset="0.5460" stop-color="#ffa739"/><stop offset="0.5540" stop-color="#ffa539"/><stop offset="0.5585" stop-color="#ffa539"/><stop offset="0.5665" stop-color="#ff9e36"/><stop offset="0.5710" stop-color="#ff9e36"/><stop offset="0.5790" stop-color="#ffa538"/><stop offset="0.5835" stop-color="#ffa538"/><stop offset="0.5915" stop-color="#ffa93a"/><stop offset="0.5960" stop-color="#ffa93a"/><stop offset="0.6040" stop-color="#ffa438"/><stop offset="0.6085" stop-color="#ffa438"/><stop offset="0.6165" stop-color="#ffa037"/><stop offset="0.6210" stop-color="#ffa037"/><stop offset="0.6290" stop-color="#ffa438"/><stop offset="0.6335" stop-color="#ffa438"/><stop offset="0.6415" stop-color="#ff9934"/><stop offset="0.6460" stop-color="#ff9934"/><stop offset="0.6540" stop-color="#ffa037"/><stop offset="0.6585" stop-color="#ffa037"/><stop offset="0.6665" stop-color="#ffa137"/><stop offset="0.6710" stop-color="#ffa137"/><stop offset="0.6790" stop-color="#ff9a34"/><stop offset="0.6835" stop-color="#ff9a34"/><stop offset="0.6915" stop-color="#ffb740"/><stop offset="0.6960" stop-color="#ffb740"/><stop offset="0.7040" stop-color="#ffb43f"/><stop offset="0.7085" stop-color="#ffb43f"/><stop offset="0.7165" stop-color="#ff8d2f"/><stop offset="0.7210" stop-color="#ff8d2f"/><stop offset="0.7290" stop-color="#ff8f30"/><stop offset="0.7335" stop-color="#ff8f30"/><stop offset="0.7415" stop-color="#ff9130"/><stop offset="0.7460" stop-color="#ff9130"/><stop offset="0.7540" stop-color="#ff9131"/><stop offset="0.7585" stop-color="#ff9131"/><stop offset="0.7665" stop-color="#ff862c"/><stop offset="0.7710" stop-color="#ff862c"/><stop offset="0.7790" stop-color="#ff892d"/><stop offset="0.7835" stop-color="#ff892d"/><stop offset="0.7915" stop-color="#ff862c"/><stop offset="0.7960" stop-color="#ff862c"/><stop offset="0.8040" stop-color="#ff862c"/><stop offset="0.8085" stop-color="#ff862c"/><stop offset="0.8165" stop-color="#ff802b"/><stop offset="0.8210" stop-color="#ff802b"/><stop offset="0.8290" stop-color="#ff822b"/><stop offset="0.8335" stop-color="#ff822b"/><stop offset="0.8415" stop-color="#ffb03d"/><stop offset="0.8460" stop-color="#ffb03d"/><stop offset="0.8540" stop-color="#ff9b35"/><stop offset="0.8585" stop-color="#ff9b35"/><stop offset="0.8665" stop-color="#ffda4e"/><stop offset="0.8710" stop-color="#ffda4e"/><stop offset="0.8790" stop-color="#ffde4f"/><stop offset="0.8835" stop-color="#ffde4f"/><stop offset="0.8915" stop-color="#ffb33e"/><stop offset="0.8960" stop-color="#ffb33e"/><stop offset="0.9040" stop-color="#ffdd4f"/><stop offset="0.9085" stop-color="#ffdd4f"/><stop offset="0.9165" stop-color="#ffe452"/><stop offset="0.9210" stop-color="#ffe452"/><stop offset="0.9290" stop-color="#ffbd43"/><stop offset="0.9335" stop-color="#ffbd43"/><stop offset="0.9415" stop-color="#ff9b35"/><stop offset="0.9460" stop-color="#ff9b35"/><stop offset="0.9540" stop-color="#ff9a34"/><stop offset="0.9585" stop-color="#ff9a34"/><stop offset="0.9665" stop-color="#ff9833"/><stop offset="0.9710" stop-color="#ff9833"/><stop offset="0.9790" stop-color="#ff9a34"/><stop offset="0.9835" stop-color="#ff9a34"/><stop offset="0.9915" stop-color="#ffb03d"/><stop offset="0.9960" stop-color="#ffb03d"/></linearGradient>
<linearGradient id="g32" x1="0" y1="0" x2="0" y2="1"><stop offset="0.0040" stop-color="#ffd04a"/><stop offset="0.0085" stop-color="#ffd04a"/><stop offset="0.0165" stop-color="#ffcf4a"/><stop offset="0.0210" stop-color="#ffcf4a"/><stop offset="0.0290" stop-color="#ffcd49"/><stop offset="0.0335" stop-color="#ffcd49"/><stop offset="0.0415" stop-color="#ffce49"/><stop offset="0.0460" stop-color="#ffce49"/><stop offset="0.0540" stop-color="#ffc947"/><stop offset="0.0585" stop-color="#ffc947"/><stop offset="0.0665" stop-color="#ffc646"/><stop offset="0.0710" stop-color="#ffc646"/><stop offset="0.0790" stop-color="#ffc646"/><stop offset="0.0835" stop-color="#ffc646"/><stop offset="0.0915" stop-color="#ffcf4a"/><stop offset="0.0960" stop-color="#ffcf4a"/><stop offset="0.1040" stop-color="#ffc947"/><stop offset="0.1085" stop-color="#ffc947"/><stop offset="0.1165" stop-color="#ffb33e"/><stop offset="0.1210" stop-color="#ffb33e"/><stop offset="0.1290" stop-color="#ffb43f"/><stop offset="0.1335" stop-color="#ffb43f"/><stop offset="0.1415" stop-color="#ffae3c"/><stop offset="0.1460" stop-color="#ffae3c"/><stop offset="0.1540" stop-color="#ffb43f"/><stop offset="0.1585" stop-color="#ffb43f"/><stop offset="0.1665" stop-color="#ffb53f"/><stop offset="0.1710" stop-color="#ffb53f"/><stop offset="0.1790" stop-color="#ffb740"/><stop offset="0.1835" stop-color="#ffb740"/><stop offset="0.1915" stop-color="#ffba41"/><stop offset="0.1960" stop-color="#ffba41"/><stop offset="0.2040" stop-color="#ffbf43"/><stop offset="0.2085" stop-color="#ffbf43"/><stop offset="0.2165" stop-color="#ffbf43"/><stop offset="0.2210" stop-color="#ffbf43"/><stop offset="0.2290" stop-color="#ffcb48"/><stop offset="0.2335" stop-color="#ffcb48"/><stop offset="0.2415" stop-color="#ffd14a"/><stop offset="0.2460" stop-color="#ffd14a"/><stop offset="0.2540" stop-color="#ffca47"/><stop offset="0.2585" stop-color="#ffca47"/><stop offset="0.2665" stop-color="#ffd44c"/><stop offset="0.2710" stop-color="#ffd44c"/><stop offset="0.2790" stop-color="#ffd84d"/><stop offset="0.2835" stop-color="#ffd84d"/><stop offset="0.2915" stop-color="#ffd24b"/><stop offset="0.2960" stop-color="#ffd24b"/><stop offset="0.3040" stop-color="#ffc746"/><stop offset="0.3085" stop-color="#ffc746"/><stop offset="0.3165" stop-color="#ffcc48"/><stop offset="0.3210" stop-color="#ffcc48"/><stop offset="0.3290" stop-color="#ffca48"/><stop offset="0.3335" stop-color="#ffca48"/><stop offset="0.3415" stop-color="#ffd24b"/><stop offset="0.3460" stop-color="#ffd24b"/><stop offset="0.3540" stop-color="#ffd34b"/><stop offset="0.3585" stop-color="#ffd34b"/><stop offset="0.3665" stop-color="#ffc646"/><stop offset="0.3710" stop-color="#ffc646"/><stop offset="0.3790" stop-color="#ffd04a"/><stop offset="0.3835" stop-color="#ffd04a"/><stop offset="0.3915" stop-color="#ffd14a"/><stop offset="0.3960" stop-color="#ffd14a"/><stop offset="0.4040" stop-color="#ffc847"/><stop offset="0.4085" stop-color="#ffc847"/><stop offset="0.4165" stop-color="#ffc244"/><stop offset="0.4210" stop-color="#ffc244"/><stop offset="0.4290" stop-color="#ffca48"/><stop offset="0.4335" stop-color="#ffca48"/><stop offset="0.4415" stop-color="#ffc747"/><stop offset="0.4460" stop-color="#ffc747"/><stop offset="0.4540" stop-color="#ffc847"/><stop offset="0.4585" stop-color="#ffc847"/><stop offset="0.4665" stop-color="#ffce49"/><stop offset="0.4710" stop-color="#ffce49"/><stop offset="0.4790" stop-color="#ffd24b"/><stop offset="0.4835" stop-color="#ffd24b"/><stop offset="0.4915" stop-color="#ffcb48"/><stop offset="0.4960" stop-color="#ffcb48"/><stop offset="0.5040" stop-color="#ffe351"/><stop offset="0.5085" stop-color="#ffe351"/><stop offset="0.5165" stop-color="#ffe151"/><stop offset="0.5210" stop-color="#ffe151"/><stop offset="0.5290" stop-color="#ffe452"/><stop offset="0.5335" stop-color="#ffe452"/><stop offset="0.5415" stop-color="#ffe552"/><stop offset="0.5460" stop-color="#ffe552"/><stop offset="0.5540" stop-color="#ffe653"/><stop offset="0.5585" stop-color="#ffe653"/><stop offset="0.5665" stop-color="#ffdb4e"/><stop offset="0.5710" stop-color="#ffdb4e"/><stop offset="0.5790" stop-color="#ffdd4f"/><stop offset="0.5835" stop-color="#ffdd4f"/><stop offset="0.5915" stop-color="#ffd94e"/><stop offset="0.5960" stop-color="#ffd94e"/><stop offset="0.6040" stop-color="#ffdf50"/><stop offset="0.6085" stop-color="#ffdf50"/><stop offset="0.6165" stop-color="#ffdf50"/><stop offset="0.6210" stop-color="#ffdf50"/><stop offset="0.6290" stop-color="#ffe552"/><stop offset="0.6335" stop-color="#ffe552"/><stop offset="0.6415" stop-color="#ffe251"/><stop offset="0.6460" stop-color="#ffe251"/><stop offset="0.6540" stop-color="#ffe653"/><stop offset="0.6585" stop-color="#ffe653"/><stop offset="0.6665" stop-color="#ffe352"/><stop offset="0.6710" stop-color="#ffe352"/><stop offset="0.6790" stop-color="#ffe452"/><stop offset="0.6835" stop-color="#ffe452"/><stop offset="0.6915" stop-color="#ffe452"/><stop offset="0.6960" stop-color="#ffe452"/><stop offset="0.7040" stop-color="#ffe151"/><stop offset="0.7085" stop-color="#ffe151"/><stop offset="0.7165" stop-color="#ffe452"/><stop offset="0.7210" stop-color="#ffe452"/><stop offset="0.7290" stop-color="#ffe352"/><stop offset="0.7335" stop-color="#ffe352"/><stop offset="0.7415" stop-color="#ffe552"/><stop offset="0.7460" stop-color="#ffe552"/><stop offset="0.7540" stop-color="#ffe251"/><stop offset="0.7585" stop-color="#ffe251"/><stop offset="0.7665" stop-color="#ffdf50"/><stop offset="0.7710" stop-color="#ffdf50"/><stop offset="0.7790" stop-color="#ffe653"/><stop offset="0.7835" stop-color="#ffe653"/><stop offset="0.7915" stop-color="#ffe954"/><stop offset="0.7960" stop-color="#ffe954"/><stop offset="0.8040" stop-color="#fff559"/><stop offset="0.8085" stop-color="#fff559"/><stop offset="0.8165" stop-color="#fff759"/><stop offset="0.8210" stop-color="#fff759"/><stop offset="0.8290" stop-color="#fff157"/><stop offset="0.8335" stop-color="#fff157"/><stop offset="0.8415" stop-color="#ffcd49"/><stop offset="0.8460" stop-color="#ffcd49"/><stop offset="0.8540" stop-color="#ffd54c"/><stop offset="0.8585" stop-color="#ffd54c"/><stop offset="0.8665" stop-color="#fff85a"/><stop offset="0.8710" stop-color="#fff85a"/><stop offset="0.8790" stop-color="#ffc445"/><stop offset="0.8835" stop-color="#ffc445"/><stop offset="0.8915" stop-color="#ffe753"/><stop offset="0.8960" stop-color="#ffe753"/><stop offset="0.9040" stop-color="#ffbe43"/><stop offset="0.9085" stop-color="#ffbe43"/><stop offset="0.9165" stop-color="#ffed56"/><stop offset="0.9210" stop-color="#ffed56"/><stop offset="0.9290" stop-color="#ffef57"/><stop offset="0.9335" stop-color="#ffef57"/><stop offset="0.9415" stop-color="#ffd24b"/><stop offset="0.9460" stop-color="#ffd24b"/><stop offset="0.9540" stop-color="#ffce49"/><stop offset="0.9585" stop-color="#ffce49"/><stop offset="0.9665" stop-color="#ffdf50"/><stop offset="0.9710" stop-color="#ffdf50"/><stop offset="0.9790" stop-color="#ffe653"/><stop offset="0.9835" stop-color="#ffe653"/><stop offset="0.9915" stop-color="#ffe553"/><stop offset="0.9960" stop-color="#ffe553"/></linearGradient>
<linearGradient id="g33" x1="0" y1="0" x2="0" y2="1"><stop offset="0.0040" stop-color="#d0fc4f"/><stop offset="0.0085" stop-color="#d0fc4f"/><stop offset="0.0165" stop-color="#d0fc4f"/><stop offset="0.0210" stop-color="#d0fc4f"/><stop offset="0.0290" stop-color="#d2fc4f"/><stop offset="0.0335" stop-color="#d2fc4f"/><stop offset="0.0415" stop-color="#d3fc4f"/><stop offset="0.0460" stop-color="#d3fc4f"/><stop offset="0.0540" stop-color="#d2fc4f"/><stop offset="0.0585" stop-color="#d2fc4f"/><stop offset="0.0665" stop-color="#c5fc4c"/><stop offset="0.0710" stop-color="#c5fc4c"/><stop offset="0.0790" stop-color="#cafc4d"/><stop offset="0.0835" stop-color="#cafc4d"/><stop offset="0.0915" stop-color="#c6fc4c"/><stop offset="0.0960" stop-color="#c6fc4c"/><stop offset="0.1040" stop-color="#c5fc4c"/><stop offset="0.1085" stop-color="#c5fc4c"/><stop offset="0.1165" stop-color="#d2fc4f"/><stop offset="0.1210" stop-color="#d2fc4f"/><stop offset="0.1290" stop-color="#d1fc4f"/><stop offset="0.1335" stop-color="#d1fc4f"/><stop offset="0.1415" stop-color="#cefc4e"/><stop offset="0.1460" stop-color="#cefc4e"/><stop offset="0.1540" stop-color="#cffc4f"/><stop offset="0.1585" stop-color="#cffc4f"/><stop offset="0.1665" stop-color="#d2fc4f"/><stop offset="0.1710" stop-color="#d2fc4f"/><stop offset="0.1790" stop-color="#d3fc50"/><stop offset="0.1835" stop-color="#d3fc50"/><stop offset="0.1915" stop-color="#d3fc50"/><stop offset="0.1960" stop-color="#d3fc50"/><stop offset="0.2040" stop-color="#cefc4e"/><stop offset="0.2085" stop-color="#cefc4e"/><stop offset="0.2165" stop-color="#cefc4e"/><stop offset="0.2210" stop-color="#cefc4e"/><stop offset="0.2290" stop-color="#cffc4e"/><stop offset="0.2335" stop-color="#cffc4e"/><stop offset="0.2415" stop-color="#d2fc4f"/><stop offset="0.2460" stop-color="#d2fc4f"/><stop offset="0.2540" stop-color="#d4fc50"/><stop offset="0.2585" stop-color="#d4fc50"/><stop offset="0.2665" stop-color="#d4fc50"/><stop offset="0.2710" stop-color="#d4fc50"/><stop offset="0.2790" stop-color="#d5fc50"/><stop offset="0.2835" stop-color="#d5fc50"/><stop offset="0.2915" stop-color="#d2fc4f"/><stop offset="0.2960" stop-color="#d2fc4f"/><stop offset="0.3040" stop-color="#c9fc4d"/><stop offset="0.3085" stop-color="#c9fc4d"/><stop offset="0.3165" stop-color="#c7fc4c"/><stop offset="0.3210" stop-color="#c7fc4c"/><stop offset="0.3290" stop-color="#c7fc4c"/><stop offset="0.3335" stop-color="#c7fc4c"/><stop offset="0.3415" stop-color="#c6fc4c"/><stop offset="0.3460" stop-color="#c6fc4c"/><stop offset="0.3540" stop-color="#c8fc4d"/><stop offset="0.3585" stop-color="#c8fc4d"/><stop offset="0.3665" stop-color="#c9fc4d"/><stop offset="0.3710" stop-color="#c9fc4d"/><stop offset="0.3790" stop-color="#d0fc4f"/><stop offset="0.3835" stop-color="#d0fc4f"/><stop offset="0.3915" stop-color="#cffc4e"/><stop offset="0.3960" stop-color="#cffc4e"/><stop offset="0.4040" stop-color="#cffc4e"/><stop offset="0.4085" stop-color="#cffc4e"/><stop offset="0.4165" stop-color="#cdfc4e"/><stop offset="0.4210" stop-color="#cdfc4e"/><stop offset="0.4290" stop-color="#c9fc4d"/><stop offset="0.4335" stop-color="#c9fc4d"/><stop offset="0.4415" stop-color="#c7fc4c"/><stop offset="0.4460" stop-color="#c7fc4c"/><stop offset="0.4540" stop-color="#c8fc4d"/><stop offset="0.4585" stop-color="#c8fc4d"/><stop offset="0.4665" stop-color="#c9fc4d"/><stop offset="0.4710" stop-color="#c9fc4d"/><stop offset="0.4790" stop-color="#c5fc4c"/><stop offset="0.4835" stop-color="#c5fc4c"/><stop offset="0.4915" stop-color="#c3fc4b"/><stop offset="0.4960" stop-color="#c3fc4b"/><stop offset="0.5040" stop-color="#cefc4e"/><stop offset="0.5085" stop-color="#cefc4e"/><stop offset="0.5165" stop-color="#d3fc4f"/><stop offset="0.5210" stop-color="#d3fc4f"/><stop offset="0.5290" stop-color="#d2fc4f"/><stop offset="0.5335" stop-color="#d2fc4f"/><stop offset="0.5415" stop-color="#cffc4e"/><stop offset="0.5460" stop-color="#cffc4e"/><stop offset="0.5540" stop-color="#d2fc4f"/><stop offset="0.5585" stop-color="#d2fc4f"/><stop offset="0.5665" stop-color="#cefc4e"/><stop offset="0.5710" stop-color="#cefc4e"/><stop offset="0.5790" stop-color="#d2fc4f"/><stop offset="0.5835" stop-color="#d2fc4f"/><stop offset="0.5915" stop-color="#c3fc4b"/><stop offset="0.5960" stop-color="#c3fc4b"/><stop offset="0.6040" stop-color="#c8fc4d"/><stop offset="0.6085" stop-color="#c8fc4d"/><stop offset="0.6165" stop-color="#cafc4d"/><stop offset="0.6210" stop-color="#cafc4d"/><stop offset="0.6290" stop-color="#c6fc4c"/><stop offset="0.6335" stop-color="#c6fc4c"/><stop offset="0.6415" stop-color="#c6fc4c"/><stop offset="0.6460" stop-color="#c6fc4c"/><stop offset="0.6540" stop-color="#c3fc4b"/><stop offset="0.6585" stop-color="#c3fc4b"/><stop offset="0.6665" stop-color="#c5fc4c"/><stop offset="0.6710" stop-color="#c5fc4c"/><stop offset="0.6790" stop-color="#c4fc4b"/><stop offset="0.6835" stop-color="#c4fc4b"/><stop offset="0.6915" stop-color="#c5fc4c"/><stop offset="0.6960" stop-color="#c5fc4c"/><stop offset="0.7040" stop-color="#c3fc4b"/><stop offset="0.7085" stop-color="#c3fc4b"/><stop offset="0.7165" stop-color="#c5fc4c"/><stop offset="0.7210" stop-color="#c5fc4c"/><stop offset="0.7290" stop-color="#c3fc4b"/><stop offset="0.7335" stop-color="#c3fc4b"/><stop offset="0.7415" stop-color="#c7fc4c"/><stop offset="0.7460" stop-color="#c7fc4c"/><stop offset="0.7540" stop-color="#c6fc4c"/><stop offset="0.7585" stop-color="#c6fc4c"/><stop offset="0.7665" stop-color="#c4fc4b"/><stop offset="0.7710" stop-color="#c4fc4b"/><stop offset="0.7790" stop-color="#d3fc4f"/><stop offset="0.7835" stop-color="#d3fc4f"/><stop offset="0.7915" stop-color="#cefc4e"/><stop offset="0.7960" stop-color="#cefc4e"/><stop offset="0.8040" stop-color="#cafc4d"/><stop offset="0.8085" stop-color="#cafc4d"/><stop offset="0.8165" stop-color="#cdfc4e"/><stop offset="0.8210" stop-color="#cdfc4e"/><stop offset="0.8290" stop-color="#ccfc4e"/><stop offset="0.8335" stop-color="#ccfc4e"/><stop offset="0.8415" stop-color="#acfa44"/><stop offset="0.8460" stop-color="#acfa44"/><stop offset="0.8540" stop-color="#a9fa43"/><stop offset="0.8585" stop-color="#a9fa43"/><stop offset="0.8665" stop-color="#ffbd42"/><stop offset="0.8710" stop-color="#ffbd42"/><stop offset="0.8790" stop-color="#eafa55"/><stop offset="0.8835" stop-color="#eafa55"/><stop offset="0.8915" stop-color="#effa56"/><stop offset="0.8960" stop-color="#effa56"/><stop offset="0.9040" stop-color="#fef85a"/><stop offset="0.9085" stop-color="#fef85a"/><stop offset="0.9165" stop-color="#fef85a"/><stop offset="0.9210" stop-color="#fef85a"/><stop offset="0.9290" stop-color="#fff459"/><stop offset="0.9335" stop-color="#fff459"/><stop offset="0.9415" stop-color="#fff559"/><stop offset="0.9460" stop-color="#fff559"/><stop offset="0.9540" stop-color="#fef85a"/><stop offset="0.9585" stop-color="#fef85a"/><stop offset="0.9665" stop-color="#defc53"/><stop offset="0.9710" stop-color="#defc53"/><stop offset="0.9790" stop-color="#defc52"/><stop offset="0.9835" stop-color="#defc52"/><stop offset="0.9915" stop-color="#e3fb54"/><stop offset="0.9960" stop-color="#e3fb54"/></linearGradient>
<linearGradient id="g34" x1="0" y1="0" x2="0" y2="1"><stop offset="0.0040" stop-color="#c3fc4b"/><stop offset="0.0085" stop-color="#c3fc4b"/><stop offset="0.0165" stop-color="#c5fc4c"/><stop offset="0.0210" stop-color="#c5fc4c"/><stop offset="0.0290" stop-color="#c5fc4c"/><stop offset="0.0335" stop-color="#c5fc4c"/><stop offset="0.0415" stop-color="#c6fc4c"/><stop offset="0.0460" stop-color="#c6fc4c"/><stop offset="0.0540" stop-color="#c1fc4b"/><stop offset="0.0585" stop-color="#c1fc4b"/><stop offset="0.0665" stop-color="#c6fc4c"/><stop offset="0.0710" stop-color="#c6fc4c"/><stop offset="0.0790" stop-color="#c3fc4b"/><stop offset="0.0835" stop-color="#c3fc4b"/><stop offset="0.0915" stop-color="#c5fc4c"/><stop offset="0.0960" stop-color="#c5fc4c"/><stop offset="0.1040" stop-color="#c5fc4c"/><stop offset="0.1085" stop-color="#c5fc4c"/><stop offset="0.1165" stop-color="#b8fc48"/><stop offset="0.1210" stop-color="#b8fc48"/><stop offset="0.1290" stop-color="#b2fb46"/><stop offset="0.1335" stop-color="#b2fb46"/><stop offset="0.1415" stop-color="#b3fb46"/><stop offset="0.1460" stop-color="#b3fb46"/><stop offset="0.1540" stop-color="#b6fc47"/><stop offset="0.1585" stop-color="#b6fc47"/><stop offset="0.1665" stop-color="#a1f940"/><stop offset="0.1710" stop-color="#a1f940"/><stop offset="0.1790" stop-color="#a2f940"/><stop offset="0.1835" stop-color="#a2f940"/><stop offset="0.1915" stop-color="#bcfc49"/><stop offset="0.1960" stop-color="#bcfc49"/><stop offset="0.2040" stop-color="#c1fc4b"/><stop offset="0.2085" stop-color="#c1fc4b"/><stop offset="0.2165" stop-color="#bafc48"/><stop offset="0.2210" stop-color="#bafc48"/><stop offset="0.2290" stop-color="#bffc4a"/><stop offset="0.2335" stop-color="#bffc4a"/><stop offset="0.2415" stop-color="#bcfc49"/><stop offset="0.2460" stop-color="#bcfc49"/><stop offset="0.2540" stop-color="#bafc48"/><stop offset="0.2585" stop-color="#bafc48"/><stop offset="0.2665" stop-color="#bffc4a"/><stop offset="0.2710" stop-color="#bffc4a"/><stop offset="0.2790" stop-color="#bafc49"/><stop offset="0.2835" stop-color="#bafc49"/><stop offset="0.2915" stop-color="#bbfc49"/><stop offset="0.2960" stop-color="#bbfc49"/><stop offset="0.3040" stop-color="#bcfc49"/><stop offset="0.3085" stop-color="#bcfc49"/><stop offset="0.3165" stop-color="#b5fc47"/><stop offset="0.3210" stop-color="#b5fc47"/><stop offset="0.3290" stop-color="#b5fc47"/><stop offset="0.3335" stop-color="#b5fc47"/><stop offset="0.3415" stop-color="#b4fb47"/><stop offset="0.3460" stop-color="#b4fb47"/><stop offset="0.3540" stop-color="#bbfc49"/><stop offset="0.3585" stop-color="#bbfc49"/><stop offset="0.3665" stop-color="#b4fb47"/><stop offset="0.3710" stop-color="#b4fb47"/><stop offset="0.3790" stop-color="#bbfc49"/><stop offset="0.3835" stop-color="#bbfc49"/><stop offset="0.3915" stop-color="#bafc49"/><stop offset="0.3960" stop-color="#bafc49"/><stop offset="0.4040" stop-color="#c1fc4a"/><stop offset="0.4085" stop-color="#c1fc4a"/><stop offset="0.4165" stop-color="#befc4a"/><stop offset="0.4210" stop-color="#befc4a"/><stop offset="0.4290" stop-color="#c0fc4a"/><stop offset="0.4335" stop-color="#c0fc4a"/><stop offset="0.4415" stop-color="#c1fc4b"/><stop offset="0.4460" stop-color="#c1fc4b"/><stop offset="0.4540" stop-color="#bdfc49"/><stop offset="0.4585" stop-color="#bdfc49"/><stop offset="0.4665" stop-color="#bdfc49"/><stop offset="0.4710" stop-color="#bdfc49"/><stop offset="0.4790" stop-color="#bdfc49"/><stop offset="0.4835" stop-color="#bdfc49"/><stop offset="0.4915" stop-color="#bcfc49"/><stop offset="0.4960" stop-color="#bcfc49"/><stop offset="0.5040" stop-color="#cbfc4d"/><stop offset="0.5085" stop-color="#cbfc4d"/><stop offset="0.5165" stop-color="#cefc4e"/><stop offset="0.5210" stop-color="#cefc4e"/><stop offset="0.5290" stop-color="#cafc4d"/><stop offset="0.5335" stop-color="#cafc4d"/><stop offset="0.5415" stop-color="#ccfc4e"/><stop offset="0.5460" stop-color="#ccfc4e"/><stop offset="0.5540" stop-color="#cdfc4e"/><stop offset="0.5585" stop-color="#cdfc4e"/><stop offset="0.5665" stop-color="#cdfc4e"/><stop offset="0.5710" stop-color="#cdfc4e"/><stop offset="0.5790" stop-color="#c2fc4b"/><stop offset="0.5835" stop-color="#c2fc4b"/><stop offset="0.5915" stop-color="#c1fc4b"/><stop offset="0.5960" stop-color="#c1fc4b"/><stop offset="0.6040" stop-color="#befc4a"/><stop offset="0.6085" stop-color="#befc4a"/><stop offset="0.6165" stop-color="#c0fc4a"/><stop offset="0.6210" stop-color="#c0fc4a"/><stop offset="0.6290" stop-color="#c4fc4b"/><stop offset="0.6335" stop-color="#c4fc4b"/><stop offset="0.6415" stop-color="#c1fc4a"/><stop offset="0.6460" stop-color="#c1fc4a"/><stop offset="0.6540" stop-color="#c2fc4b"/><stop offset="0.6585" stop-color="#c2fc4b"/><stop offset="0.6665" stop-color="#bffc4a"/><stop offset="0.6710" stop-color="#bffc4a"/><stop offset="0.6790" stop-color="#d2fc4f"/><stop offset="0.6835" stop-color="#d2fc4f"/><stop offset="0.6915" stop-color="#cffc4e"/><stop offset="0.6960" stop-color="#cffc4e"/><stop offset="0.7040" stop-color="#c1fc4b"/><stop offset="0.7085" stop-color="#c1fc4b"/><stop offset="0.7165" stop-color="#c2fc4b"/><stop offset="0.7210" stop-color="#c2fc4b"/><stop offset="0.7290" stop-color="#bbfc49"/><stop offset="0.7335" stop-color="#bbfc49"/><stop offset="0.7415" stop-color="#c1fc4a"/><stop offset="0.7460" stop-color="#c1fc4a"/><stop offset="0.7540" stop-color="#bcfc49"/><stop offset="0.7585" stop-color="#bcfc49"/><stop offset="0.7665" stop-color="#c3fc4b"/><stop offset="0.7710" stop-color="#c3fc4b"/><stop offset="0.7790" stop-color="#bdfc49"/><stop offset="0.7835" stop-color="#bdfc49"/><stop offset="0.7915" stop-color="#bcfc49"/><stop offset="0.7960" stop-color="#bcfc49"/><stop offset="0.8040" stop-color="#c2fc4b"/><stop offset="0.8085" stop-color="#c2fc4b"/><stop offset="0.8165" stop-color="#c0fc4a"/><stop offset="0.8210" stop-color="#c0fc4a"/><stop offset="0.8290" stop-color="#bbfc49"/><stop offset="0.8335" stop-color="#bbfc49"/><stop offset="0.8415" stop-color="#b4fb46"/><stop offset="0.8460" stop-color="#b4fb46"/><stop offset="0.8540" stop-color="#b7fc48"/><stop offset="0.8585" stop-color="#b7fc48"/><stop offset="0.8665" stop-color="#eefa56"/><stop offset="0.8710" stop-color="#eefa56"/><stop offset="0.8790" stop-color="#f3f957"/><stop offset="0.8835" stop-color="#f3f957"/><stop offset="0.8915" stop-color="#d7fc51"/><stop offset="0.8960" stop-color="#d7fc51"/><stop offset="0.9040" stop-color="#d8fc51"/><stop offset="0.9085" stop-color="#d8fc51"/><stop offset="0.9165" stop-color="#d8fc51"/><stop offset="0.9210" stop-color="#d8fc51"/><stop offset="0.9290" stop-color="#d5fc50"/><stop offset="0.9335" stop-color="#d5fc50"/><stop offset="0.9415" stop-color="#d8fc51"/><stop offset="0.9460" stop-color="#d8fc51"/><stop offset="0.9540" stop-color="#d9fc51"/><stop offset="0.9585" stop-color="#d9fc51"/><stop offset="0.9665" stop-color="#d9fc51"/><stop offset="0.9710" stop-color="#d9fc51"/><stop offset="0.9790" stop-color="#d9fc51"/><stop offset="0.9835" stop-color="#d9fc51"/><stop offset="0.9915" stop-color="#d6fc50"/><stop offset="0.9960" stop-color="#d6fc50"/></linearGradient>
<linearGradient id="g35" x1="0" y1="0" x2="0" y2="1"><stop offset="0.0040" stop-color="#a4f941"/><stop offset="0.0085" stop-color="#a4f941"/><stop offset="0.0165" stop-color="#aafa43"/><stop offset="0.0210" stop-color="#aafa43"/><stop offset="0.0290" stop-color="#aafa43"/><stop offset="0.0335" stop-color="#aafa43"/><stop offset="0.0415" stop-color="#aafa43"/><stop offset="0.0460" stop-color="#aafa43"/><stop offset="0.0540" stop-color="#a9fa43"/><stop offset="0.0585" stop-color="#a9fa43"/><stop offset="0.0665" stop-color="#a9fa43"/><stop offset="0.0710" stop-color="#a9fa43"/><stop offset="0.0790" stop-color="#a2f940"/><stop offset="0.0835" stop-color="#a2f940"/><stop offset="0.0915" stop-color="#a7f942"/><stop offset="0.0960" stop-color="#a7f942"/><stop offset="0.1040" stop-color="#a4f941"/><stop offset="0.1085" stop-color="#a4f941"/><stop offset="0.1165" stop-color="#bafc49"/><stop offset="0.1210" stop-color="#bafc49"/><stop offset="0.1290" stop-color="#b7fc48"/><stop offset="0.1335" stop-color="#b7fc48"/><stop offset="0.1415" stop-color="#b8fc48"/><stop offset="0.1460" stop-color="#b8fc48"/><stop offset="0.1540" stop-color="#c3fc4b"/><stop offset="0.1585" stop-color="#c3fc4b"/><stop offset="0.1665" stop-color="#c3fc4b"/><stop offset="0.1710" stop-color="#c3fc4b"/><stop offset="0.1790" stop-color="#c5fc4c"/><stop offset="0.1835" stop-color="#c5fc4c"/><stop offset="0.1915" stop-color="#a0f840"/><stop offset="0.1960" stop-color="#a0f840"/><stop offset="0.2040" stop-color="#9bf83e"/><stop offset="0.2085" stop-color="#9bf83e"/><stop offset="0.2165" stop-color="#9ff83f"/><stop offset="0.2210" stop-color="#9ff83f"/><stop offset="0.2290" stop-color="#9ff83f"/><stop offset="0.2335" stop-color="#9ff83f"/><stop offset="0.2415" stop-color="#9bf83e"/><stop offset="0.2460" stop-color="#9bf83e"/><stop offset="0.2540" stop-color="#99f73d"/><stop offset="0.2585" stop-color="#99f73d"/><stop offset="0.2665" stop-color="#9cf83e"/><stop offset="0.2710" stop-color="#9cf83e"/><stop offset="0.2790" stop-color="#9ef83f"/><stop offset="0.2835" stop-color="#9ef83f"/><stop offset="0.2915" stop-color="#9cf83e"/><stop offset="0.2960" stop-color="#9cf83e"/><stop offset="0.3040" stop-color="#99f73d"/><stop offset="0.3085" stop-color="#99f73d"/><stop offset="0.3165" stop-color="#adfa44"/><stop offset="0.3210" stop-color="#adfa44"/><stop offset="0.3290" stop-color="#aafa43"/><stop offset="0.3335" stop-color="#aafa43"/><stop offset="0.3415" stop-color="#affb45"/><stop offset="0.3460" stop-color="#affb45"/><stop offset="0.3540" stop-color="#a8fa42"/><stop offset="0.3585" stop-color="#a8fa42"/><stop offset="0.3665" stop-color="#acfa44"/><stop offset="0.3710" stop-color="#acfa44"/><stop offset="0.3790" stop-color="#aafa43"/><stop offset="0.3835" stop-color="#aafa43"/><stop offset="0.3915" stop-color="#affb45"/><stop offset="0.3960" stop-color="#affb45"/><stop offset="0.4040" stop-color="#a8fa42"/><stop offset="0.4085" stop-color="#a8fa42"/><stop offset="0.4165" stop-color="#affb45"/><stop offset="0.4210" stop-color="#affb45"/><stop offset="0.4290" stop-color="#aafa43"/><stop offset="0.4335" stop-color="#aafa43"/><stop offset="0.4415" stop-color="#aafa43"/><stop offset="0.4460" stop-color="#aafa43"/><stop offset="0.4540" stop-color="#a9fa43"/><stop offset="0.4585" stop-color="#a9fa43"/><stop offset="0.4665" stop-color="#abfa44"/><stop offset="0.4710" stop-color="#abfa44"/><stop offset="0.4790" stop-color="#affb45"/><stop offset="0.4835" stop-color="#affb45"/><stop offset="0.4915" stop-color="#b0fb45"/><stop offset="0.4960" stop-color="#b0fb45"/><stop offset="0.5040" stop-color="#9ef83f"/><stop offset="0.5085" stop-color="#9ef83f"/><stop offset="0.5165" stop-color="#9bf83e"/><stop offset="0.5210" stop-color="#9bf83e"/><stop offset="0.5290" stop-color="#98f73d"/><stop offset="0.5335" stop-color="#98f73d"/><stop offset="0.5415" stop-color="#9af83e"/><stop offset="0.5460" stop-color="#9af83e"/><stop offset="0.5540" stop-color="#9bf83e"/><stop offset="0.5585" stop-color="#9bf83e"/><stop offset="0.5665" stop-color="#98f73d"/><stop offset="0.5710" stop-color="#98f73d"/><stop offset="0.5790" stop-color="#b2fb46"/><stop offset="0.5835" stop-color="#b2fb46"/><stop offset="0.5915" stop-color="#aafa43"/><stop offset="0.5960" stop-color="#aafa43"/><stop offset="0.6040" stop-color="#acfa44"/><stop offset="0.6085" stop-color="#acfa44"/><stop offset="0.6165" stop-color="#abfa44"/><stop offset="0.6210" stop-color="#abfa44"/><stop offset="0.6290" stop-color="#abfa43"/><stop offset="0.6335" stop-color="#abfa43"/><stop offset="0.6415" stop-color="#aafa43"/><stop offset="0.6460" stop-color="#aafa43"/><stop offset="0.6540" stop-color="#acfa44"/><stop offset="0.6585" stop-color="#acfa44"/><stop offset="0.6665" stop-color="#adfa44"/><stop offset="0.6710" stop-color="#adfa44"/><stop offset="0.6790" stop-color="#b2fb46"/><stop offset="0.6835" stop-color="#b2fb46"/><stop offset="0.6915" stop-color="#cafc4d"/><stop offset="0.6960" stop-color="#cafc4d"/><stop offset="0.7040" stop-color="#b1fb46"/><stop offset="0.7085" stop-color="#b1fb46"/><stop offset="0.7165" stop-color="#affb45"/><stop offset="0.7210" stop-color="#affb45"/><stop offset="0.7290" stop-color="#adfa44"/><stop offset="0.7335" stop-color="#adfa44"/><stop offset="0.7415" stop-color="#b1fb45"/><stop offset="0.7460" stop-color="#b1fb45"/><stop offset="0.7540" stop-color="#b2fb46"/><stop offset="0.7585" stop-color="#b2fb46"/><stop offset="0.7665" stop-color="#acfa44"/><stop offset="0.7710" stop-color="#acfa44"/><stop offset="0.7790" stop-color="#b1fb46"/><stop offset="0.7835" stop-color="#b1fb46"/><stop offset="0.7915" stop-color="#adfa44"/><stop offset="0.7960" stop-color="#adfa44"/><stop offset="0.8040" stop-color="#b2fb46"/><stop offset="0.8085" stop-color="#b2fb46"/><stop offset="0.8165" stop-color="#affb45"/><stop offset="0.8210" stop-color="#affb45"/><stop offset="0.8290" stop-color="#adfa44"/><stop offset="0.8335" stop-color="#adfa44"/><stop offset="0.8415" stop-color="#bcfc49"/><stop offset="0.8460" stop-color="#bcfc49"/><stop offset="0.8540" stop-color="#e9fb55"/><stop offset="0.8585" stop-color="#e9fb55"/><stop offset="0.8665" stop-color="#e7fb54"/><stop offset="0.8710" stop-color="#e7fb54"/><stop offset="0.8790" stop-color="#66ee2a"/><stop offset="0.8835" stop-color="#66ee2a"/><stop offset="0.8915" stop-color="#6ef02d"/><stop offset="0.8960" stop-color="#6ef02d"/><stop offset="0.9040" stop-color="#68ee2b"/><stop offset="0.9085" stop-color="#68ee2b"/><stop offset="0.9165" stop-color="#7df233"/><stop offset="0.9210" stop-color="#7df233"/><stop offset="0.9290" stop-color="#7bf232"/><stop offset="0.9335" stop-color="#7bf232"/><stop offset="0.9415" stop-color="#7df233"/><stop offset="0.9460" stop-color="#7df233"/><stop offset="0.9540" stop-color="#80f334"/><stop offset="0.9585" stop-color="#80f334"/><stop offset="0.9665" stop-color="#b0fb45"/><stop offset="0.9710" stop-color="#b0fb45"/><stop offset="0.9790" stop-color="#aafa43"/><stop offset="0.9835" stop-color="#aafa43"/><stop offset="0.9915" stop-color="#acfa44"/><stop offset="0.9960" stop-color="#acfa44"/></linearGradient>
<linearGradient id="g40" x1="0" y1="0" x2="0" y2="1"><stop offset="0.0074" stop-color="#ff4f1e"/><stop offset="0.0158" stop-color="#ff4f1e"/><stop offset="0.0307" stop-color="#ff511f"/><stop offset="0.0391" stop-color="#ff511f"/><stop offset="0.0540" stop-color="#ff521f"/><stop offset="0.0623" stop-color="#ff521f"/><stop offset="0.0772" stop-color="#fe491d"/><stop offset="0.0856" stop-color="#fe491d"/><stop offset="0.1005" stop-color="#ff4d1e"/><stop offset="0.1088" stop-color="#ff4d1e"/><stop offset="0.1237" stop-color="#ff4c1e"/><stop offset="0.1321" stop-color="#ff4c1e"/><stop offset="0.1470" stop-color="#ff4d1e"/><stop offset="0.1553" stop-color="#ff4d1e"/><stop offset="0.1702" stop-color="#ff4f1e"/><stop offset="0.1786" stop-color="#ff4f1e"/><stop offset="0.1935" stop-color="#fe4b1d"/><stop offset="0.2019" stop-color="#fe4b1d"/><stop offset="0.2167" stop-color="#ff4d1e"/><stop offset="0.2251" stop-color="#ff4d1e"/><stop offset="0.2400" stop-color="#ff511f"/><stop offset="0.2484" stop-color="#ff511f"/><stop offset="0.2633" stop-color="#ff531f"/><stop offset="0.2716" stop-color="#ff531f"/><stop offset="0.2865" stop-color="#ff511f"/><stop offset="0.2949" stop-color="#ff511f"/><stop offset="0.3098" stop-color="#ff5520"/><stop offset="0.3181" stop-color="#ff5520"/><stop offset="0.3330" stop-color="#ff5921"/><stop offset="0.3414" stop-color="#ff5921"/><stop offset="0.3563" stop-color="#ff5921"/><stop offset="0.3647" stop-color="#ff5921"/><stop offset="0.3795" stop-color="#ff521f"/><stop offset="0.3879" stop-color="#ff521f"/><stop offset="0.4028" stop-color="#ff5921"/><stop offset="0.4112" stop-color="#ff5921"/><stop offset="0.4260" stop-color="#ff531f"/><stop offset="0.4344" stop-color="#ff531f"/><stop offset="0.4493" stop-color="#fe4a1d"/><stop offset="0.4577" stop-color="#fe4a1d"/><stop offset="0.4726" stop-color="#ff511f"/><stop offset="0.4809" stop-color="#ff511f"/><stop offset="0.4958" stop-color="#fe481d"/><stop offset="0.5042" stop-color="#fe481d"/><stop offset="0.5191" stop-color="#ff511f"/><stop offset="0.5274" stop-color="#ff511f"/><stop offset="0.5423" stop-color="#fe471d"/><stop offset="0.5507" stop-color="#fe471d"/><stop offset="0.5656" stop-color="#fe471d"/><stop offset="0.5740" stop-color="#fe471d"/><stop offset="0.5888" stop-color="#ff4f1e"/><stop offset="0.5972" stop-color="#ff4f1e"/><stop offset="0.6121" stop-color="#fe491d"/><stop offset="0.6205" stop-color="#fe491d"/><stop offset="0.6353" stop-color="#fe491d"/><stop offset="0.6437" stop-color="#fe491d"/><stop offset="0.6586" stop-color="#ff501e"/><stop offset="0.6670" stop-color="#ff501e"/><stop offset="0.6819" stop-color="#fe491d"/><stop offset="0.6902" stop-color="#fe491d"/><stop offset="0.7051" stop-color="#ff501e"/><stop offset="0.7135" stop-color="#ff501e"/><stop offset="0.7284" stop-color="#fd461d"/><stop offset="0.7367" stop-color="#fd461d"/><stop offset="0.7516" stop-color="#fe491d"/><stop offset="0.7600" stop-color="#fe491d"/><stop offset="0.7749" stop-color="#fd461c"/><stop offset="0.7833" stop-color="#fd461c"/><stop offset="0.7981" stop-color="#ff511f"/><stop offset="0.8065" stop-color="#ff511f"/><stop offset="0.8214" stop-color="#ff4d1e"/><stop offset="0.8298" stop-color="#ff4d1e"/><stop offset="0.8447" stop-color="#fe4a1d"/><stop offset="0.8530" stop-color="#fe4a1d"/><stop offset="0.8679" stop-color="#fe4a1d"/><stop offset="0.8763" stop-color="#fe4a1d"/><stop offset="0.8912" stop-color="#ff4f1e"/><stop offset="0.8995" stop-color="#ff4f1e"/><stop offset="0.9144" stop-color="#fe471d"/><stop offset="0.9228" stop-color="#fe471d"/><stop offset="0.9377" stop-color="#fe471d"/><stop offset="0.9460" stop-color="#fe471d"/><stop offset="0.9609" stop-color="#ff4e1e"/><stop offset="0.9693" stop-color="#ff4e1e"/><stop offset="0.9842" stop-color="#ff501e"/><stop offset="0.9926" stop-color="#ff501e"/></linearGradient>
<linearGradient id="g41" x1="0" y1="0" x2="0" y2="1"><stop offset="0.0074" stop-color="#ffe452"/><stop offset="0.0158" stop-color="#ffe452"/><stop offset="0.0307" stop-color="#ffec55"/><stop offset="0.0391" stop-color="#ffec55"/><stop offset="0.0540" stop-color="#ffd14a"/><stop offset="0.0623" stop-color="#ffd14a"/><stop offset="0.0772" stop-color="#ffd24b"/><stop offset="0.0856" stop-color="#ffd24b"/><stop offset="0.1005" stop-color="#ffcb48"/><stop offset="0.1088" stop-color="#ffcb48"/><stop offset="0.1237" stop-color="#ffed55"/><stop offset="0.1321" stop-color="#ffed55"/><stop offset="0.1470" stop-color="#ffea54"/><stop offset="0.1553" stop-color="#ffea54"/><stop offset="0.1702" stop-color="#fff459"/><stop offset="0.1786" stop-color="#fff459"/><stop offset="0.1935" stop-color="#fff057"/><stop offset="0.2019" stop-color="#fff057"/><stop offset="0.2167" stop-color="#fff559"/><stop offset="0.2251" stop-color="#fff559"/><stop offset="0.2400" stop-color="#ffe452"/><stop offset="0.2484" stop-color="#ffe452"/><stop offset="0.2633" stop-color="#ffe050"/><stop offset="0.2716" stop-color="#ffe050"/><stop offset="0.2865" stop-color="#ffe653"/><stop offset="0.2949" stop-color="#ffe653"/><stop offset="0.3098" stop-color="#ffcc48"/><stop offset="0.3181" stop-color="#ffcc48"/><stop offset="0.3330" stop-color="#ffc646"/><stop offset="0.3414" stop-color="#ffc646"/><stop offset="0.3563" stop-color="#ffc747"/><stop offset="0.3647" stop-color="#ffc747"/><stop offset="0.3795" stop-color="#ffcc48"/><stop offset="0.3879" stop-color="#ffcc48"/><stop offset="0.4028" stop-color="#ffee56"/><stop offset="0.4112" stop-color="#ffee56"/><stop offset="0.4260" stop-color="#ffdf50"/><stop offset="0.4344" stop-color="#ffdf50"/><stop offset="0.4493" stop-color="#ffea54"/><stop offset="0.4577" stop-color="#ffea54"/><stop offset="0.4726" stop-color="#ffdf50"/><stop offset="0.4809" stop-color="#ffdf50"/><stop offset="0.4958" stop-color="#fff258"/><stop offset="0.5042" stop-color="#fff258"/><stop offset="0.5191" stop-color="#ffdc4f"/><stop offset="0.5274" stop-color="#ffdc4f"/><stop offset="0.5423" stop-color="#c0fc4a"/><stop offset="0.5507" stop-color="#c0fc4a"/><stop offset="0.5656" stop-color="#c6fc4c"/><stop offset="0.5740" stop-color="#c6fc4c"/><stop offset="0.5888" stop-color="#d4fc50"/><stop offset="0.5972" stop-color="#d4fc50"/><stop offset="0.6121" stop-color="#eafa55"/><stop offset="0.6205" stop-color="#eafa55"/><stop offset="0.6353" stop-color="#eafa55"/><stop offset="0.6437" stop-color="#eafa55"/><stop offset="0.6586" stop-color="#f0fa57"/><stop offset="0.6670" stop-color="#f0fa57"/><stop offset="0.6819" stop-color="#eefa56"/><stop offset="0.6902" stop-color="#eefa56"/><stop offset="0.7051" stop-color="#f0fa57"/><stop offset="0.7135" stop-color="#f0fa57"/><stop offset="0.7284" stop-color="#e8fb55"/><stop offset="0.7367" stop-color="#e8fb55"/><stop offset="0.7516" stop-color="#e7fb54"/><stop offset="0.7600" stop-color="#e7fb54"/><stop offset="0.7749" stop-color="#eafa55"/><stop offset="0.7833" stop-color="#eafa55"/><stop offset="0.7981" stop-color="#e6fb54"/><stop offset="0.8065" stop-color="#e6fb54"/><stop offset="0.8214" stop-color="#eefa56"/><stop offset="0.8298" stop-color="#eefa56"/><stop offset="0.8447" stop-color="#f0fa57"/><stop offset="0.8530" stop-color="#f0fa57"/><stop offset="0.8679" stop-color="#eefa56"/><stop offset="0.8763" stop-color="#eefa56"/><stop offset="0.8912" stop-color="#f0fa57"/><stop offset="0.8995" stop-color="#f0fa57"/><stop offset="0.9144" stop-color="#eefa56"/><stop offset="0.9228" stop-color="#eefa56"/><stop offset="0.9377" stop-color="#effa56"/><stop offset="0.9460" stop-color="#effa56"/><stop offset="0.9609" stop-color="#eafa55"/><stop offset="0.9693" stop-color="#eafa55"/><stop offset="0.9842" stop-color="#ebfa56"/><stop offset="0.9926" stop-color="#ebfa56"/></linearGradient>
<linearGradient id="g42" x1="0" y1="0" x2="0" y2="1"><stop offset="0.0074" stop-color="#d8fc51"/><stop offset="0.0158" stop-color="#d8fc51"/><stop offset="0.0307" stop-color="#defc52"/><stop offset="0.0391" stop-color="#defc52"/><stop offset="0.0540" stop-color="#d9fc51"/><stop offset="0.0623" stop-color="#d9fc51"/><stop offset="0.0772" stop-color="#edfa56"/><stop offset="0.0856" stop-color="#edfa56"/><stop offset="0.1005" stop-color="#effa56"/><stop offset="0.1088" stop-color="#effa56"/><stop offset="0.1237" stop-color="#f0fa57"/><stop offset="0.1321" stop-color="#f0fa57"/><stop offset="0.1470" stop-color="#edfa56"/><stop offset="0.1553" stop-color="#edfa56"/><stop offset="0.1702" stop-color="#edfa56"/><stop offset="0.1786" stop-color="#edfa56"/><stop offset="0.1935" stop-color="#eafa55"/><stop offset="0.2019" stop-color="#eafa55"/><stop offset="0.2167" stop-color="#edfa56"/><stop offset="0.2251" stop-color="#edfa56"/><stop offset="0.2400" stop-color="#edfa56"/><stop offset="0.2484" stop-color="#edfa56"/><stop offset="0.2633" stop-color="#f0fa57"/><stop offset="0.2716" stop-color="#f0fa57"/><stop offset="0.2865" stop-color="#eefa56"/><stop offset="0.2949" stop-color="#eefa56"/><stop offset="0.3098" stop-color="#e1fb53"/><stop offset="0.3181" stop-color="#e1fb53"/><stop offset="0.3330" stop-color="#dffc53"/><stop offset="0.3414" stop-color="#dffc53"/><stop offset="0.3563" stop-color="#ddfc52"/><stop offset="0.3647" stop-color="#ddfc52"/><stop offset="0.3795" stop-color="#e2fb53"/><stop offset="0.3879" stop-color="#e2fb53"/><stop offset="0.4028" stop-color="#e9fb55"/><stop offset="0.4112" stop-color="#e9fb55"/><stop offset="0.4260" stop-color="#e6fb54"/><stop offset="0.4344" stop-color="#e6fb54"/><stop offset="0.4493" stop-color="#e3fb54"/><stop offset="0.4577" stop-color="#e3fb54"/><stop offset="0.4726" stop-color="#e7fb54"/><stop offset="0.4809" stop-color="#e7fb54"/><stop offset="0.4958" stop-color="#dffc53"/><stop offset="0.5042" stop-color="#dffc53"/><stop offset="0.5191" stop-color="#e2fb53"/><stop offset="0.5274" stop-color="#e2fb53"/><stop offset="0.5423" stop-color="#ffdf50"/><stop offset="0.5507" stop-color="#ffdf50"/><stop offset="0.5656" stop-color="#ffe050"/><stop offset="0.5740" stop-color="#ffe050"/><stop offset="0.5888" stop-color="#ffdf50"/><stop offset="0.5972" stop-color="#ffdf50"/><stop offset="0.6121" stop-color="#dffc53"/><stop offset="0.6205" stop-color="#dffc53"/><stop offset="0.6353" stop-color="#dcfc52"/><stop offset="0.6437" stop-color="#dcfc52"/><stop offset="0.6586" stop-color="#dcfc52"/><stop offset="0.6670" stop-color="#dcfc52"/><stop offset="0.6819" stop-color="#e3fb54"/><stop offset="0.6902" stop-color="#e3fb54"/><stop offset="0.7051" stop-color="#dbfc52"/><stop offset="0.7135" stop-color="#dbfc52"/><stop offset="0.7284" stop-color="#d7fc51"/><stop offset="0.7367" stop-color="#d7fc51"/><stop offset="0.7516" stop-color="#e2fb53"/><stop offset="0.7600" stop-color="#e2fb53"/><stop offset="0.7749" stop-color="#e0fc53"/><stop offset="0.7833" stop-color="#e0fc53"/><stop offset="0.7981" stop-color="#dcfc52"/><stop offset="0.8065" stop-color="#dcfc52"/><stop offset="0.8214" stop-color="#e2fb53"/><stop offset="0.8298" stop-color="#e2fb53"/><stop offset="0.8447" stop-color="#e4fb54"/><stop offset="0.8530" stop-color="#e4fb54"/><stop offset="0.8679" stop-color="#e6fb54"/><stop offset="0.8763" stop-color="#e6fb54"/><stop offset="0.8912" stop-color="#e4fb54"/><stop offset="0.8995" stop-color="#e4fb54"/><stop offset="0.9144" stop-color="#e0fc53"/><stop offset="0.9228" stop-color="#e0fc53"/><stop offset="0.9377" stop-color="#e4fb54"/><stop offset="0.9460" stop-color="#e4fb54"/><stop offset="0.9609" stop-color="#e5fb54"/><stop offset="0.9693" stop-color="#e5fb54"/><stop offset="0.9842" stop-color="#e6fb54"/><stop offset="0.9926" stop-color="#e6fb54"/></linearGradient>
<linearGradient id="g43" x1="0" y1="0" x2="0" y2="1"><stop offset="0.0074" stop-color="#e9fa55"/><stop offset="0.0158" stop-color="#e9fa55"/><stop offset="0.0307" stop-color="#eafa55"/><stop offset="0.0391" stop-color="#eafa55"/><stop offset="0.0540" stop-color="#edfa56"/><stop offset="0.0623" stop-color="#edfa56"/><stop offset="0.0772" stop-color="#d9fc51"/><stop offset="0.0856" stop-color="#d9fc51"/><stop offset="0.1005" stop-color="#dafc51"/><stop offset="0.1088" stop-color="#dafc51"/><stop offset="0.1237" stop-color="#d8fc51"/><stop offset="0.1321" stop-color="#d8fc51"/><stop offset="0.1470" stop-color="#d9fc51"/><stop offset="0.1553" stop-color="#d9fc51"/><stop offset="0.1702" stop-color="#d8fc51"/><stop offset="0.1786" stop-color="#d8fc51"/><stop offset="0.1935" stop-color="#d9fc51"/><stop offset="0.2019" stop-color="#d9fc51"/><stop offset="0.2167" stop-color="#dcfc52"/><stop offset="0.2251" stop-color="#dcfc52"/><stop offset="0.2400" stop-color="#e0fc53"/><stop offset="0.2484" stop-color="#e0fc53"/><stop offset="0.2633" stop-color="#ddfc52"/><stop offset="0.2716" stop-color="#ddfc52"/><stop offset="0.2865" stop-color="#dbfc52"/><stop offset="0.2949" stop-color="#dbfc52"/><stop offset="0.3098" stop-color="#dbfc52"/><stop offset="0.3181" stop-color="#dbfc52"/><stop offset="0.3330" stop-color="#ddfc52"/><stop offset="0.3414" stop-color="#ddfc52"/><stop offset="0.3563" stop-color="#dbfc52"/><stop offset="0.3647" stop-color="#dbfc52"/><stop offset="0.3795" stop-color="#d9fc51"/><stop offset="0.3879" stop-color="#d9fc51"/><stop offset="0.4028" stop-color="#dffc53"/><stop offset="0.4112" stop-color="#dffc53"/><stop offset="0.4260" stop-color="#ddfc52"/><stop offset="0.4344" stop-color="#ddfc52"/><stop offset="0.4493" stop-color="#d9fc51"/><stop offset="0.4577" stop-color="#d9fc51"/><stop offset="0.4726" stop-color="#d9fc51"/><stop offset="0.4809" stop-color="#d9fc51"/><stop offset="0.4958" stop-color="#d9fc51"/><stop offset="0.5042" stop-color="#d9fc51"/><stop offset="0.5191" stop-color="#e0fc53"/><stop offset="0.5274" stop-color="#e0fc53"/><stop offset="0.5423" stop-color="#e3fb54"/><stop offset="0.5507" stop-color="#e3fb54"/><stop offset="0.5656" stop-color="#e7fb55"/><stop offset="0.5740" stop-color="#e7fb55"/><stop offset="0.5888" stop-color="#eafa55"/><stop offset="0.5972" stop-color="#eafa55"/><stop offset="0.6121" stop-color="#d8fc51"/><stop offset="0.6205" stop-color="#d8fc51"/><stop offset="0.6353" stop-color="#dbfc52"/><stop offset="0.6437" stop-color="#dbfc52"/><stop offset="0.6586" stop-color="#dcfc52"/><stop offset="0.6670" stop-color="#dcfc52"/><stop offset="0.6819" stop-color="#dffc53"/><stop offset="0.6902" stop-color="#dffc53"/><stop offset="0.7051" stop-color="#dafc51"/><stop offset="0.7135" stop-color="#dafc51"/><stop offset="0.7284" stop-color="#dafc51"/><stop offset="0.7367" stop-color="#dafc51"/><stop offset="0.7516" stop-color="#dafc51"/><stop offset="0.7600" stop-color="#dafc51"/><stop offset="0.7749" stop-color="#d8fc51"/><stop offset="0.7833" stop-color="#d8fc51"/><stop offset="0.7981" stop-color="#ddfc52"/><stop offset="0.8065" stop-color="#ddfc52"/><stop offset="0.8214" stop-color="#defc53"/><stop offset="0.8298" stop-color="#defc53"/><stop offset="0.8447" stop-color="#dbfc52"/><stop offset="0.8530" stop-color="#dbfc52"/><stop offset="0.8679" stop-color="#d8fc51"/><stop offset="0.8763" stop-color="#d8fc51"/><stop offset="0.8912" stop-color="#defc52"/><stop offset="0.8995" stop-color="#defc52"/><stop offset="0.9144" stop-color="#defc52"/><stop offset="0.9228" stop-color="#defc52"/><stop offset="0.9377" stop-color="#ddfc52"/><stop offset="0.9460" stop-color="#ddfc52"/><stop offset="0.9609" stop-color="#dbfc52"/><stop offset="0.9693" stop-color="#dbfc52"/><stop offset="0.9842" stop-color="#dffc53"/><stop offset="0.9926" stop-color="#dffc53"/></linearGradient>
<linearGradient id="g44" x1="0" y1="0" x2="0" y2="1"><stop offset="0.0074" stop-color="#cffc4e"/><stop offset="0.0158" stop-color="#cffc4e"/><stop offset="0.0307" stop-color="#d1fc4f"/><stop offset="0.0391" stop-color="#d1fc4f"/><stop offset="0.0540" stop-color="#cefc4e"/><stop offset="0.0623" stop-color="#cefc4e"/><stop offset="0.0772" stop-color="#d0fc4f"/><stop offset="0.0856" stop-color="#d0fc4f"/><stop offset="0.1005" stop-color="#cefc4e"/><stop offset="0.1088" stop-color="#cefc4e"/><stop offset="0.1237" stop-color="#cdfc4e"/><stop offset="0.1321" stop-color="#cdfc4e"/><stop offset="0.1470" stop-color="#cffc4f"/><stop offset="0.1553" stop-color="#cffc4f"/><stop offset="0.1702" stop-color="#cefc4e"/><stop offset="0.1786" stop-color="#cefc4e"/><stop offset="0.1935" stop-color="#d0fc4f"/><stop offset="0.2019" stop-color="#d0fc4f"/><stop offset="0.2167" stop-color="#d3fc50"/><stop offset="0.2251" stop-color="#d3fc50"/><stop offset="0.2400" stop-color="#cefc4e"/><stop offset="0.2484" stop-color="#cefc4e"/><stop offset="0.2633" stop-color="#d2fc4f"/><stop offset="0.2716" stop-color="#d2fc4f"/><stop offset="0.2865" stop-color="#cefc4e"/><stop offset="0.2949" stop-color="#cefc4e"/><stop offset="0.3098" stop-color="#c9fc4d"/><stop offset="0.3181" stop-color="#c9fc4d"/><stop offset="0.3330" stop-color="#d3fc50"/><stop offset="0.3414" stop-color="#d3fc50"/><stop offset="0.3563" stop-color="#cffc4e"/><stop offset="0.3647" stop-color="#cffc4e"/><stop offset="0.3795" stop-color="#d4fc50"/><stop offset="0.3879" stop-color="#d4fc50"/><stop offset="0.4028" stop-color="#ecfa56"/><stop offset="0.4112" stop-color="#ecfa56"/><stop offset="0.4260" stop-color="#cefc4e"/><stop offset="0.4344" stop-color="#cefc4e"/><stop offset="0.4493" stop-color="#d0fc4f"/><stop offset="0.4577" stop-color="#d0fc4f"/><stop offset="0.4726" stop-color="#d3fc4f"/><stop offset="0.4809" stop-color="#d3fc4f"/><stop offset="0.4958" stop-color="#d5fc50"/><stop offset="0.5042" stop-color="#d5fc50"/><stop offset="0.5191" stop-color="#f9f959"/><stop offset="0.5274" stop-color="#f9f959"/><stop offset="0.5423" stop-color="#e5fb54"/><stop offset="0.5507" stop-color="#e5fb54"/><stop offset="0.5656" stop-color="#d7fc51"/><stop offset="0.5740" stop-color="#d7fc51"/><stop offset="0.5888" stop-color="#d8fc51"/><stop offset="0.5972" stop-color="#d8fc51"/><stop offset="0.6121" stop-color="#d2fc4f"/><stop offset="0.6205" stop-color="#d2fc4f"/><stop offset="0.6353" stop-color="#d2fc4f"/><stop offset="0.6437" stop-color="#d2fc4f"/><stop offset="0.6586" stop-color="#ecfa56"/><stop offset="0.6670" stop-color="#ecfa56"/><stop offset="0.6819" stop-color="#d7fc51"/><stop offset="0.6902" stop-color="#d7fc51"/><stop offset="0.7051" stop-color="#d8fc51"/><stop offset="0.7135" stop-color="#d8fc51"/><stop offset="0.7284" stop-color="#dbfc52"/><stop offset="0.7367" stop-color="#dbfc52"/><stop offset="0.7516" stop-color="#dafc52"/><stop offset="0.7600" stop-color="#dafc52"/><stop offset="0.7749" stop-color="#dafc51"/><stop offset="0.7833" stop-color="#dafc51"/><stop offset="0.7981" stop-color="#dbfc52"/><stop offset="0.8065" stop-color="#dbfc52"/><stop offset="0.8214" stop-color="#dafc52"/><stop offset="0.8298" stop-color="#dafc52"/><stop offset="0.8447" stop-color="#dbfc52"/><stop offset="0.8530" stop-color="#dbfc52"/><stop offset="0.8679" stop-color="#dafc51"/><stop offset="0.8763" stop-color="#dafc51"/><stop offset="0.8912" stop-color="#d9fc51"/><stop offset="0.8995" stop-color="#d9fc51"/><stop offset="0.9144" stop-color="#d5fc50"/><stop offset="0.9228" stop-color="#d5fc50"/><stop offset="0.9377" stop-color="#dcfc52"/><stop offset="0.9460" stop-color="#dcfc52"/><stop offset="0.9609" stop-color="#dcfc52"/><stop offset="0.9693" stop-color="#dcfc52"/><stop offset="0.9842" stop-color="#d7fc51"/><stop offset="0.9926" stop-color="#d7fc51"/></linearGradient>
<linearGradient id="g45" x1="0" y1="0" x2="0" y2="1"><stop offset="0.0074" stop-color="#c6fc4c"/><stop offset="0.0158" stop-color="#c6fc4c"/><stop offset="0.0307" stop-color="#c2fc4b"/><stop offset="0.0391" stop-color="#c2fc4b"/><stop offset="0.0540" stop-color="#c4fc4b"/><stop offset="0.0623" stop-color="#c4fc4b"/><stop offset="0.0772" stop-color="#affb45"/><stop offset="0.0856" stop-color="#affb45"/><stop offset="0.1005" stop-color="#aafa43"/><stop offset="0.1088" stop-color="#aafa43"/><stop offset="0.1237" stop-color="#acfa44"/><stop offset="0.1321" stop-color="#acfa44"/><stop offset="0.1470" stop-color="#adfa44"/><stop offset="0.1553" stop-color="#adfa44"/><stop offset="0.1702" stop-color="#cefc4e"/><stop offset="0.1786" stop-color="#cefc4e"/><stop offset="0.1935" stop-color="#c6fc4c"/><stop offset="0.2019" stop-color="#c6fc4c"/><stop offset="0.2167" stop-color="#c7fc4c"/><stop offset="0.2251" stop-color="#c7fc4c"/><stop offset="0.2400" stop-color="#c9fc4d"/><stop offset="0.2484" stop-color="#c9fc4d"/><stop offset="0.2633" stop-color="#cdfc4e"/><stop offset="0.2716" stop-color="#cdfc4e"/><stop offset="0.2865" stop-color="#cdfc4e"/><stop offset="0.2949" stop-color="#cdfc4e"/><stop offset="0.3098" stop-color="#ddfc52"/><stop offset="0.3181" stop-color="#ddfc52"/><stop offset="0.3330" stop-color="#d1fc4f"/><stop offset="0.3414" stop-color="#d1fc4f"/><stop offset="0.3563" stop-color="#cefc4e"/><stop offset="0.3647" stop-color="#cefc4e"/><stop offset="0.3795" stop-color="#d1fc4f"/><stop offset="0.3879" stop-color="#d1fc4f"/><stop offset="0.4028" stop-color="#d1fc4f"/><stop offset="0.4112" stop-color="#d1fc4f"/><stop offset="0.4260" stop-color="#cafc4d"/><stop offset="0.4344" stop-color="#cafc4d"/><stop offset="0.4493" stop-color="#d1fc4f"/><stop offset="0.4577" stop-color="#d1fc4f"/><stop offset="0.4726" stop-color="#cdfc4e"/><stop offset="0.4809" stop-color="#cdfc4e"/><stop offset="0.4958" stop-color="#cbfc4d"/><stop offset="0.5042" stop-color="#cbfc4d"/><stop offset="0.5191" stop-color="#cdfc4e"/><stop offset="0.5274" stop-color="#cdfc4e"/><stop offset="0.5423" stop-color="#b8fc48"/><stop offset="0.5507" stop-color="#b8fc48"/><stop offset="0.5656" stop-color="#befc4a"/><stop offset="0.5740" stop-color="#befc4a"/><stop offset="0.5888" stop-color="#bcfc49"/><stop offset="0.5972" stop-color="#bcfc49"/><stop offset="0.6121" stop-color="#cbfc4d"/><stop offset="0.6205" stop-color="#cbfc4d"/><stop offset="0.6353" stop-color="#cbfc4d"/><stop offset="0.6437" stop-color="#cbfc4d"/><stop offset="0.6586" stop-color="#cefc4e"/><stop offset="0.6670" stop-color="#cefc4e"/><stop offset="0.6819" stop-color="#d0fc4f"/><stop offset="0.6902" stop-color="#d0fc4f"/><stop offset="0.7051" stop-color="#b6fc47"/><stop offset="0.7135" stop-color="#b6fc47"/><stop offset="0.7284" stop-color="#b5fb47"/><stop offset="0.7367" stop-color="#b5fb47"/><stop offset="0.7516" stop-color="#b7fc48"/><stop offset="0.7600" stop-color="#b7fc48"/><stop offset="0.7749" stop-color="#cefc4e"/><stop offset="0.7833" stop-color="#cefc4e"/><stop offset="0.7981" stop-color="#d0fc4f"/><stop offset="0.8065" stop-color="#d0fc4f"/><stop offset="0.8214" stop-color="#d4fc50"/><stop offset="0.8298" stop-color="#d4fc50"/><stop offset="0.8447" stop-color="#cffc4e"/><stop offset="0.8530" stop-color="#cffc4e"/><stop offset="0.8679" stop-color="#d0fc4f"/><stop offset="0.8763" stop-color="#d0fc4f"/><stop offset="0.8912" stop-color="#d3fc50"/><stop offset="0.8995" stop-color="#d3fc50"/><stop offset="0.9144" stop-color="#cffc4e"/><stop offset="0.9228" stop-color="#cffc4e"/><stop offset="0.9377" stop-color="#cefc4e"/><stop offset="0.9460" stop-color="#cefc4e"/><stop offset="0.9609" stop-color="#cffc4e"/><stop offset="0.9693" stop-color="#cffc4e"/><stop offset="0.9842" stop-color="#e4fb54"/><stop offset="0.9926" stop-color="#e4fb54"/></linearGradient>
</defs>
<text x="366.4" y="15.7" style="font-size:13.2px;fill:#111;stroke:#111;stroke-width:.15px">Log<tspan dy="2.6" style="font-size:8.6px">2</tspan><tspan dy="-2.6"> (TPM)</tspan></text>
<rect x="365.2" y="23.7" width="24.3" height="15.5" fill="#f61614"/>
<rect x="389.2" y="23.7" width="24.3" height="15.5" fill="#ff8416"/>
<rect x="413.3" y="23.7" width="24.3" height="15.5" fill="#ffff30"/>
<rect x="437.4" y="23.7" width="24.3" height="15.5" fill="#b8ff30"/>
<rect x="461.4" y="23.7" width="24.3" height="15.5" fill="#7cf03a"/>
<text x="377.2" y="33.5" text-anchor="middle" style="font-size:8.6px;fill:#1c1c1c;stroke:#1c1c1c;stroke-width:.15px">8</text>
<text x="401.2" y="33.5" text-anchor="middle" style="font-size:8.6px;fill:#1c1c1c;stroke:#1c1c1c;stroke-width:.15px">6</text>
<text x="425.3" y="33.5" text-anchor="middle" style="font-size:8.6px;fill:#1c1c1c;stroke:#1c1c1c;stroke-width:.15px">4</text>
<text x="449.4" y="33.5" text-anchor="middle" style="font-size:8.6px;fill:#1c1c1c;stroke:#1c1c1c;stroke-width:.15px">2</text>
<text x="473.4" y="33.5" text-anchor="middle" style="font-size:8.6px;fill:#1c1c1c;stroke:#1c1c1c;stroke-width:.15px">0</text>
<text class="s" x="145.3" y="34.6" text-anchor="middle">S1</text>
<rect x="132.35" y="42.8" width="32.83" height="9.5" fill="#8DD3C7"/>
<text class="s" x="180.0" y="34.6" text-anchor="middle">S2</text>
<rect x="165.88" y="42.8" width="32.83" height="9.5" fill="#FFFFB3"/>
<text class="s" x="217.7" y="34.6" text-anchor="middle">S3</text>
<rect x="199.42" y="42.8" width="32.83" height="9.5" fill="#BEBADA"/>
<text class="s" x="252.2" y="34.6" text-anchor="middle">S4</text>
<rect x="232.95" y="42.8" width="32.83" height="9.5" fill="#FB8072"/>
<text class="s" x="283.4" y="34.6" text-anchor="middle">S5</text>
<rect x="266.48" y="42.8" width="32.83" height="9.5" fill="#80B1D3"/>
<text class="s" x="318.2" y="34.6" text-anchor="middle">S6</text>
<rect x="300.02" y="42.8" width="32.83" height="9.5" fill="#FDB462"/>
<polygon points="119.2,67.6 131.5,55.2 131.5,130.3 119.2,114.9" fill="#e4e4e4"/>
<polygon points="119.2,130.4 131.5,132.6 131.5,175.0 119.2,177.7" fill="#e4e4e4"/>
<polygon points="119.2,225.7 131.5,177.4 131.5,321.3 119.2,273.0" fill="#e4e4e4"/>
<polygon points="119.2,394.0 131.5,323.3 131.5,511.7 119.2,441.1" fill="#e4e4e4"/>
<polygon points="119.2,542.4 131.5,513.7 131.5,615.6 119.2,589.9" fill="#e4e4e4"/>
<rect x="131.90" y="55.20" width="34.23" height="75.10" fill="url(#g00)"/>
<rect x="165.43" y="55.20" width="34.23" height="75.10" fill="url(#g01)"/>
<rect x="198.97" y="55.20" width="34.23" height="75.10" fill="url(#g02)"/>
<rect x="232.50" y="55.20" width="34.23" height="75.10" fill="url(#g03)"/>
<rect x="266.03" y="55.20" width="34.23" height="75.10" fill="url(#g04)"/>
<rect x="299.57" y="55.20" width="33.63" height="75.10" fill="url(#g05)"/>
<rect x="131.70" y="55.50" width="201.80" height="74.50" fill="none" stroke="#1c1c1c" stroke-width="1.2"/>
<rect x="131.90" y="132.60" width="34.23" height="42.40" fill="url(#g10)"/>
<rect x="165.43" y="132.60" width="34.23" height="42.40" fill="url(#g11)"/>
<rect x="198.97" y="132.60" width="34.23" height="42.40" fill="url(#g12)"/>
<rect x="232.50" y="132.60" width="34.23" height="42.40" fill="url(#g13)"/>
<rect x="266.03" y="132.60" width="34.23" height="42.40" fill="url(#g14)"/>
<rect x="299.57" y="132.60" width="33.63" height="42.40" fill="url(#g15)"/>
<rect x="131.70" y="132.90" width="201.80" height="41.80" fill="none" stroke="#1c1c1c" stroke-width="1.2"/>
<rect x="131.90" y="177.40" width="34.23" height="143.90" fill="url(#g20)"/>
<rect x="165.43" y="177.40" width="34.23" height="143.90" fill="url(#g21)"/>
<rect x="198.97" y="177.40" width="34.23" height="143.90" fill="url(#g22)"/>
<rect x="232.50" y="177.40" width="34.23" height="143.90" fill="url(#g23)"/>
<rect x="266.03" y="177.40" width="34.23" height="143.90" fill="url(#g24)"/>
<rect x="299.57" y="177.40" width="33.63" height="143.90" fill="url(#g25)"/>
<rect x="131.70" y="177.70" width="201.80" height="143.30" fill="none" stroke="#1c1c1c" stroke-width="1.2"/>
<rect x="131.90" y="323.30" width="34.23" height="188.40" fill="url(#g30)"/>
<rect x="165.43" y="323.30" width="34.23" height="188.40" fill="url(#g31)"/>
<rect x="198.97" y="323.30" width="34.23" height="188.40" fill="url(#g32)"/>
<rect x="232.50" y="323.30" width="34.23" height="188.40" fill="url(#g33)"/>
<rect x="266.03" y="323.30" width="34.23" height="188.40" fill="url(#g34)"/>
<rect x="299.57" y="323.30" width="33.63" height="188.40" fill="url(#g35)"/>
<rect x="131.70" y="323.60" width="201.80" height="187.80" fill="none" stroke="#1c1c1c" stroke-width="1.2"/>
<rect x="131.90" y="513.70" width="34.23" height="101.90" fill="url(#g40)"/>
<rect x="165.43" y="513.70" width="34.23" height="101.90" fill="url(#g41)"/>
<rect x="198.97" y="513.70" width="34.23" height="101.90" fill="url(#g42)"/>
<rect x="232.50" y="513.70" width="34.23" height="101.90" fill="url(#g43)"/>
<rect x="266.03" y="513.70" width="34.23" height="101.90" fill="url(#g44)"/>
<rect x="299.57" y="513.70" width="33.63" height="101.90" fill="url(#g45)"/>
<rect x="131.70" y="514.00" width="201.80" height="101.30" fill="none" stroke="#1c1c1c" stroke-width="1.2"/>
<rect x="336.3" y="55.20" width="12.4" height="75.10" fill="#F39B7F"/>
<polygon points="349.0,55.2 359.2,77.5 359.2,109.0 349.0,130.3" fill="#f1f1f1"/>
<polyline points="359.2,77.5 349.2,55.5 349.2,130.0 359.2,109.0" fill="none" stroke="#6a6a6a" stroke-width=".75"/>
<rect x="359.8" y="51.4" width="187.0" height="77.9" fill="#efefef"/>
<text class="g" x="370.0" y="63.70">ABC10, ABCB1, ABCG43, ABCG48, ABCI1,</text>
<text class="g" x="370.0" y="73.37">AGP16, CDPK1, CP1, CSLA9, CSLC12,</text>
<text class="g" x="370.0" y="83.04">EXPA7, EXPB16, EXPB8, FLA10, GAE3,</text>
<text class="g" x="370.0" y="92.71">IRX10, IRX9, MUR3, PL12, PME34, PME51,</text>
<text class="g" x="370.0" y="102.38">PMEI7, PRP-F1, QUA1, QUA2, QUA3,</text>
<text class="g" x="370.0" y="112.05">RABA5a, SYP132, SYP51, XTH27, XTH32,</text>
<text class="g" x="370.0" y="121.72">XTH8</text>
<rect x="336.3" y="132.60" width="12.4" height="42.40" fill="#3C5488"/>
<polygon points="349.0,132.6 359.2,136.0 359.2,172.0 349.0,175.0" fill="#f1f1f1"/>
<polyline points="359.2,136.0 349.2,132.9 349.2,174.7 359.2,172.0" fill="none" stroke="#6a6a6a" stroke-width=".75"/>
<rect x="361.7" y="131.0" width="185.1" height="48.5" fill="#efefef"/>
<text class="g" x="371.0" y="143.50">ABCB20, ABCB21, ABCG3, ABCG5, AVP1,</text>
<text class="g" x="371.0" y="153.17">CAM3, COBL2, ENODL93, EXPA2, EXPLA2,</text>
<text class="g" x="371.0" y="162.84">GAUTL3, NIP3, NIP6, P5CR, P5CS, PME61,</text>
<text class="g" x="371.0" y="172.51">TIP4, UGE1</text>
<rect x="336.3" y="177.40" width="12.4" height="143.90" fill="#00A087"/>
<polygon points="349.0,177.4 359.2,215.3 359.2,282.5 349.0,321.3" fill="#f1f1f1"/>
<polyline points="359.2,215.3 349.2,177.7 349.2,321.0 359.2,282.5" fill="none" stroke="#6a6a6a" stroke-width=".75"/>
<rect x="361.7" y="190.1" width="185.1" height="127.2" fill="#efefef"/>
<text class="g" x="371.0" y="203.20">ABCB11, ABCB2, ABCG11, ABCG31,</text>
<text class="g" x="371.0" y="212.90">AGD12, AGD5, AGD7, ARL2, BXL6, BXL7,</text>
<text class="g" x="371.0" y="222.60">CAMK1, CBL1, CBL2, CBP25, CBP60A,</text>
<text class="g" x="371.0" y="232.30">CBP60D, CDPK13, CDPK24, CDPK4,</text>
<text class="g" x="371.0" y="242.00">CESA1, CML13, CML46, CSLC8, CSLD2,</text>
<text class="g" x="371.0" y="251.70">CSLG2, EXPA1, EXPA10, EXPB6, FLA11,</text>
<text class="g" x="371.0" y="261.40">FLA7, GAE1, GAUT13, GAUT14, GUX2, KIC,</text>
<text class="g" x="371.0" y="271.10">LLG1, LRX2, LRX4, LRX7, PME68, PML3,</text>
<text class="g" x="371.0" y="280.80">PRP6, RABH1b, RABH1e, RHM1, SEC12,</text>
<text class="g" x="371.0" y="290.50">SEC15B, SEC24, SEC3B, SIP1, SLY1,</text>
<text class="g" x="371.0" y="300.20">SYP111, SYP121, SYP41, UXS1, VHA-A1,</text>
<text class="g" x="371.0" y="309.90">VHA-C, XAT3, XTH28, XTH7, XXT5</text>
<rect x="336.3" y="323.30" width="12.4" height="188.40" fill="#E64B35"/>
<polygon points="349.0,323.3 359.2,378.0 359.2,457.6 349.0,511.7" fill="#f1f1f1"/>
<polyline points="359.2,378.0 349.2,323.6 349.2,511.4 359.2,457.6" fill="none" stroke="#6a6a6a" stroke-width=".75"/>
<rect x="361.7" y="337.4" width="185.1" height="166.2" fill="#efefef"/>
<text class="g" x="371.0" y="350.00">ABC2, AGD2, AGD3, ARF1, ARF2, ARL8A,</text>
<text class="g" x="371.0" y="359.72">ARL8B, BC10, CAM1, CBL7, CDPK10,</text>
<text class="g" x="371.0" y="369.44">CDPK20, CESA2, CESA6, CGR3, CML15,</text>
<text class="g" x="371.0" y="379.16">CML18, CML2, CML27, CML6, CML7,</text>
<text class="g" x="371.0" y="388.88">COBL3, CSI1, EXO5, EXO70B1, EXO84B,</text>
<text class="g" x="371.0" y="398.60">EXO84C, FLA1, FLA17, FLA2, FLA9, GAE6,</text>
<text class="g" x="371.0" y="408.32">GAUT10, GAUT7, GAUT9, GAUTL1,</text>
<text class="g" x="371.0" y="418.04">GAUTL7, IRX10L, IRX14, IRX15, IRX7, LRX6,</text>
<text class="g" x="371.0" y="427.76">MUM5, PARVUS, PIP2, PL15, PME41,</text>
<text class="g" x="371.0" y="437.48">PMEI9, RABA1f, RABA2a, RABA2c, RABA5d,</text>
<text class="g" x="371.0" y="447.20">RABB1c, RABE1a, RABE1c, RABF1, RHM2,</text>
<text class="g" x="371.0" y="456.92">SIP2, SYP32, SYP61, SYP71, UAXS2, UGE2,</text>
<text class="g" x="371.0" y="466.64">UXS4, UXS5, UXS6, UXT1, UXT3, VHA-A,</text>
<text class="g" x="371.0" y="476.36">VHA-A3, VHA-B1, VHA-C1, VHA-D, VHA-D2,</text>
<text class="g" x="371.0" y="486.08">VHA-E1, VHA-E3, VHA-F, VHA-G1, XAT2,</text>
<text class="g" x="371.0" y="495.80">XXT2</text>
<rect x="336.3" y="513.70" width="12.4" height="101.90" fill="#4DBBD5"/>
<polygon points="349.0,513.7 359.2,542.2 359.2,587.0 349.0,615.6" fill="#f1f1f1"/>
<polyline points="359.2,542.2 349.2,514.0 349.2,615.3 359.2,587.0" fill="none" stroke="#6a6a6a" stroke-width=".75"/>
<rect x="361.7" y="515.4" width="185.1" height="97.2" fill="#efefef"/>
<text class="g" x="371.0" y="527.60">ABCA7, ABCB4, ABCB9, ABCG1, ABCG15,</text>
<text class="g" x="371.0" y="537.34">ABCG16, ABCG22, ABCG36, ABCG39,</text>
<text class="g" x="371.0" y="547.08">ABCG45, ABCG8, AGP20, ASD1, ASD2,</text>
<text class="g" x="371.0" y="556.82">CBL9, CBP60C, CDPK28, CML11, CML14,</text>
<text class="g" x="371.0" y="566.56">CML21, CML3, CML35, CML5, COBL5,</text>
<text class="g" x="371.0" y="576.30">CSLA3, CSLA7, CSLG3, EXO70A1,</text>
<text class="g" x="371.0" y="586.04">EXO70E2, EXO70H1, EXPB7, FLA6, KRP1,</text>
<text class="g" x="371.0" y="595.78">MUR2, PBP1, PIP1, PL20, RABA3, RRT1,</text>
<text class="g" x="371.0" y="605.52">STL2, TIP2, XAX1, XTH30</text>
<rect x="34.8" y="67.6" width="82.6" height="47.3" fill="#fff" stroke="#2c2c2c" stroke-width="1.15"/>
<text class="t" x="74.0" y="62.0" text-anchor="middle">Gene Number: 32</text>
<g class="bx"><line x1="41.4" y1="84.3" x2="41.4" y2="95.1"/><line x1="37.6" y1="84.3" x2="45.1" y2="84.3"/><line x1="37.6" y1="95.1" x2="45.1" y2="95.1"/><rect x="37.9" y="86.8" width="6.9" height="5.0" fill="#8DD3C7"/><line x1="38.4" y1="89.3" x2="44.4" y2="89.3" stroke="#e4e4e4" stroke-width=".8"/></g>
<g class="bx"><line x1="55.2" y1="73.7" x2="55.2" y2="80.4"/><line x1="51.5" y1="73.7" x2="59.0" y2="73.7"/><line x1="51.5" y1="80.4" x2="59.0" y2="80.4"/><rect x="51.8" y="75.4" width="6.9" height="2.7" fill="#b1b198"/><line x1="51.8" y1="76.7" x2="58.7" y2="76.7"/></g>
<g class="bx"><line x1="68.9" y1="83.4" x2="68.9" y2="95.1"/><line x1="65.2" y1="83.4" x2="72.7" y2="83.4"/><line x1="65.2" y1="95.1" x2="72.7" y2="95.1"/><rect x="65.5" y="85.6" width="6.9" height="4.9" fill="#BEBADA"/><line x1="66.0" y1="88.0" x2="71.9" y2="88.0" stroke="#e4e4e4" stroke-width=".8"/></g>
<g class="bx"><line x1="82.8" y1="94.6" x2="82.8" y2="101.2"/><line x1="79.0" y1="94.6" x2="86.5" y2="94.6"/><line x1="79.0" y1="101.2" x2="86.5" y2="101.2"/><rect x="79.3" y="97.3" width="6.9" height="3.2" fill="#c4867f"/><line x1="79.3" y1="99.0" x2="86.2" y2="99.0"/></g>
<g class="bx"><line x1="96.7" y1="97.7" x2="96.7" y2="102.4"/><line x1="93.0" y1="97.7" x2="100.5" y2="97.7"/><line x1="93.0" y1="102.4" x2="100.5" y2="102.4"/><rect x="93.2" y="98.5" width="6.9" height="3.3" fill="#869eb0"/><line x1="93.2" y1="100.2" x2="100.2" y2="100.2"/></g>
<g class="bx"><line x1="110.6" y1="98.5" x2="110.6" y2="105.5"/><line x1="106.8" y1="98.5" x2="114.3" y2="98.5"/><line x1="106.8" y1="105.5" x2="114.3" y2="105.5"/><rect x="107.1" y="100.2" width="6.9" height="3.3" fill="#c4a077"/><line x1="107.1" y1="102.2" x2="114.0" y2="102.2"/></g>
<rect x="34.8" y="130.4" width="82.6" height="47.3" fill="#fff" stroke="#2c2c2c" stroke-width="1.15"/>
<text class="t" x="72.8" y="125.6" text-anchor="middle">Gene Number: 18</text>
<g class="bx"><line x1="41.4" y1="148.4" x2="41.4" y2="165.2"/><line x1="37.6" y1="148.4" x2="45.1" y2="148.4"/><line x1="37.6" y1="165.2" x2="45.1" y2="165.2"/><rect x="37.9" y="155.1" width="6.9" height="6.7" fill="#8DD3C7"/><line x1="38.4" y1="158.1" x2="44.4" y2="158.1" stroke="#e4e4e4" stroke-width=".8"/></g>
<g class="bx"><line x1="55.2" y1="141.4" x2="55.2" y2="156.5"/><line x1="51.5" y1="141.4" x2="59.0" y2="141.4"/><line x1="51.5" y1="156.5" x2="59.0" y2="156.5"/><rect x="51.8" y="144.4" width="6.9" height="6.2" fill="#FFFFB3"/><line x1="52.2" y1="147.3" x2="58.2" y2="147.3" stroke="#e4e4e4" stroke-width=".8"/></g>
<g class="bx"><line x1="68.9" y1="136.4" x2="68.9" y2="146.8"/><line x1="65.2" y1="136.4" x2="72.7" y2="136.4"/><line x1="65.2" y1="146.8" x2="72.7" y2="146.8"/><rect x="65.5" y="139.7" width="6.9" height="4.7" fill="#BEBADA"/><line x1="66.0" y1="143.0" x2="71.9" y2="143.0" stroke="#e4e4e4" stroke-width=".8"/></g>
<g class="bx"><line x1="82.8" y1="153.6" x2="82.8" y2="164.3"/><line x1="79.0" y1="153.6" x2="86.5" y2="153.6"/><line x1="79.0" y1="164.3" x2="86.5" y2="164.3"/><rect x="79.3" y="157.3" width="6.9" height="5.5" fill="#FB8072"/><line x1="79.8" y1="159.8" x2="85.8" y2="159.8" stroke="#e4e4e4" stroke-width=".8"/></g>
<g class="bx"><line x1="96.7" y1="155.3" x2="96.7" y2="164.4"/><line x1="93.0" y1="155.3" x2="100.5" y2="155.3"/><line x1="93.0" y1="164.4" x2="100.5" y2="164.4"/><rect x="93.2" y="159.8" width="6.9" height="3.9" fill="#80B1D3"/><line x1="93.8" y1="161.5" x2="99.7" y2="161.5" stroke="#e4e4e4" stroke-width=".8"/></g>
<g class="bx"><line x1="110.6" y1="159.3" x2="110.6" y2="166.5"/><line x1="106.8" y1="159.3" x2="114.3" y2="159.3"/><line x1="106.8" y1="166.5" x2="114.3" y2="166.5"/><rect x="107.1" y="161.8" width="6.9" height="3.4" fill="#c4a077"/><line x1="107.1" y1="163.6" x2="114.0" y2="163.6"/></g>
<rect x="34.8" y="225.7" width="82.6" height="47.3" fill="#fff" stroke="#2c2c2c" stroke-width="1.15"/>
<text class="t" x="72.8" y="218.2" text-anchor="middle">Gene Number: 61</text>
<g class="bx"><line x1="41.4" y1="231.8" x2="41.4" y2="239.0"/><line x1="37.6" y1="231.8" x2="45.1" y2="231.8"/><line x1="37.6" y1="239.0" x2="45.1" y2="239.0"/><rect x="37.9" y="232.9" width="6.9" height="3.5" fill="#8db7af"/><line x1="37.9" y1="234.6" x2="44.9" y2="234.6"/></g>
<g class="bx"><line x1="55.2" y1="236.3" x2="55.2" y2="248.5"/><line x1="51.5" y1="236.3" x2="59.0" y2="236.3"/><line x1="51.5" y1="248.5" x2="59.0" y2="248.5"/><rect x="51.8" y="241.3" width="6.9" height="3.8" fill="#d1d1a3"/><line x1="52.2" y1="243.2" x2="58.2" y2="243.2" stroke="#e4e4e4" stroke-width=".8"/></g>
<g class="bx"><line x1="68.9" y1="245.1" x2="68.9" y2="256.9"/><line x1="65.2" y1="245.1" x2="72.7" y2="245.1"/><line x1="65.2" y1="256.9" x2="72.7" y2="256.9"/><rect x="65.5" y="249.3" width="6.9" height="4.2" fill="#BEBADA"/><line x1="66.0" y1="251.4" x2="71.9" y2="251.4" stroke="#e4e4e4" stroke-width=".8"/></g>
<g class="bx"><line x1="82.8" y1="254.3" x2="82.8" y2="259.1"/><line x1="79.0" y1="254.3" x2="86.5" y2="254.3"/><line x1="79.0" y1="259.1" x2="86.5" y2="259.1"/><rect x="79.3" y="255.7" width="6.9" height="2.8" fill="#b08884"/><line x1="79.3" y1="257.1" x2="86.2" y2="257.1"/></g>
<g class="bx"><line x1="96.7" y1="255.2" x2="96.7" y2="260.3"/><line x1="93.0" y1="255.2" x2="100.5" y2="255.2"/><line x1="93.0" y1="260.3" x2="100.5" y2="260.3"/><rect x="93.2" y="256.0" width="6.9" height="3.7" fill="#85a2b7"/><line x1="93.8" y1="257.8" x2="99.7" y2="257.8" stroke="#e4e4e4" stroke-width=".8"/></g>
<g class="bx"><line x1="110.6" y1="255.2" x2="110.6" y2="263.0"/><line x1="106.8" y1="255.2" x2="114.3" y2="255.2"/><line x1="106.8" y1="263.0" x2="114.3" y2="263.0"/><rect x="107.1" y="257.7" width="6.9" height="3.0" fill="#c4a077"/><line x1="107.1" y1="259.4" x2="114.0" y2="259.4"/></g>
<rect x="34.8" y="394.0" width="82.6" height="47.1" fill="#fff" stroke="#2c2c2c" stroke-width="1.15"/>
<text class="t" x="72.8" y="386.6" text-anchor="middle">Gene Number: 80</text>
<g class="bx"><line x1="41.4" y1="405.1" x2="41.4" y2="413.1"/><line x1="37.6" y1="405.1" x2="45.1" y2="405.1"/><line x1="37.6" y1="413.1" x2="45.1" y2="413.1"/><rect x="37.9" y="407.0" width="6.9" height="3.1" fill="#8cb0aa"/><line x1="37.9" y1="408.5" x2="44.9" y2="408.5"/></g>
<g class="bx"><line x1="55.2" y1="404.3" x2="55.2" y2="413.6"/><line x1="51.5" y1="404.3" x2="59.0" y2="404.3"/><line x1="51.5" y1="413.6" x2="59.0" y2="413.6"/><rect x="51.8" y="407.0" width="6.9" height="3.1" fill="#c6c6a0"/><line x1="51.8" y1="408.5" x2="58.7" y2="408.5"/></g>
<g class="bx"><line x1="68.9" y1="408.5" x2="68.9" y2="419.3"/><line x1="65.2" y1="408.5" x2="72.7" y2="408.5"/><line x1="65.2" y1="419.3" x2="72.7" y2="419.3"/><rect x="65.5" y="412.0" width="6.9" height="4.2" fill="#BEBADA"/><line x1="66.0" y1="414.1" x2="71.9" y2="414.1" stroke="#e4e4e4" stroke-width=".8"/></g>
<g class="bx"><line x1="82.8" y1="422.3" x2="82.8" y2="429.4"/><line x1="79.0" y1="422.3" x2="86.5" y2="422.3"/><line x1="79.0" y1="429.4" x2="86.5" y2="429.4"/><rect x="79.3" y="424.4" width="6.9" height="2.6" fill="#b08884"/><line x1="79.3" y1="425.7" x2="86.2" y2="425.7"/></g>
<g class="bx"><line x1="96.7" y1="424.9" x2="96.7" y2="429.5"/><line x1="93.0" y1="424.9" x2="100.5" y2="424.9"/><line x1="93.0" y1="429.5" x2="100.5" y2="429.5"/><rect x="93.2" y="426.0" width="6.9" height="2.7" fill="#8898a3"/><line x1="93.2" y1="427.3" x2="100.2" y2="427.3"/></g>
<g class="bx"><line x1="110.6" y1="424.4" x2="110.6" y2="434.0"/><line x1="106.8" y1="424.4" x2="114.3" y2="424.4"/><line x1="106.8" y1="434.0" x2="114.3" y2="434.0"/><rect x="107.1" y="427.7" width="6.9" height="3.0" fill="#c4a077"/><line x1="107.1" y1="429.2" x2="114.0" y2="429.2"/></g>
<rect x="34.8" y="542.4" width="82.6" height="47.5" fill="#fff" stroke="#2c2c2c" stroke-width="1.15"/>
<text class="t" x="72.8" y="535.6" text-anchor="middle">Gene Number: 43</text>
<g class="bx"><line x1="41.4" y1="547.4" x2="41.4" y2="549.9"/><line x1="37.6" y1="547.4" x2="45.1" y2="547.4"/><line x1="37.6" y1="549.9" x2="45.1" y2="549.9"/><rect x="37.9" y="547.4" width="6.9" height="2.5" fill="#8ca39f"/><line x1="37.9" y1="548.6" x2="44.9" y2="548.6"/></g>
<g class="bx"><line x1="55.2" y1="563.0" x2="55.2" y2="575.0"/><line x1="51.5" y1="563.0" x2="59.0" y2="563.0"/><line x1="51.5" y1="575.0" x2="59.0" y2="575.0"/><rect x="51.8" y="565.5" width="6.9" height="5.0" fill="#FFFFB3"/><line x1="52.2" y1="568.0" x2="58.2" y2="568.0" stroke="#e4e4e4" stroke-width=".8"/></g>
<g class="bx"><line x1="68.9" y1="567.5" x2="68.9" y2="574.4"/><line x1="65.2" y1="567.5" x2="72.7" y2="567.5"/><line x1="65.2" y1="574.4" x2="72.7" y2="574.4"/><rect x="65.5" y="569.7" width="6.9" height="2.5" fill="#9c9ba5"/><line x1="65.5" y1="571.0" x2="72.4" y2="571.0"/></g>
<g class="bx"><line x1="82.8" y1="569.7" x2="82.8" y2="574.0"/><line x1="79.0" y1="569.7" x2="86.5" y2="569.7"/><line x1="79.0" y1="574.0" x2="86.5" y2="574.0"/><rect x="79.3" y="571.0" width="6.9" height="2.5" fill="#b08884"/><line x1="79.3" y1="572.2" x2="86.2" y2="572.2"/></g>
<g class="bx"><line x1="96.7" y1="569.7" x2="96.7" y2="575.5"/><line x1="93.0" y1="569.7" x2="100.5" y2="569.7"/><line x1="93.0" y1="575.5" x2="100.5" y2="575.5"/><rect x="93.2" y="571.7" width="6.9" height="2.7" fill="#8898a3"/><line x1="93.2" y1="573.0" x2="100.2" y2="573.0"/></g>
<g class="bx"><line x1="110.6" y1="570.0" x2="110.6" y2="576.4"/><line x1="106.8" y1="570.0" x2="114.3" y2="570.0"/><line x1="106.8" y1="576.4" x2="114.3" y2="576.4"/><rect x="107.1" y="572.2" width="6.9" height="3.0" fill="#c4a077"/><line x1="107.1" y1="573.7" x2="114.0" y2="573.7"/></g>
<line x1="18.1" y1="67.5" x2="18.1" y2="568" stroke="#a6a6a6" stroke-width=".8" stroke-dasharray="1.1 1.25"/>
<path d="M29.1 66.9H33.7M29.1 74.0H32.2M29.1 66.9V74.0M27.6 70.5H29.1M27.6 92.3H30.3M27.6 70.5V92.3M29.0 106.8H32.8M29.0 115.3H31.3M29.0 106.8V115.3M27.6 139.7H32.8M27.6 144.4H34.2M27.6 139.7V144.4M29.0 150.6H32.9M29.0 161.8H32.0M29.0 150.6V161.8M26.8 156.2H29.0M26.8 172.1H30.7M26.8 156.2V172.1M29.1 184.5H31.0M29.1 199.8H31.9M29.1 184.5V199.8M28.4 218.5H30.4M28.4 240.8H29.8M28.4 218.5V240.8M27.6 192.1H29.1M27.6 229.7H28.4M27.6 192.1V229.7M28.4 256.1H30.1M28.4 273.2H31.5M28.4 256.1V273.2M29.4 311.9H32.6M29.4 318.4H33.5M29.4 311.9V318.4M28.2 283.4H31.3M28.2 299.9H30.5M28.2 283.4V299.9M26.8 291.7H28.2M26.8 315.1H29.4M26.8 291.7V315.1M29.2 353.9H29.9M29.2 384.0H30.5M29.2 353.9V384.0M28.4 369.0H29.2M28.4 403.4H31.5M28.4 369.0V403.4M29.3 434.0H32.0M29.3 448.9H31.5M29.3 434.0V448.9M28.6 417.2H30.5M28.6 441.4H29.3M28.6 417.2V441.4M27.8 429.3H28.6M27.8 465.9H29.9M27.8 429.3V465.9M28.2 489.0H29.9M28.2 508.8H32.2M28.2 489.0V508.8M28.9 533.4H31.1M28.9 552.4H29.7M28.9 533.4V552.4M28.0 542.9H28.9M28.0 576.4H30.4M28.0 542.9V576.4M28.0 111.1V126.5M28.0 111.1H29.0M28.0 126.5H30.4M26.9 81.4V104.0M26.9 81.4H27.6M26.9 104.0H28.0M26.3 59.0V100.7M26.3 59.0H29.5M26.3 100.7H26.9M26.3 59.4V100.7M26.9 76.0V100.0M27.5 84.0V98.0M24.0 142.0V164.1M24.0 142.0H27.6M24.0 164.1H26.8M19.1 135.4V146.7M19.1 135.4H31.0M19.1 146.7H24.0M14.4 79.6V141.0M14.4 79.6H26.3M14.4 141.0H19.1M25.4 210.9V303.4M25.4 210.9H27.6M25.4 264.6H28.4M25.4 303.4H26.8M25.4 213.0V297.0M26.1 283.0V300.0M27.0 333.9V447.6M27.0 333.9H30.0M27.0 386.2H28.4M27.0 447.6H27.8M24.3 411.5V500.7M24.3 411.5H27.0M24.3 500.7H28.2M28.2 498.9V500.7M27.6 380.0V478.0M28.3 395.0V470.0M16.2 255.3V456.0M16.2 255.3H25.4M16.2 456.0H24.3M27.6 521.3V596.5M27.6 521.3H29.6M27.6 559.6H28.0M27.6 596.5H30.2M27.6 529.0V586.0M28.4 540.0V600.0M13.0 355.5V557.4M13.0 355.5H16.2M13.0 557.4H27.6M9.4 110.7V456.0M9.4 110.7H14.4M9.4 456.0H13.0" fill="none" stroke="#080808" stroke-width=".9"/>
<path d="M34.2 58.7H34.4M34.2 61.1H34.4M34.2 58.7V61.1M33.3 59.9H34.2M33.3 63.4H34.4M33.3 59.9V63.4M29.5 56.4H34.4M29.5 61.7H33.3M29.5 56.4V61.7M34.2 93.9H34.4M34.2 96.3H34.4M34.2 93.9V96.3M34.0 86.9H34.4M34.0 89.2H34.4M34.0 86.9V89.2M33.8 95.1H34.2M33.8 98.6H34.4M33.8 95.1V98.6M34.0 70.5H34.4M34.0 72.8H34.4M34.0 70.5V72.8M34.2 75.1H34.4M34.2 77.5H34.4M34.2 75.1V77.5M34.1 82.2H34.4M34.1 84.5H34.4M34.1 82.2V84.5M33.9 79.8H34.4M33.9 83.4H34.1M33.9 79.8V83.4M33.7 65.8H34.4M33.7 68.1H34.4M33.7 65.8V68.1M33.3 96.9H33.8M33.3 101.0H34.4M33.3 96.9V101.0M32.8 88.1H34.0M32.8 91.6H34.4M32.8 88.1V91.6M32.2 71.6H34.0M32.2 76.3H34.2M32.2 71.6V76.3M31.4 81.6H33.9M31.4 89.8H32.8M31.4 81.6V89.8M30.3 85.7H31.4M30.3 98.9H33.3M30.3 85.7V98.9M34.2 108.0H34.4M34.2 110.4H34.4M34.2 108.0V110.4M34.1 103.3H34.4M34.1 105.7H34.4M34.1 103.3V105.7M34.1 115.0H34.4M34.1 117.4H34.4M34.1 115.0V117.4M33.7 116.2H34.1M33.7 119.7H34.4M33.7 116.2V119.7M32.8 104.5H34.1M32.8 109.2H34.2M32.8 104.5V109.2M31.3 112.7H34.4M31.3 118.0H33.7M31.3 112.7V118.0M34.2 124.4H34.4M34.2 126.8H34.4M34.2 124.4V126.8M33.5 122.1H34.4M33.5 125.6H34.2M33.5 122.1V125.6M30.4 123.8H33.5M30.4 129.1H34.4M30.4 123.8V129.1M31.0 133.8H34.4M31.0 136.1H34.4M31.0 133.8V136.1M34.2 143.2H34.4M34.2 145.6H34.4M34.2 143.2V145.6M32.8 138.5H34.4M32.8 140.8H34.4M32.8 138.5V140.8M33.9 150.3H34.4M33.9 152.6H34.4M33.9 150.3V152.6M34.0 162.0H34.4M34.0 164.4H34.4M34.0 162.0V164.4M33.5 163.2H34.0M33.5 166.8H34.4M33.5 163.2V166.8M34.2 157.3H34.4M34.2 159.7H34.4M34.2 157.3V159.7M33.6 151.4H33.9M33.6 155.0H34.4M33.6 151.4V155.0M33.5 169.1H34.4M33.5 171.5H34.4M33.5 169.1V171.5M32.9 147.9H34.4M32.9 153.2H33.6M32.9 147.9V153.2M32.0 158.5H34.2M32.0 165.0H33.5M32.0 158.5V165.0M30.7 170.3H33.5M30.7 173.8H34.4M30.7 170.3V173.8M33.9 221.0H34.4M33.9 223.4H34.4M33.9 221.0V223.4M34.2 216.3H34.4M34.2 218.7H34.4M34.2 216.3V218.7M34.1 202.2H34.4M34.1 204.5H34.4M34.1 202.2V204.5M34.1 209.2H34.4M34.1 211.6H34.4M34.1 209.2V211.6M33.9 197.5H34.4M33.9 199.8H34.4M33.9 197.5V199.8M34.0 192.7H34.4M34.0 195.1H34.4M34.0 192.7V195.1M34.2 188.0H34.4M34.2 190.4H34.4M34.2 188.0V190.4M34.2 178.6H34.4M34.2 180.9H34.4M34.2 178.6V180.9M34.1 232.8H34.4M34.1 235.2H34.4M34.1 232.8V235.2M33.9 242.3H34.4M33.9 244.6H34.4M33.9 242.3V244.6M34.0 228.1H34.4M34.0 230.5H34.4M34.0 228.1V230.5M33.9 179.8H34.2M33.9 183.3H34.4M33.9 179.8V183.3M33.8 225.8H34.4M33.8 229.3H34.0M33.8 225.8V229.3M33.9 237.6H34.4M33.9 239.9H34.4M33.9 237.6V239.9M33.8 214.0H34.4M33.8 217.5H34.2M33.8 214.0V217.5M33.6 206.9H34.4M33.6 210.4H34.1M33.6 206.9V210.4M33.4 193.9H34.0M33.4 198.6H33.9M33.4 193.9V198.6M33.2 185.7H34.4M33.2 189.2H34.2M33.2 185.7V189.2M32.9 243.5H33.9M32.9 247.0H34.4M32.9 243.5V247.0M32.6 208.7H33.6M32.6 215.7H33.8M32.6 208.7V215.7M32.3 222.2H33.9M32.3 227.5H33.8M32.3 222.2V227.5M31.9 196.3H33.4M31.9 203.3H34.1M31.9 196.3V203.3M31.4 234.0H34.1M31.4 238.7H33.9M31.4 234.0V238.7M31.0 181.5H33.9M31.0 187.4H33.2M31.0 181.5V187.4M30.4 212.2H32.6M30.4 224.9H32.3M30.4 212.2V224.9M29.8 236.4H31.4M29.8 245.2H32.9M29.8 236.4V245.2M34.2 261.1H34.4M34.2 263.5H34.4M34.2 261.1V263.5M33.7 258.8H34.4M33.7 262.3H34.2M33.7 258.8V262.3M34.0 249.4H34.4M34.0 251.7H34.4M34.0 249.4V251.7M34.2 268.2H34.4M34.2 270.6H34.4M34.2 268.2V270.6M33.8 269.4H34.2M33.8 272.9H34.4M33.8 269.4V272.9M33.2 260.6H33.7M33.2 265.9H34.4M33.2 260.6V265.9M33.2 250.5H34.0M33.2 254.1H34.4M33.2 250.5V254.1M32.5 256.4H34.4M32.5 263.2H33.2M32.5 256.4V263.2M31.5 271.2H33.8M31.5 275.3H34.4M31.5 271.2V275.3M30.1 252.3H33.2M30.1 259.8H32.5M30.1 252.3V259.8M34.1 282.4H34.4M34.1 284.7H34.4M34.1 282.4V284.7M34.0 315.4H34.4M34.0 317.8H34.4M34.0 315.4V317.8M34.0 289.5H34.4M34.0 291.8H34.4M34.0 289.5V291.8M34.0 303.6H34.4M34.0 306.0H34.4M34.0 303.6V306.0M34.1 296.5H34.4M34.1 298.9H34.4M34.1 296.5V298.9M33.5 304.8H34.0M33.5 308.3H34.4M33.5 304.8V308.3M33.8 283.6H34.1M33.8 287.1H34.4M33.8 283.6V287.1M33.5 316.6H34.0M33.5 320.1H34.4M33.5 316.6V320.1M33.8 294.2H34.4M33.8 297.7H34.1M33.8 294.2V297.7M33.5 277.7H34.4M33.5 280.0H34.4M33.5 277.7V280.0M33.1 285.3H33.8M33.1 290.6H34.0M33.1 285.3V290.6M32.6 310.7H34.4M32.6 313.0H34.4M32.6 310.7V313.0M32.0 301.2H34.4M32.0 306.6H33.5M32.0 301.2V306.6M31.3 278.8H33.5M31.3 288.0H33.1M31.3 278.8V288.0M30.5 295.9H33.8M30.5 303.9H32.0M30.5 295.9V303.9M34.2 336.3H34.4M34.2 338.6H34.4M34.2 336.3V338.6M34.1 341.0H34.4M34.1 343.3H34.4M34.1 341.0V343.3M34.2 326.8H34.4M34.2 329.2H34.4M34.2 326.8V329.2M33.8 324.5H34.4M33.8 328.0H34.2M33.8 324.5V328.0M33.3 326.2H33.8M33.3 331.5H34.4M33.3 326.2V331.5M32.8 333.9H34.4M32.8 337.4H34.2M32.8 333.9V337.4M31.7 335.7H32.8M31.7 342.1H34.1M31.7 335.7V342.1M30.0 328.9H33.3M30.0 338.9H31.7M30.0 328.9V338.9M34.1 381.0H34.4M34.1 383.4H34.4M34.1 381.0V383.4M34.2 390.4H34.4M34.2 392.8H34.4M34.2 390.4V392.8M34.0 404.5H34.4M34.0 406.9H34.4M34.0 404.5V406.9M34.2 359.8H34.4M34.2 362.2H34.4M34.2 359.8V362.2M33.9 399.8H34.4M33.9 402.2H34.4M33.9 399.8V402.2M34.2 348.0H34.4M34.2 350.4H34.4M34.2 348.0V350.4M33.9 352.7H34.4M33.9 355.1H34.4M33.9 352.7V355.1M33.8 391.6H34.2M33.8 395.1H34.4M33.8 391.6V395.1M34.1 373.9H34.4M34.1 376.3H34.4M34.1 373.9V376.3M34.1 364.5H34.4M34.1 366.9H34.4M34.1 364.5V366.9M33.9 378.6H34.4M33.9 382.2H34.1M33.9 378.6V382.2M34.1 369.2H34.4M34.1 371.6H34.4M34.1 369.2V371.6M33.7 365.7H34.1M33.7 370.4H34.1M33.7 365.7V370.4M33.4 368.0H33.7M33.4 375.1H34.1M33.4 368.0V375.1M33.7 349.2H34.2M33.7 353.9H33.9M33.7 349.2V353.9M33.5 380.4H33.9M33.5 385.7H34.4M33.5 380.4V385.7M33.3 397.5H34.4M33.3 401.0H33.9M33.3 397.5V401.0M33.0 388.1H34.4M33.0 393.4H33.8M33.0 388.1V393.4M32.7 405.7H34.0M32.7 409.3H34.4M32.7 405.7V409.3M32.4 357.4H34.4M32.4 361.0H34.2M32.4 357.4V361.0M32.0 371.6H33.4M32.0 383.1H33.5M32.0 371.6V383.1M31.5 399.2H33.3M31.5 407.5H32.7M31.5 399.2V407.5M31.0 345.7H34.4M31.0 351.6H33.7M31.0 345.7V351.6M30.5 377.3H32.0M30.5 390.7H33.0M30.5 377.3V390.7M29.9 348.6H31.0M29.9 359.2H32.4M29.9 348.6V359.2M34.1 418.7H34.4M34.1 421.0H34.4M34.1 418.7V421.0M34.2 430.5H34.4M34.2 432.8H34.4M34.2 430.5V432.8M34.0 435.2H34.4M34.0 437.5H34.4M34.0 435.2V437.5M34.0 477.6H34.4M34.0 479.9H34.4M34.0 477.6V479.9M33.9 468.1H34.4M33.9 470.5H34.4M33.9 468.1V470.5M34.2 451.6H34.4M34.2 454.0H34.4M34.2 451.6V454.0M34.0 461.1H34.4M34.0 463.4H34.4M34.0 461.1V463.4M34.1 442.2H34.4M34.1 444.6H34.4M34.1 442.2V444.6M34.1 425.7H34.4M34.1 428.1H34.4M34.1 425.7V428.1M33.9 411.6H34.4M33.9 414.0H34.4M33.9 411.6V414.0M34.2 456.4H34.4M34.2 458.7H34.4M34.2 456.4V458.7M33.9 423.4H34.4M33.9 426.9H34.1M33.9 423.4V426.9M34.0 446.9H34.4M34.0 449.3H34.4M34.0 446.9V449.3M33.6 439.9H34.4M33.6 443.4H34.1M33.6 439.9V443.4M33.8 472.8H34.4M33.8 475.2H34.4M33.8 472.8V475.2M33.6 416.3H34.4M33.6 419.9H34.1M33.6 416.3V419.9M33.4 457.5H34.2M33.4 462.2H34.0M33.4 457.5V462.2M33.2 465.8H34.4M33.2 469.3H33.9M33.2 465.8V469.3M33.0 474.0H33.8M33.0 478.7H34.0M33.0 474.0V478.7M32.7 441.6H33.6M32.7 448.1H34.0M32.7 441.6V448.1M32.3 418.1H33.6M32.3 425.2H33.9M32.3 418.1V425.2M32.0 431.6H34.2M32.0 436.3H34.0M32.0 431.6V436.3M31.5 444.9H32.7M31.5 452.8H34.2M31.5 444.9V452.8M31.1 467.5H33.2M31.1 476.4H33.0M31.1 467.5V476.4M30.5 412.8H33.9M30.5 421.6H32.3M30.5 412.8V421.6M29.9 459.9H33.4M29.9 472.0H31.1M29.9 459.9V472.0M34.2 501.1H34.4M34.2 503.5H34.4M34.2 501.1V503.5M34.2 496.4H34.4M34.2 498.7H34.4M34.2 496.4V498.7M34.0 487.0H34.4M34.0 489.3H34.4M34.0 487.0V489.3M33.8 494.0H34.4M33.8 497.6H34.2M33.8 494.0V497.6M33.9 505.8H34.4M33.9 508.2H34.4M33.9 505.8V508.2M33.3 495.8H33.8M33.3 502.3H34.2M33.3 495.8V502.3M33.5 482.3H34.4M33.5 484.6H34.4M33.5 482.3V484.6M33.0 488.1H34.0M33.0 491.7H34.4M33.0 488.1V491.7M32.2 507.0H33.9M32.2 510.5H34.4M32.2 507.0V510.5M31.2 489.9H33.0M31.2 499.0H33.3M31.2 489.9V499.0M29.9 483.4H33.5M29.9 494.5H31.2M29.9 483.4V494.5M34.2 519.6H34.4M34.2 522.0H34.4M34.2 519.6V522.0M34.1 524.4H34.4M34.1 526.7H34.4M34.1 524.4V526.7M33.6 517.3H34.4M33.6 520.8H34.2M33.6 517.3V520.8M32.3 514.9H34.4M32.3 519.0H33.6M32.3 514.9V519.0M29.6 517.0H32.3M29.6 525.5H34.1M29.6 517.0V525.5M33.9 569.4H34.4M33.9 571.8H34.4M33.9 569.4V571.8M34.0 543.3H34.4M34.0 545.7H34.4M34.0 543.3V545.7M34.1 548.1H34.4M34.1 550.4H34.4M34.1 548.1V550.4M34.2 562.3H34.4M34.2 564.7H34.4M34.2 562.3V564.7M34.1 529.1H34.4M34.1 531.5H34.4M34.1 529.1V531.5M33.9 576.5H34.4M33.9 578.9H34.4M33.9 576.5V578.9M34.2 536.2H34.4M34.2 538.6H34.4M34.2 536.2V538.6M34.2 583.6H34.4M34.2 586.0H34.4M34.2 583.6V586.0M34.1 552.8H34.4M34.1 555.2H34.4M34.1 552.8V555.2M34.0 563.5H34.2M34.0 567.0H34.4M34.0 563.5V567.0M34.0 557.5H34.4M34.0 559.9H34.4M34.0 557.5V559.9M33.9 581.2H34.4M33.9 584.8H34.2M33.9 581.2V584.8M33.7 537.4H34.2M33.7 541.0H34.4M33.7 537.4V541.0M33.5 558.7H34.0M33.5 565.2H34.0M33.5 558.7V565.2M33.2 577.7H33.9M33.2 583.0H33.9M33.2 577.7V583.0M32.9 544.5H34.0M32.9 549.2H34.1M32.9 544.5V549.2M32.6 533.8H34.4M32.6 539.2H33.7M32.6 533.8V539.2M32.1 570.6H33.9M32.1 574.1H34.4M32.1 570.6V574.1M31.6 554.0H34.1M31.6 562.0H33.5M31.6 554.0V562.0M31.1 530.3H34.1M31.1 536.5H32.6M31.1 530.3V536.5M30.4 572.4H32.1M30.4 580.3H33.2M30.4 572.4V580.3M29.7 546.9H32.9M29.7 558.0H31.6M29.7 546.9V558.0M34.0 612.0H34.4M34.0 614.4H34.4M34.0 612.0V614.4M33.9 593.1H34.4M33.9 595.5H34.4M33.9 593.1V595.5M34.1 607.3H34.4M34.1 609.7H34.4M34.1 607.3V609.7M33.8 604.9H34.4M33.8 608.5H34.1M33.8 604.9V608.5M34.2 600.2H34.4M34.2 602.6H34.4M34.2 600.2V602.6M33.5 606.7H33.8M33.5 613.2H34.0M33.5 606.7V613.2M33.6 597.8H34.4M33.6 601.4H34.2M33.6 597.8V601.4M33.1 588.3H34.4M33.1 590.7H34.4M33.1 588.3V590.7M32.4 594.3H33.9M32.4 599.6H33.6M32.4 594.3V599.6M31.4 596.9H32.4M31.4 610.0H33.5M31.4 596.9V610.0M30.2 589.5H33.1M30.2 603.5H31.4M30.2 589.5V603.5M31.0 134.0V136.8" fill="none" stroke="#050505" stroke-width="1.15"/>
</svg></body></html>
